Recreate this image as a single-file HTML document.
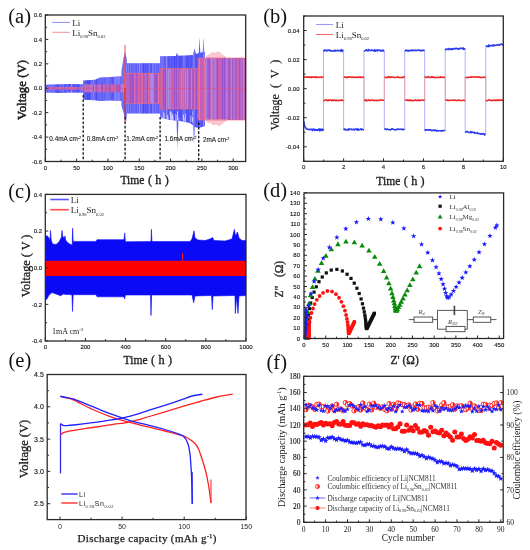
<!DOCTYPE html><html><head><meta charset="utf-8"><style>html,body{margin:0;padding:0;background:#fff;}svg{display:block;filter:blur(0.45px);}</style></head><body><svg width="530" height="550" viewBox="0 0 530 550">
<rect width="530" height="550" fill="#fff"/>
<defs>
<clipPath id="cbA"><polygon points="45.3,84.8 60.0,84.3 70.0,84.0 83.2,84.2 83.2,92.8 70.0,92.6 60.0,93.0 45.3,92.6"/><polygon points="83.2,80.6 95.0,79.8 100.0,77.6 110.0,77.0 124.0,76.2 125.1,75.0 125.1,101.5 124.0,101.0 110.0,100.6 100.0,101.0 95.0,100.2 83.2,99.8"/><polygon points="125.1,63.3 160.1,63.3 160.1,113.6 125.1,113.6"/><polygon points="121.5,71.0 123.5,58.0 125.0,52.0 126.5,58.0 127.0,63.0 127.0,114.0 126.0,122.0 124.0,114.0 121.5,106.0"/><polygon points="160.1,56.2 176.0,56.0 177.0,52.5 178.0,55.8 186.0,55.5 193.0,55.0 194.5,48.5 196.0,54.0 198.7,53.0 205.0,52.0 205.0,126.0 198.7,128.0 195.0,127.0 190.0,123.0 180.0,121.0 170.0,120.0 160.1,118.0"/><polygon points="176.5,118.0 177.5,149.5 178.5,118.0"/><polygon points="193.0,120.0 194.0,144.0 195.0,120.0"/><polygon points="198.5,60.0 199.5,37.3 200.5,55.0 202.5,55.0 203.6,37.3 204.6,60.0 204.6,120.0 198.5,120.0"/></clipPath>
<clipPath id="crA"><polygon points="45.3,86.9 83.2,86.9 83.2,89.4 45.3,89.4"/><polygon points="83.2,84.6 125.1,84.6 125.1,92.2 83.2,92.2"/><polygon points="125.1,73.3 160.1,73.3 160.1,103.6 125.1,103.6"/><polygon points="160.1,68.4 198.7,68.4 198.7,109.0 160.1,109.0"/><polygon points="198.2,58.0 245.7,58.0 245.7,120.0 198.2,120.0"/></clipPath>
</defs>
<g clip-path="url(#cbA)">
<rect x="45" y="15" width="201" height="147" fill="#5e5ef8"/>
<rect x="45.50" y="15" width="0.82" height="147" fill="#a8a8fc" fill-opacity="0.75"/>
<rect x="48.29" y="15" width="1.05" height="147" fill="#8484fa" fill-opacity="0.75"/>
<rect x="50.55" y="15" width="0.91" height="147" fill="#9a9afc" fill-opacity="0.75"/>
<rect x="53.25" y="15" width="0.83" height="147" fill="#a8a8fc" fill-opacity="0.75"/>
<rect x="55.94" y="15" width="0.57" height="147" fill="#4a4af4" fill-opacity="0.75"/>
<rect x="57.66" y="15" width="0.88" height="147" fill="#3c3cf0" fill-opacity="0.75"/>
<rect x="60.05" y="15" width="0.78" height="147" fill="#8484fa" fill-opacity="0.75"/>
<rect x="62.53" y="15" width="0.93" height="147" fill="#9a9afc" fill-opacity="0.75"/>
<rect x="64.96" y="15" width="1.08" height="147" fill="#3c3cf0" fill-opacity="0.75"/>
<rect x="66.55" y="15" width="0.63" height="147" fill="#9a9afc" fill-opacity="0.75"/>
<rect x="68.95" y="15" width="1.04" height="147" fill="#4a4af4" fill-opacity="0.75"/>
<rect x="71.11" y="15" width="1.09" height="147" fill="#a8a8fc" fill-opacity="0.75"/>
<rect x="72.96" y="15" width="0.71" height="147" fill="#3c3cf0" fill-opacity="0.75"/>
<rect x="75.46" y="15" width="0.82" height="147" fill="#4a4af4" fill-opacity="0.75"/>
<rect x="77.57" y="15" width="0.89" height="147" fill="#3c3cf0" fill-opacity="0.75"/>
<rect x="80.13" y="15" width="0.72" height="147" fill="#9a9afc" fill-opacity="0.75"/>
<rect x="82.40" y="15" width="0.52" height="147" fill="#a8a8fc" fill-opacity="0.75"/>
<rect x="85.05" y="15" width="0.78" height="147" fill="#4a4af4" fill-opacity="0.75"/>
<rect x="87.13" y="15" width="1.17" height="147" fill="#3c3cf0" fill-opacity="0.75"/>
<rect x="88.95" y="15" width="1.15" height="147" fill="#3c3cf0" fill-opacity="0.75"/>
<rect x="91.15" y="15" width="1.19" height="147" fill="#8484fa" fill-opacity="0.75"/>
<rect x="93.28" y="15" width="0.90" height="147" fill="#9a9afc" fill-opacity="0.75"/>
<rect x="95.95" y="15" width="0.69" height="147" fill="#3c3cf0" fill-opacity="0.75"/>
<rect x="97.92" y="15" width="0.51" height="147" fill="#8484fa" fill-opacity="0.75"/>
<rect x="100.55" y="15" width="0.58" height="147" fill="#9a9afc" fill-opacity="0.75"/>
<rect x="103.11" y="15" width="0.51" height="147" fill="#8484fa" fill-opacity="0.75"/>
<rect x="105.81" y="15" width="0.62" height="147" fill="#a8a8fc" fill-opacity="0.75"/>
<rect x="107.59" y="15" width="0.86" height="147" fill="#9a9afc" fill-opacity="0.75"/>
<rect x="109.72" y="15" width="0.77" height="147" fill="#8484fa" fill-opacity="0.75"/>
<rect x="111.85" y="15" width="0.65" height="147" fill="#4a4af4" fill-opacity="0.75"/>
<rect x="114.65" y="15" width="1.18" height="147" fill="#a8a8fc" fill-opacity="0.75"/>
<rect x="116.61" y="15" width="1.12" height="147" fill="#9a9afc" fill-opacity="0.75"/>
<rect x="118.39" y="15" width="1.20" height="147" fill="#a8a8fc" fill-opacity="0.75"/>
<rect x="120.85" y="15" width="0.57" height="147" fill="#9a9afc" fill-opacity="0.75"/>
<rect x="122.67" y="15" width="0.68" height="147" fill="#a8a8fc" fill-opacity="0.75"/>
<rect x="124.66" y="15" width="0.71" height="147" fill="#3c3cf0" fill-opacity="0.75"/>
<rect x="126.27" y="15" width="0.65" height="147" fill="#9a9afc" fill-opacity="0.75"/>
<rect x="127.80" y="15" width="0.76" height="147" fill="#a8a8fc" fill-opacity="0.75"/>
<rect x="129.98" y="15" width="1.17" height="147" fill="#8484fa" fill-opacity="0.75"/>
<rect x="132.73" y="15" width="0.60" height="147" fill="#8484fa" fill-opacity="0.75"/>
<rect x="134.50" y="15" width="0.61" height="147" fill="#9a9afc" fill-opacity="0.75"/>
<rect x="137.23" y="15" width="0.67" height="147" fill="#9a9afc" fill-opacity="0.75"/>
<rect x="138.96" y="15" width="0.94" height="147" fill="#a8a8fc" fill-opacity="0.75"/>
<rect x="140.76" y="15" width="1.17" height="147" fill="#8484fa" fill-opacity="0.75"/>
<rect x="143.16" y="15" width="0.80" height="147" fill="#3c3cf0" fill-opacity="0.75"/>
<rect x="144.83" y="15" width="0.86" height="147" fill="#4a4af4" fill-opacity="0.75"/>
<rect x="146.69" y="15" width="0.99" height="147" fill="#4a4af4" fill-opacity="0.75"/>
<rect x="148.82" y="15" width="1.13" height="147" fill="#8484fa" fill-opacity="0.75"/>
<rect x="150.76" y="15" width="0.62" height="147" fill="#3c3cf0" fill-opacity="0.75"/>
<rect x="152.45" y="15" width="0.84" height="147" fill="#a8a8fc" fill-opacity="0.75"/>
<rect x="154.87" y="15" width="0.70" height="147" fill="#9a9afc" fill-opacity="0.75"/>
<rect x="157.49" y="15" width="0.55" height="147" fill="#8484fa" fill-opacity="0.75"/>
<rect x="159.66" y="15" width="0.54" height="147" fill="#9a9afc" fill-opacity="0.75"/>
<rect x="161.58" y="15" width="0.87" height="147" fill="#9a9afc" fill-opacity="0.75"/>
<rect x="163.22" y="15" width="0.60" height="147" fill="#8484fa" fill-opacity="0.75"/>
<rect x="166.19" y="15" width="0.96" height="147" fill="#a8a8fc" fill-opacity="0.75"/>
<rect x="168.57" y="15" width="0.60" height="147" fill="#3c3cf0" fill-opacity="0.75"/>
<rect x="171.45" y="15" width="0.83" height="147" fill="#4a4af4" fill-opacity="0.75"/>
<rect x="174.01" y="15" width="1.17" height="147" fill="#3c3cf0" fill-opacity="0.75"/>
<rect x="176.40" y="15" width="0.55" height="147" fill="#3c3cf0" fill-opacity="0.75"/>
<rect x="179.00" y="15" width="0.72" height="147" fill="#3c3cf0" fill-opacity="0.75"/>
<rect x="180.61" y="15" width="0.88" height="147" fill="#3c3cf0" fill-opacity="0.75"/>
<rect x="183.46" y="15" width="1.02" height="147" fill="#9a9afc" fill-opacity="0.75"/>
<rect x="186.15" y="15" width="1.14" height="147" fill="#4a4af4" fill-opacity="0.75"/>
<rect x="187.78" y="15" width="0.83" height="147" fill="#3c3cf0" fill-opacity="0.75"/>
<rect x="190.59" y="15" width="0.79" height="147" fill="#3c3cf0" fill-opacity="0.75"/>
<rect x="193.38" y="15" width="0.90" height="147" fill="#a8a8fc" fill-opacity="0.75"/>
<rect x="195.87" y="15" width="0.77" height="147" fill="#3c3cf0" fill-opacity="0.75"/>
<rect x="198.29" y="15" width="0.56" height="147" fill="#3c3cf0" fill-opacity="0.75"/>
<rect x="201.28" y="15" width="1.12" height="147" fill="#4a4af4" fill-opacity="0.75"/>
<rect x="203.36" y="15" width="1.01" height="147" fill="#a8a8fc" fill-opacity="0.75"/>
<rect x="205.55" y="15" width="0.82" height="147" fill="#a8a8fc" fill-opacity="0.75"/>
<rect x="207.17" y="15" width="1.03" height="147" fill="#3c3cf0" fill-opacity="0.75"/>
<rect x="209.14" y="15" width="0.56" height="147" fill="#3c3cf0" fill-opacity="0.75"/>
<rect x="210.98" y="15" width="0.99" height="147" fill="#8484fa" fill-opacity="0.75"/>
<rect x="213.65" y="15" width="0.96" height="147" fill="#8484fa" fill-opacity="0.75"/>
<rect x="215.54" y="15" width="0.51" height="147" fill="#4a4af4" fill-opacity="0.75"/>
<rect x="217.25" y="15" width="0.93" height="147" fill="#a8a8fc" fill-opacity="0.75"/>
<rect x="219.01" y="15" width="1.13" height="147" fill="#8484fa" fill-opacity="0.75"/>
<rect x="221.25" y="15" width="0.67" height="147" fill="#8484fa" fill-opacity="0.75"/>
<rect x="223.75" y="15" width="0.64" height="147" fill="#8484fa" fill-opacity="0.75"/>
<rect x="226.46" y="15" width="1.03" height="147" fill="#9a9afc" fill-opacity="0.75"/>
<rect x="229.28" y="15" width="0.77" height="147" fill="#a8a8fc" fill-opacity="0.75"/>
<rect x="232.16" y="15" width="0.65" height="147" fill="#9a9afc" fill-opacity="0.75"/>
<rect x="234.40" y="15" width="1.09" height="147" fill="#3c3cf0" fill-opacity="0.75"/>
<rect x="236.97" y="15" width="1.17" height="147" fill="#4a4af4" fill-opacity="0.75"/>
<rect x="239.70" y="15" width="0.58" height="147" fill="#8484fa" fill-opacity="0.75"/>
<rect x="241.62" y="15" width="0.65" height="147" fill="#8484fa" fill-opacity="0.75"/>
<rect x="243.69" y="15" width="0.86" height="147" fill="#4a4af4" fill-opacity="0.75"/>
</g>
<rect x="176.1" y="114.8" width="0.5" height="10.8" fill="#fff" fill-opacity="0.7"/>
<rect x="169.3" y="111.2" width="0.4" height="4.0" fill="#fff" fill-opacity="0.7"/>
<rect x="166.8" y="114.6" width="0.8" height="11.9" fill="#fff" fill-opacity="0.7"/>
<rect x="175.0" y="113.8" width="0.6" height="9.2" fill="#fff" fill-opacity="0.7"/>
<rect x="163.7" y="116.9" width="0.5" height="8.6" fill="#fff" fill-opacity="0.7"/>
<rect x="163.6" y="111.7" width="0.5" height="11.6" fill="#fff" fill-opacity="0.7"/>
<rect x="184.1" y="117.8" width="0.6" height="3.3" fill="#fff" fill-opacity="0.7"/>
<rect x="178.7" y="117.4" width="0.6" height="4.7" fill="#fff" fill-opacity="0.7"/>
<rect x="170.2" y="111.3" width="0.9" height="9.1" fill="#fff" fill-opacity="0.7"/>
<rect x="177.1" y="111.3" width="0.8" height="9.4" fill="#fff" fill-opacity="0.7"/>
<rect x="185.2" y="113.3" width="0.8" height="10.5" fill="#fff" fill-opacity="0.7"/>
<rect x="182.8" y="114.8" width="0.7" height="5.1" fill="#fff" fill-opacity="0.7"/>
<rect x="190.4" y="115.8" width="0.9" height="6.1" fill="#fff" fill-opacity="0.7"/>
<rect x="192.1" y="111.3" width="0.5" height="4.4" fill="#fff" fill-opacity="0.7"/>
<rect x="161.5" y="116.3" width="0.7" height="8.8" fill="#fff" fill-opacity="0.7"/>
<rect x="197.8" y="113.5" width="0.5" height="4.8" fill="#fff" fill-opacity="0.7"/>
<rect x="173.6" y="116.9" width="0.4" height="8.5" fill="#fff" fill-opacity="0.7"/>
<rect x="177.0" y="111.3" width="0.5" height="8.6" fill="#fff" fill-opacity="0.7"/>
<rect x="167.6" y="115.5" width="0.8" height="10.5" fill="#fff" fill-opacity="0.7"/>
<rect x="171.9" y="115.5" width="0.4" height="5.4" fill="#fff" fill-opacity="0.7"/>
<rect x="171.1" y="115.8" width="0.5" height="8.6" fill="#fff" fill-opacity="0.7"/>
<rect x="192.1" y="116.8" width="1.0" height="5.5" fill="#fff" fill-opacity="0.7"/>
<rect x="170.7" y="111.5" width="0.9" height="7.6" fill="#fff" fill-opacity="0.7"/>
<rect x="183.2" y="114.8" width="0.6" height="7.4" fill="#fff" fill-opacity="0.7"/>
<rect x="172.1" y="113.8" width="1.0" height="7.9" fill="#fff" fill-opacity="0.7"/>
<rect x="163.7" y="112.8" width="0.8" height="11.5" fill="#fff" fill-opacity="0.7"/>
<g clip-path="url(#crA)">
<rect x="45" y="15" width="201" height="147" fill="#b464c4"/>
<rect x="45.50" y="15" width="0.98" height="147" fill="#9048d4" fill-opacity="0.8"/>
<rect x="47.33" y="15" width="0.88" height="147" fill="#b0a0f4" fill-opacity="0.8"/>
<rect x="48.55" y="15" width="0.90" height="147" fill="#d85aa8" fill-opacity="0.8"/>
<rect x="50.52" y="15" width="0.97" height="147" fill="#a890f0" fill-opacity="0.8"/>
<rect x="52.44" y="15" width="1.05" height="147" fill="#9048d4" fill-opacity="0.8"/>
<rect x="54.39" y="15" width="1.38" height="147" fill="#d85aa8" fill-opacity="0.8"/>
<rect x="55.79" y="15" width="1.32" height="147" fill="#f06090" fill-opacity="0.8"/>
<rect x="57.68" y="15" width="0.76" height="147" fill="#f07898" fill-opacity="0.8"/>
<rect x="59.70" y="15" width="0.87" height="147" fill="#b0a0f4" fill-opacity="0.8"/>
<rect x="61.86" y="15" width="0.67" height="147" fill="#f06090" fill-opacity="0.8"/>
<rect x="64.04" y="15" width="1.13" height="147" fill="#8a50dc" fill-opacity="0.8"/>
<rect x="65.35" y="15" width="1.39" height="147" fill="#b0a0f4" fill-opacity="0.8"/>
<rect x="66.69" y="15" width="0.94" height="147" fill="#8a50dc" fill-opacity="0.8"/>
<rect x="68.53" y="15" width="1.31" height="147" fill="#f07898" fill-opacity="0.8"/>
<rect x="69.93" y="15" width="1.16" height="147" fill="#f06090" fill-opacity="0.8"/>
<rect x="71.80" y="15" width="1.01" height="147" fill="#f06090" fill-opacity="0.8"/>
<rect x="73.48" y="15" width="0.94" height="147" fill="#f07898" fill-opacity="0.8"/>
<rect x="75.24" y="15" width="1.09" height="147" fill="#f07898" fill-opacity="0.8"/>
<rect x="76.48" y="15" width="1.18" height="147" fill="#8a50dc" fill-opacity="0.8"/>
<rect x="78.85" y="15" width="1.13" height="147" fill="#d85aa8" fill-opacity="0.8"/>
<rect x="81.18" y="15" width="1.29" height="147" fill="#b0a0f4" fill-opacity="0.8"/>
<rect x="83.19" y="15" width="0.69" height="147" fill="#8a50dc" fill-opacity="0.8"/>
<rect x="84.79" y="15" width="0.90" height="147" fill="#f07898" fill-opacity="0.8"/>
<rect x="86.96" y="15" width="1.00" height="147" fill="#f06090" fill-opacity="0.8"/>
<rect x="88.62" y="15" width="1.29" height="147" fill="#f06090" fill-opacity="0.8"/>
<rect x="90.44" y="15" width="0.78" height="147" fill="#b0a0f4" fill-opacity="0.8"/>
<rect x="91.69" y="15" width="0.76" height="147" fill="#f07898" fill-opacity="0.8"/>
<rect x="93.02" y="15" width="1.04" height="147" fill="#8a50dc" fill-opacity="0.8"/>
<rect x="94.31" y="15" width="0.82" height="147" fill="#b0a0f4" fill-opacity="0.8"/>
<rect x="95.84" y="15" width="0.88" height="147" fill="#9048d4" fill-opacity="0.8"/>
<rect x="97.91" y="15" width="1.01" height="147" fill="#d85aa8" fill-opacity="0.8"/>
<rect x="99.36" y="15" width="0.83" height="147" fill="#b0a0f4" fill-opacity="0.8"/>
<rect x="101.40" y="15" width="1.28" height="147" fill="#8a50dc" fill-opacity="0.8"/>
<rect x="103.75" y="15" width="0.73" height="147" fill="#f07898" fill-opacity="0.8"/>
<rect x="105.38" y="15" width="0.75" height="147" fill="#9048d4" fill-opacity="0.8"/>
<rect x="106.85" y="15" width="1.09" height="147" fill="#d85aa8" fill-opacity="0.8"/>
<rect x="109.15" y="15" width="1.24" height="147" fill="#8a50dc" fill-opacity="0.8"/>
<rect x="110.64" y="15" width="0.61" height="147" fill="#f06090" fill-opacity="0.8"/>
<rect x="112.13" y="15" width="0.69" height="147" fill="#d85aa8" fill-opacity="0.8"/>
<rect x="114.53" y="15" width="1.00" height="147" fill="#f06090" fill-opacity="0.8"/>
<rect x="116.84" y="15" width="1.31" height="147" fill="#9048d4" fill-opacity="0.8"/>
<rect x="119.04" y="15" width="1.11" height="147" fill="#8a50dc" fill-opacity="0.8"/>
<rect x="121.18" y="15" width="1.00" height="147" fill="#b0a0f4" fill-opacity="0.8"/>
<rect x="123.14" y="15" width="0.81" height="147" fill="#b0a0f4" fill-opacity="0.8"/>
<rect x="125.41" y="15" width="0.73" height="147" fill="#d85aa8" fill-opacity="0.8"/>
<rect x="127.35" y="15" width="0.64" height="147" fill="#d85aa8" fill-opacity="0.8"/>
<rect x="129.68" y="15" width="1.01" height="147" fill="#9048d4" fill-opacity="0.8"/>
<rect x="131.42" y="15" width="1.23" height="147" fill="#9048d4" fill-opacity="0.8"/>
<rect x="132.96" y="15" width="0.80" height="147" fill="#9048d4" fill-opacity="0.8"/>
<rect x="134.16" y="15" width="0.62" height="147" fill="#f07898" fill-opacity="0.8"/>
<rect x="136.43" y="15" width="0.94" height="147" fill="#8a50dc" fill-opacity="0.8"/>
<rect x="137.87" y="15" width="0.98" height="147" fill="#f06090" fill-opacity="0.8"/>
<rect x="139.74" y="15" width="1.10" height="147" fill="#d85aa8" fill-opacity="0.8"/>
<rect x="141.85" y="15" width="0.93" height="147" fill="#f07898" fill-opacity="0.8"/>
<rect x="143.16" y="15" width="0.92" height="147" fill="#8a50dc" fill-opacity="0.8"/>
<rect x="145.06" y="15" width="0.88" height="147" fill="#d85aa8" fill-opacity="0.8"/>
<rect x="147.02" y="15" width="0.91" height="147" fill="#8a50dc" fill-opacity="0.8"/>
<rect x="148.25" y="15" width="1.17" height="147" fill="#f06090" fill-opacity="0.8"/>
<rect x="150.40" y="15" width="1.32" height="147" fill="#b0a0f4" fill-opacity="0.8"/>
<rect x="152.24" y="15" width="1.23" height="147" fill="#b0a0f4" fill-opacity="0.8"/>
<rect x="154.40" y="15" width="1.17" height="147" fill="#8a50dc" fill-opacity="0.8"/>
<rect x="155.97" y="15" width="1.35" height="147" fill="#9048d4" fill-opacity="0.8"/>
<rect x="157.99" y="15" width="0.99" height="147" fill="#f07898" fill-opacity="0.8"/>
<rect x="159.34" y="15" width="1.03" height="147" fill="#9048d4" fill-opacity="0.8"/>
<rect x="161.36" y="15" width="1.06" height="147" fill="#f06090" fill-opacity="0.8"/>
<rect x="163.05" y="15" width="0.86" height="147" fill="#9048d4" fill-opacity="0.8"/>
<rect x="164.65" y="15" width="1.15" height="147" fill="#9048d4" fill-opacity="0.8"/>
<rect x="166.22" y="15" width="1.16" height="147" fill="#a890f0" fill-opacity="0.8"/>
<rect x="168.23" y="15" width="1.11" height="147" fill="#b0a0f4" fill-opacity="0.8"/>
<rect x="169.87" y="15" width="0.62" height="147" fill="#b0a0f4" fill-opacity="0.8"/>
<rect x="171.82" y="15" width="0.99" height="147" fill="#f06090" fill-opacity="0.8"/>
<rect x="173.82" y="15" width="0.87" height="147" fill="#8a50dc" fill-opacity="0.8"/>
<rect x="176.08" y="15" width="0.68" height="147" fill="#8a50dc" fill-opacity="0.8"/>
<rect x="177.29" y="15" width="0.89" height="147" fill="#d85aa8" fill-opacity="0.8"/>
<rect x="179.51" y="15" width="1.15" height="147" fill="#d85aa8" fill-opacity="0.8"/>
<rect x="180.98" y="15" width="1.34" height="147" fill="#f07898" fill-opacity="0.8"/>
<rect x="183.26" y="15" width="0.87" height="147" fill="#f07898" fill-opacity="0.8"/>
<rect x="185.02" y="15" width="1.09" height="147" fill="#a890f0" fill-opacity="0.8"/>
<rect x="187.06" y="15" width="0.97" height="147" fill="#a890f0" fill-opacity="0.8"/>
<rect x="189.29" y="15" width="1.27" height="147" fill="#8a50dc" fill-opacity="0.8"/>
<rect x="190.98" y="15" width="1.16" height="147" fill="#a890f0" fill-opacity="0.8"/>
<rect x="192.65" y="15" width="1.14" height="147" fill="#9048d4" fill-opacity="0.8"/>
<rect x="193.91" y="15" width="0.69" height="147" fill="#f07898" fill-opacity="0.8"/>
<rect x="195.93" y="15" width="0.88" height="147" fill="#9048d4" fill-opacity="0.8"/>
<rect x="197.15" y="15" width="1.22" height="147" fill="#d85aa8" fill-opacity="0.8"/>
<rect x="199.11" y="15" width="0.74" height="147" fill="#b0a0f4" fill-opacity="0.8"/>
<rect x="200.58" y="15" width="1.04" height="147" fill="#d85aa8" fill-opacity="0.8"/>
<rect x="202.38" y="15" width="0.94" height="147" fill="#d85aa8" fill-opacity="0.8"/>
<rect x="203.92" y="15" width="1.35" height="147" fill="#f07898" fill-opacity="0.8"/>
<rect x="205.46" y="15" width="1.25" height="147" fill="#a890f0" fill-opacity="0.8"/>
<rect x="207.73" y="15" width="0.86" height="147" fill="#8a50dc" fill-opacity="0.8"/>
<rect x="209.25" y="15" width="0.63" height="147" fill="#9048d4" fill-opacity="0.8"/>
<rect x="211.18" y="15" width="1.23" height="147" fill="#b0a0f4" fill-opacity="0.8"/>
<rect x="212.88" y="15" width="1.13" height="147" fill="#d85aa8" fill-opacity="0.8"/>
<rect x="214.57" y="15" width="0.90" height="147" fill="#b0a0f4" fill-opacity="0.8"/>
<rect x="216.90" y="15" width="1.25" height="147" fill="#8a50dc" fill-opacity="0.8"/>
<rect x="218.30" y="15" width="0.76" height="147" fill="#d85aa8" fill-opacity="0.8"/>
<rect x="219.64" y="15" width="0.81" height="147" fill="#f06090" fill-opacity="0.8"/>
<rect x="221.88" y="15" width="1.12" height="147" fill="#9048d4" fill-opacity="0.8"/>
<rect x="224.06" y="15" width="0.89" height="147" fill="#9048d4" fill-opacity="0.8"/>
<rect x="226.36" y="15" width="1.22" height="147" fill="#a890f0" fill-opacity="0.8"/>
<rect x="228.60" y="15" width="1.27" height="147" fill="#8a50dc" fill-opacity="0.8"/>
<rect x="230.70" y="15" width="1.29" height="147" fill="#f07898" fill-opacity="0.8"/>
<rect x="232.27" y="15" width="0.61" height="147" fill="#8a50dc" fill-opacity="0.8"/>
<rect x="233.70" y="15" width="0.76" height="147" fill="#a890f0" fill-opacity="0.8"/>
<rect x="235.26" y="15" width="0.75" height="147" fill="#8a50dc" fill-opacity="0.8"/>
<rect x="237.39" y="15" width="1.04" height="147" fill="#f06090" fill-opacity="0.8"/>
<rect x="239.32" y="15" width="0.68" height="147" fill="#9048d4" fill-opacity="0.8"/>
<rect x="241.11" y="15" width="0.76" height="147" fill="#f06090" fill-opacity="0.8"/>
<rect x="242.95" y="15" width="1.12" height="147" fill="#a890f0" fill-opacity="0.8"/>
<rect x="244.62" y="15" width="0.99" height="147" fill="#d85aa8" fill-opacity="0.8"/>
</g>
<path d="M206,57.5 L208,55 L210,55.2 L212,52.5 L215,53.5 L218,51.8 L221,53.5 L223,55.5 L226,57.5 Z" fill="#fbc8cf" stroke="#f49aa2" stroke-width="0.5"/>
<path d="M206,119.8 L208,122.5 L211,122.5 L213,125 L216,124 L219,125.5 L222,123.5 L224,122 L227,119.8 Z" fill="#fbc8cf" stroke="#f49aa2" stroke-width="0.5"/>
<polygon points="125.1,73.3 160.1,73.3 160.1,103.6 125.1,103.6" fill="none" stroke="#f06a7a" stroke-width="0.8" stroke-opacity="0.8"/>
<polygon points="160.1,68.4 198.7,68.4 198.7,109.0 160.1,109.0" fill="none" stroke="#f06a7a" stroke-width="0.8" stroke-opacity="0.8"/>
<polygon points="198.2,58.0 245.7,58.0 245.7,120.0 198.2,120.0" fill="none" stroke="#f06a7a" stroke-width="0.8" stroke-opacity="0.8"/>
<line x1="45.3" y1="88.3" x2="245.7" y2="88.3" stroke="#e05080" stroke-width="0.8" stroke-opacity="0.8"/>
<polyline points="124.2,100 125.0,45 125.8,100" fill="#f05a5a" stroke="#f05a5a" stroke-width="0.6"/>
<polyline points="124.4,88 125.0,122 125.6,88" fill="#d04040" stroke="#d04040" stroke-width="0.5"/>
<line x1="83.2" y1="95" x2="83.2" y2="161" stroke="#111" stroke-width="1.3" stroke-dasharray="2.6,1.8"/>
<line x1="125.1" y1="117" x2="125.1" y2="161" stroke="#111" stroke-width="1.3" stroke-dasharray="2.6,1.8"/>
<line x1="160.1" y1="117" x2="160.1" y2="161" stroke="#111" stroke-width="1.3" stroke-dasharray="2.6,1.8"/>
<line x1="198.7" y1="122.5" x2="198.7" y2="161" stroke="#111" stroke-width="1.3" stroke-dasharray="2.6,1.8"/>
<rect x="45.3" y="15" width="200.40" height="146.50" fill="none" stroke="#2a2a2a" stroke-width="1.3"/>
<line x1="45.30" y1="161.5" x2="45.30" y2="158.5" stroke="#2a2a2a" stroke-width="1"/>
<text x="45.30" y="169.50" font-family='"Liberation Sans", sans-serif' font-size="6" text-anchor="middle" font-weight="normal" fill="#111" stroke="#111" stroke-width="0.12">0</text>
<line x1="60.96" y1="161.5" x2="60.96" y2="159.7" stroke="#2a2a2a" stroke-width="1"/>
<line x1="76.61" y1="161.5" x2="76.61" y2="158.5" stroke="#2a2a2a" stroke-width="1"/>
<text x="76.61" y="169.50" font-family='"Liberation Sans", sans-serif' font-size="6" text-anchor="middle" font-weight="normal" fill="#111" stroke="#111" stroke-width="0.12">50</text>
<line x1="92.27" y1="161.5" x2="92.27" y2="159.7" stroke="#2a2a2a" stroke-width="1"/>
<line x1="107.92" y1="161.5" x2="107.92" y2="158.5" stroke="#2a2a2a" stroke-width="1"/>
<text x="107.92" y="169.50" font-family='"Liberation Sans", sans-serif' font-size="6" text-anchor="middle" font-weight="normal" fill="#111" stroke="#111" stroke-width="0.12">100</text>
<line x1="123.58" y1="161.5" x2="123.58" y2="159.7" stroke="#2a2a2a" stroke-width="1"/>
<line x1="139.24" y1="161.5" x2="139.24" y2="158.5" stroke="#2a2a2a" stroke-width="1"/>
<text x="139.24" y="169.50" font-family='"Liberation Sans", sans-serif' font-size="6" text-anchor="middle" font-weight="normal" fill="#111" stroke="#111" stroke-width="0.12">150</text>
<line x1="154.89" y1="161.5" x2="154.89" y2="159.7" stroke="#2a2a2a" stroke-width="1"/>
<line x1="170.55" y1="161.5" x2="170.55" y2="158.5" stroke="#2a2a2a" stroke-width="1"/>
<text x="170.55" y="169.50" font-family='"Liberation Sans", sans-serif' font-size="6" text-anchor="middle" font-weight="normal" fill="#111" stroke="#111" stroke-width="0.12">200</text>
<line x1="186.21" y1="161.5" x2="186.21" y2="159.7" stroke="#2a2a2a" stroke-width="1"/>
<line x1="201.86" y1="161.5" x2="201.86" y2="158.5" stroke="#2a2a2a" stroke-width="1"/>
<text x="201.86" y="169.50" font-family='"Liberation Sans", sans-serif' font-size="6" text-anchor="middle" font-weight="normal" fill="#111" stroke="#111" stroke-width="0.12">250</text>
<line x1="217.52" y1="161.5" x2="217.52" y2="159.7" stroke="#2a2a2a" stroke-width="1"/>
<line x1="233.18" y1="161.5" x2="233.18" y2="158.5" stroke="#2a2a2a" stroke-width="1"/>
<text x="233.18" y="169.50" font-family='"Liberation Sans", sans-serif' font-size="6" text-anchor="middle" font-weight="normal" fill="#111" stroke="#111" stroke-width="0.12">300</text>
<line x1="45.3" y1="161.50" x2="48.3" y2="161.50" stroke="#2a2a2a" stroke-width="1"/>
<text x="42.00" y="163.66" font-family='"Liberation Sans", sans-serif' font-size="6" text-anchor="end" font-weight="normal" fill="#111" stroke="#111" stroke-width="0.12">-0.6</text>
<line x1="45.3" y1="149.29" x2="47.099999999999994" y2="149.29" stroke="#2a2a2a" stroke-width="1"/>
<line x1="45.3" y1="137.08" x2="48.3" y2="137.08" stroke="#2a2a2a" stroke-width="1"/>
<text x="42.00" y="139.24" font-family='"Liberation Sans", sans-serif' font-size="6" text-anchor="end" font-weight="normal" fill="#111" stroke="#111" stroke-width="0.12">-0.4</text>
<line x1="45.3" y1="124.88" x2="47.099999999999994" y2="124.88" stroke="#2a2a2a" stroke-width="1"/>
<line x1="45.3" y1="112.67" x2="48.3" y2="112.67" stroke="#2a2a2a" stroke-width="1"/>
<text x="42.00" y="114.83" font-family='"Liberation Sans", sans-serif' font-size="6" text-anchor="end" font-weight="normal" fill="#111" stroke="#111" stroke-width="0.12">-0.2</text>
<line x1="45.3" y1="100.46" x2="47.099999999999994" y2="100.46" stroke="#2a2a2a" stroke-width="1"/>
<line x1="45.3" y1="88.25" x2="48.3" y2="88.25" stroke="#2a2a2a" stroke-width="1"/>
<text x="42.00" y="90.41" font-family='"Liberation Sans", sans-serif' font-size="6" text-anchor="end" font-weight="normal" fill="#111" stroke="#111" stroke-width="0.12">0.0</text>
<line x1="45.3" y1="76.04" x2="47.099999999999994" y2="76.04" stroke="#2a2a2a" stroke-width="1"/>
<line x1="45.3" y1="63.83" x2="48.3" y2="63.83" stroke="#2a2a2a" stroke-width="1"/>
<text x="42.00" y="65.99" font-family='"Liberation Sans", sans-serif' font-size="6" text-anchor="end" font-weight="normal" fill="#111" stroke="#111" stroke-width="0.12">0.2</text>
<line x1="45.3" y1="51.62" x2="47.099999999999994" y2="51.62" stroke="#2a2a2a" stroke-width="1"/>
<line x1="45.3" y1="39.42" x2="48.3" y2="39.42" stroke="#2a2a2a" stroke-width="1"/>
<text x="42.00" y="41.58" font-family='"Liberation Sans", sans-serif' font-size="6" text-anchor="end" font-weight="normal" fill="#111" stroke="#111" stroke-width="0.12">0.4</text>
<line x1="45.3" y1="27.21" x2="47.099999999999994" y2="27.21" stroke="#2a2a2a" stroke-width="1"/>
<line x1="45.3" y1="15.00" x2="48.3" y2="15.00" stroke="#2a2a2a" stroke-width="1"/>
<text x="42.00" y="17.16" font-family='"Liberation Sans", sans-serif' font-size="6" text-anchor="end" font-weight="normal" fill="#111" stroke="#111" stroke-width="0.12">0.6</text>
<text x="8.30" y="22.80" font-family='"Liberation Serif", serif' font-size="20.5" text-anchor="start" font-weight="normal" fill="#111" >(a)</text>
<line x1="52.2" y1="22.4" x2="69.9" y2="22.4" stroke="#8a8af8" stroke-width="1"/>
<line x1="52.2" y1="32.3" x2="69.9" y2="32.3" stroke="#f89090" stroke-width="1"/>
<text x="72.20" y="25.60" font-family='"Liberation Serif", serif' font-size="9" text-anchor="start" font-weight="normal" fill="#222" >Li</text>
<text x="72.2" y="35.6" font-family='"Liberation Serif", serif' font-size="9" fill="#222">Li<tspan font-size="4.5" dy="2.7">0.98</tspan><tspan dy="-2.7">Sn</tspan><tspan font-size="4.5" dy="2.7">0.02</tspan></text>
<text x="49.3" y="141.3" font-family='"Liberation Sans", sans-serif' font-size="6.4" fill="#1a1a1a" stroke="#1a1a1a" stroke-width="0.1">0.4mA cm<tspan font-size="3.8" dy="-2.4">-2</tspan></text>
<text x="86.7" y="141.3" font-family='"Liberation Sans", sans-serif' font-size="6.4" fill="#1a1a1a" stroke="#1a1a1a" stroke-width="0.1">0.8mA cm<tspan font-size="3.8" dy="-2.4">-2</tspan></text>
<text x="126.3" y="141.3" font-family='"Liberation Sans", sans-serif' font-size="6.4" fill="#1a1a1a" stroke="#1a1a1a" stroke-width="0.1">1.2mA cm<tspan font-size="3.8" dy="-2.4">-2</tspan></text>
<text x="164.5" y="141.3" font-family='"Liberation Sans", sans-serif' font-size="6.4" fill="#1a1a1a" stroke="#1a1a1a" stroke-width="0.1">1.6mA cm<tspan font-size="3.8" dy="-2.4">-2</tspan></text>
<text x="202.9" y="142.3" font-family='"Liberation Sans", sans-serif' font-size="6.4" fill="#1a1a1a" stroke="#1a1a1a" stroke-width="0.1">2mA cm<tspan font-size="3.8" dy="-2.4">-2</tspan></text>
<text x="120.40" y="184.1" font-family='"Liberation Serif", serif' font-size="12.2" fill="#1a1a1a" textLength="24" lengthAdjust="spacingAndGlyphs" stroke="#1a1a1a" stroke-width="0.3">Time</text>
<text x="147.90" y="184.1" font-family='"Liberation Serif", serif' font-size="12.2" fill="#1a1a1a" stroke="#1a1a1a" stroke-width="0.3">(</text>
<text x="158.40" y="184.1" font-family='"Liberation Serif", serif' font-size="12.2" fill="#1a1a1a" text-anchor="middle" stroke="#1a1a1a" stroke-width="0.3">h</text>
<text x="164.70" y="184.1" font-family='"Liberation Serif", serif' font-size="12.2" fill="#1a1a1a" stroke="#1a1a1a" stroke-width="0.3">)</text>
<text x="0" y="0" transform="translate(25.6,90) rotate(-90)" font-family='"Liberation Serif", serif' font-size="12.8" text-anchor="middle" fill="#1a1a1a" stroke="#1a1a1a" stroke-width="0.5">Voltage (V)</text>
<line x1="323.46" y1="129.8" x2="323.46" y2="50.6" stroke="#a8a8fa" stroke-width="0.9"/>
<line x1="343.62" y1="50.6" x2="343.62" y2="129.5" stroke="#a8a8fa" stroke-width="0.9"/>
<line x1="363.98" y1="129.5" x2="363.98" y2="50.3" stroke="#a8a8fa" stroke-width="0.9"/>
<line x1="384.34" y1="50.6" x2="384.34" y2="129.5" stroke="#a8a8fa" stroke-width="0.9"/>
<line x1="404.70" y1="129.5" x2="404.70" y2="50.6" stroke="#a8a8fa" stroke-width="0.9"/>
<line x1="424.66" y1="50.6" x2="424.66" y2="129.9" stroke="#a8a8fa" stroke-width="0.9"/>
<line x1="445.22" y1="130.6" x2="445.22" y2="49.1" stroke="#a8a8fa" stroke-width="0.9"/>
<line x1="465.18" y1="48.5" x2="465.18" y2="131.7" stroke="#a8a8fa" stroke-width="0.9"/>
<line x1="485.74" y1="134.4" x2="485.74" y2="46.4" stroke="#a8a8fa" stroke-width="0.9"/>
<polyline points="303.7,121.1 304.7,126.4 306.7,129.0 309.7,129.6 310.1,129.5 310.6,129.4 311.1,129.3 311.5,129.5 312.0,129.3 312.4,130.3 312.9,129.8 313.4,129.3 313.8,129.6 314.3,129.3 314.7,130.2 315.2,129.8 315.7,130.1 316.1,129.7 316.6,129.7 317.0,130.3 317.5,130.1 318.0,130.0 318.4,129.3 318.9,129.5 319.3,130.2 319.8,129.4 320.2,130.2 320.7,129.6 321.2,130.2 321.6,130.3 322.1,129.3 322.5,130.1 323.0,130.1 323.5,129.2" fill="none" stroke="#2a3aee" stroke-width="1.6"/>
<polyline points="323.5,50.1 324.1,50.8 324.8,50.0 325.5,50.5 326.1,50.4 326.8,50.9 327.5,50.1 328.2,50.4 328.8,50.0 329.5,50.1 330.2,50.8 330.9,50.7 331.5,51.0 332.2,51.0 332.9,51.1 333.5,50.8 334.2,50.5 334.9,51.2 335.6,50.4 336.2,50.8 336.9,50.8 337.6,50.2 338.2,50.6 338.9,50.8 339.6,50.6 340.3,50.3 340.9,51.1 341.6,50.0 342.3,51.1 342.9,50.3 343.6,50.2" fill="none" stroke="#2a3aee" stroke-width="1.6"/>
<polyline points="343.6,130.0 344.3,129.1 345.0,129.6 345.7,129.4 346.3,130.0 347.0,130.0 347.7,129.9 348.4,129.0 349.0,129.8 349.7,129.2 350.4,129.0 351.1,129.0 351.8,129.7 352.4,129.6 353.1,129.5 353.8,129.2 354.5,129.9 355.2,129.2 355.8,129.1 356.5,129.1 357.2,130.0 357.9,129.0 358.6,130.0 359.2,129.7 359.9,129.4 360.6,129.0 361.3,129.7 361.9,129.0 362.6,129.4 363.3,129.7 364.0,129.7" fill="none" stroke="#2a3aee" stroke-width="1.6"/>
<polyline points="364.0,50.7 364.7,50.8 365.3,50.7 366.0,50.1 366.7,49.8 367.4,50.7 368.1,50.9 368.7,49.8 369.4,50.3 370.1,50.5 370.8,50.7 371.4,50.3 372.1,50.0 372.8,50.5 373.5,50.5 374.2,51.0 374.8,50.0 375.5,51.0 376.2,50.5 376.9,50.1 377.6,50.9 378.2,50.2 378.9,50.0 379.6,50.4 380.3,50.2 380.9,51.0 381.6,50.6 382.3,51.0 383.0,50.2 383.7,50.8 384.3,50.6" fill="none" stroke="#2a3aee" stroke-width="1.6"/>
<polyline points="384.3,128.9 385.0,129.1 385.7,128.9 386.4,129.5 387.1,129.5 387.7,129.2 388.4,129.5 389.1,129.7 389.8,129.6 390.4,129.9 391.1,129.6 391.8,128.9 392.5,128.9 393.2,129.3 393.8,129.5 394.5,129.7 395.2,130.0 395.9,129.7 396.6,129.2 397.2,129.1 397.9,129.6 398.6,129.1 399.3,129.2 399.9,129.3 400.6,129.3 401.3,129.2 402.0,129.6 402.7,129.2 403.3,129.7 404.0,129.5 404.7,129.2" fill="none" stroke="#2a3aee" stroke-width="1.6"/>
<polyline points="404.7,50.4 405.4,50.8 406.0,50.1 406.7,50.4 407.4,50.5 408.0,51.1 408.7,50.5 409.4,50.9 410.0,50.4 410.7,50.6 411.4,50.2 412.0,50.4 412.7,50.2 413.3,50.8 414.0,50.4 414.7,50.3 415.3,50.2 416.0,50.8 416.7,50.2 417.3,50.2 418.0,50.4 418.7,50.0 419.3,50.1 420.0,50.6 420.7,50.5 421.3,51.0 422.0,50.2 422.7,50.1 423.3,50.6 424.0,50.4 424.7,50.3" fill="none" stroke="#2a3aee" stroke-width="1.6"/>
<polyline points="424.7,129.6 425.3,130.3 426.0,129.6 426.7,129.9 427.4,129.8 428.1,130.1 428.8,129.9 429.5,129.8 430.1,129.9 430.8,129.9 431.5,130.7 432.2,130.6 432.9,130.3 433.6,130.1 434.3,130.6 434.9,130.1 435.6,130.2 436.3,130.9 437.0,130.4 437.7,130.7 438.4,130.9 439.0,130.8 439.7,130.7 440.4,130.8 441.1,130.9 441.8,131.1 442.5,130.6 443.2,130.7 443.8,130.5 444.5,130.5 445.2,130.9" fill="none" stroke="#2a3aee" stroke-width="1.6"/>
<polyline points="445.2,48.7 445.9,49.7 446.5,49.2 447.2,49.3 447.9,49.2 448.5,49.5 449.2,48.6 449.9,49.1 450.5,49.5 451.2,48.8 451.9,49.4 452.5,48.9 453.2,49.1 453.9,48.8 454.5,48.3 455.2,48.5 455.9,48.9 456.5,48.4 457.2,48.6 457.9,48.9 458.5,49.2 459.2,48.6 459.9,48.6 460.5,48.2 461.2,48.1 461.8,48.5 462.5,48.8 463.2,48.1 463.8,49.2 464.5,49.0 465.2,48.5" fill="none" stroke="#2a3aee" stroke-width="1.6"/>
<polyline points="465.2,131.5 465.9,132.2 466.5,131.7 467.2,131.5 467.9,132.2 468.6,132.2 469.3,132.5 470.0,132.5 470.7,131.8 471.3,132.6 472.0,132.0 472.7,132.2 473.4,132.7 474.1,133.1 474.8,132.4 475.5,133.0 476.1,133.2 476.8,133.4 477.5,132.8 478.2,133.4 478.9,133.7 479.6,133.6 480.3,134.1 480.9,133.6 481.6,133.9 482.3,134.2 483.0,133.7 483.7,133.8 484.4,134.8 485.0,134.3 485.7,134.7" fill="none" stroke="#2a3aee" stroke-width="1.6"/>
<polyline points="485.7,45.9 486.3,46.0 486.9,46.5 487.5,46.4 488.1,46.5 488.7,45.4 489.2,46.2 489.8,45.7 490.4,45.8 491.0,45.5 491.6,45.5 492.2,45.3 492.8,45.9 493.3,45.1 493.9,45.6 494.5,45.2 495.1,45.4 495.7,45.4 496.3,45.0 496.9,45.0 497.4,45.1 498.0,44.6 498.6,44.7 499.2,45.2 499.8,44.9 500.4,44.6 501.0,44.0 501.5,44.0 502.1,44.3 502.7,44.8 503.3,43.9" fill="none" stroke="#2a3aee" stroke-width="1.6"/>
<polyline points="303.7,77.2 304.4,77.1 305.0,77.0 305.7,77.1 306.3,77.2 307.0,76.8 307.7,77.3 308.3,77.3 309.0,76.9 309.6,77.4 310.3,77.3 310.9,76.9 311.6,77.5 312.3,76.9 312.9,77.0 313.6,77.2 314.2,77.4 314.9,76.9 315.6,76.8 316.2,77.5 316.9,77.2 317.5,77.1 318.2,77.2 318.8,77.3 319.5,77.5 320.2,77.1 320.8,76.9 321.5,77.5 322.1,77.4 322.8,76.9 323.5,76.9" fill="none" stroke="#ee2222" stroke-width="1.5"/>
<polyline points="323.5,100.1 324.1,100.7 324.8,100.1 325.5,99.9 326.1,99.8 326.8,100.1 327.5,100.7 328.2,100.0 328.8,100.5 329.5,100.1 330.2,99.9 330.9,100.1 331.5,100.6 332.2,100.5 332.9,99.9 333.5,100.6 334.2,100.2 334.9,100.3 335.6,100.6 336.2,100.2 336.9,100.7 337.6,100.6 338.2,100.4 338.9,100.6 339.6,100.7 340.3,100.2 340.9,100.1 341.6,99.9 342.3,100.6 342.9,100.3 343.6,100.4" fill="none" stroke="#ee2222" stroke-width="1.5"/>
<line x1="323.46" y1="77.2" x2="323.46" y2="100.3" stroke="#f29a9a" stroke-width="0.8"/>
<polyline points="343.6,77.1 344.3,77.2 345.0,76.8 345.7,77.3 346.3,77.6 347.0,77.0 347.7,77.5 348.4,77.1 349.0,77.2 349.7,76.8 350.4,77.1 351.1,77.1 351.8,77.4 352.4,77.1 353.1,77.4 353.8,77.0 354.5,77.2 355.2,77.5 355.8,77.4 356.5,77.3 357.2,77.0 357.9,77.5 358.6,77.0 359.2,77.0 359.9,77.5 360.6,77.0 361.3,77.5 361.9,77.5 362.6,77.1 363.3,77.4 364.0,76.8" fill="none" stroke="#ee2222" stroke-width="1.5"/>
<line x1="343.62" y1="77.2" x2="343.62" y2="100.3" stroke="#f29a9a" stroke-width="0.8"/>
<polyline points="364.0,100.3 364.7,100.4 365.3,100.0 366.0,100.7 366.7,100.1 367.4,100.7 368.1,100.6 368.7,99.9 369.4,100.1 370.1,100.5 370.8,100.6 371.4,99.9 372.1,100.1 372.8,100.0 373.5,100.6 374.2,100.2 374.8,100.4 375.5,100.5 376.2,100.4 376.9,100.2 377.6,100.4 378.2,100.4 378.9,100.6 379.6,100.0 380.3,100.1 380.9,100.0 381.6,100.3 382.3,100.0 383.0,100.3 383.7,100.2 384.3,100.2" fill="none" stroke="#ee2222" stroke-width="1.5"/>
<line x1="363.98" y1="77.2" x2="363.98" y2="100.3" stroke="#f29a9a" stroke-width="0.8"/>
<polyline points="384.3,77.0 385.0,77.3 385.7,77.5 386.4,77.6 387.1,77.4 387.7,77.6 388.4,76.8 389.1,77.2 389.8,76.9 390.4,77.6 391.1,77.2 391.8,76.8 392.5,77.1 393.2,77.2 393.8,77.2 394.5,77.5 395.2,77.5 395.9,77.5 396.6,77.3 397.2,77.3 397.9,76.8 398.6,77.5 399.3,77.4 399.9,77.4 400.6,77.5 401.3,77.4 402.0,77.4 402.7,77.2 403.3,77.6 404.0,76.8 404.7,77.3" fill="none" stroke="#ee2222" stroke-width="1.5"/>
<line x1="384.34" y1="77.2" x2="384.34" y2="100.3" stroke="#f29a9a" stroke-width="0.8"/>
<polyline points="404.7,99.9 405.4,100.1 406.0,100.1 406.7,100.3 407.4,99.9 408.0,100.6 408.7,100.1 409.4,100.5 410.0,100.1 410.7,100.1 411.4,100.6 412.0,100.5 412.7,100.7 413.3,100.5 414.0,100.6 414.7,100.4 415.3,99.9 416.0,100.4 416.7,100.4 417.3,100.3 418.0,100.5 418.7,100.1 419.3,100.1 420.0,100.6 420.7,100.5 421.3,100.1 422.0,99.9 422.7,100.1 423.3,100.3 424.0,99.9 424.7,100.7" fill="none" stroke="#ee2222" stroke-width="1.5"/>
<line x1="404.70" y1="77.2" x2="404.70" y2="100.3" stroke="#f29a9a" stroke-width="0.8"/>
<polyline points="424.7,77.6 425.3,76.9 426.0,77.2 426.7,77.6 427.4,77.1 428.1,76.7 428.8,77.2 429.5,77.3 430.1,77.5 430.8,77.5 431.5,76.8 432.2,77.2 432.9,76.8 433.6,77.6 434.3,77.4 434.9,77.6 435.6,77.3 436.3,77.6 437.0,77.4 437.7,77.3 438.4,77.3 439.0,77.6 439.7,77.6 440.4,76.8 441.1,77.5 441.8,77.2 442.5,77.3 443.2,77.1 443.8,77.5 444.5,77.3 445.2,77.5" fill="none" stroke="#ee2222" stroke-width="1.5"/>
<line x1="424.66" y1="77.2" x2="424.66" y2="100.3" stroke="#f29a9a" stroke-width="0.8"/>
<polyline points="445.2,100.2 445.9,99.9 446.5,100.2 447.2,100.0 447.9,100.5 448.5,100.7 449.2,100.2 449.9,100.3 450.5,100.2 451.2,100.4 451.9,100.2 452.5,100.1 453.2,99.9 453.9,100.4 454.5,100.3 455.2,100.0 455.9,100.5 456.5,100.6 457.2,100.4 457.9,100.6 458.5,100.0 459.2,100.0 459.9,100.4 460.5,100.6 461.2,100.6 461.8,100.5 462.5,100.6 463.2,100.3 463.8,100.2 464.5,100.5 465.2,100.7" fill="none" stroke="#ee2222" stroke-width="1.5"/>
<line x1="445.22" y1="77.2" x2="445.22" y2="100.3" stroke="#f29a9a" stroke-width="0.8"/>
<polyline points="465.2,77.0 465.9,77.6 466.5,77.4 467.2,77.4 467.9,77.3 468.6,77.5 469.3,77.2 470.0,77.3 470.7,77.0 471.3,77.1 472.0,76.8 472.7,77.0 473.4,76.9 474.1,77.1 474.8,77.2 475.5,76.9 476.1,77.0 476.8,76.8 477.5,77.0 478.2,77.0 478.9,77.4 479.6,76.9 480.3,77.3 480.9,77.5 481.6,77.5 482.3,77.5 483.0,77.4 483.7,77.0 484.4,77.4 485.0,77.6 485.7,76.9" fill="none" stroke="#ee2222" stroke-width="1.5"/>
<line x1="465.18" y1="77.2" x2="465.18" y2="100.3" stroke="#f29a9a" stroke-width="0.8"/>
<polyline points="485.7,100.2 486.3,100.7 486.9,100.7 487.5,100.6 488.1,100.4 488.7,100.0 489.2,99.9 489.8,100.2 490.4,100.5 491.0,100.3 491.6,100.4 492.2,100.4 492.8,100.7 493.3,100.2 493.9,100.0 494.5,100.1 495.1,100.6 495.7,100.2 496.3,100.6 496.9,100.1 497.4,100.3 498.0,99.9 498.6,100.0 499.2,100.6 499.8,100.4 500.4,99.9 501.0,100.3 501.5,100.3 502.1,100.3 502.7,100.0 503.3,99.9" fill="none" stroke="#ee2222" stroke-width="1.5"/>
<line x1="485.74" y1="77.2" x2="485.74" y2="100.3" stroke="#f29a9a" stroke-width="0.8"/>
<rect x="303.7" y="16" width="199.60" height="145.30" fill="none" stroke="#2a2a2a" stroke-width="1.3"/>
<line x1="303.70" y1="161.3" x2="303.70" y2="158.3" stroke="#2a2a2a" stroke-width="1"/>
<text x="303.70" y="169.00" font-family='"Liberation Sans", sans-serif' font-size="6" text-anchor="middle" font-weight="normal" fill="#111" stroke="#111" stroke-width="0.12">0</text>
<line x1="323.66" y1="161.3" x2="323.66" y2="159.5" stroke="#2a2a2a" stroke-width="1"/>
<line x1="343.62" y1="161.3" x2="343.62" y2="158.3" stroke="#2a2a2a" stroke-width="1"/>
<text x="343.62" y="169.00" font-family='"Liberation Sans", sans-serif' font-size="6" text-anchor="middle" font-weight="normal" fill="#111" stroke="#111" stroke-width="0.12">2</text>
<line x1="363.58" y1="161.3" x2="363.58" y2="159.5" stroke="#2a2a2a" stroke-width="1"/>
<line x1="383.54" y1="161.3" x2="383.54" y2="158.3" stroke="#2a2a2a" stroke-width="1"/>
<text x="383.54" y="169.00" font-family='"Liberation Sans", sans-serif' font-size="6" text-anchor="middle" font-weight="normal" fill="#111" stroke="#111" stroke-width="0.12">4</text>
<line x1="403.50" y1="161.3" x2="403.50" y2="159.5" stroke="#2a2a2a" stroke-width="1"/>
<line x1="423.46" y1="161.3" x2="423.46" y2="158.3" stroke="#2a2a2a" stroke-width="1"/>
<text x="423.46" y="169.00" font-family='"Liberation Sans", sans-serif' font-size="6" text-anchor="middle" font-weight="normal" fill="#111" stroke="#111" stroke-width="0.12">6</text>
<line x1="443.42" y1="161.3" x2="443.42" y2="159.5" stroke="#2a2a2a" stroke-width="1"/>
<line x1="463.38" y1="161.3" x2="463.38" y2="158.3" stroke="#2a2a2a" stroke-width="1"/>
<text x="463.38" y="169.00" font-family='"Liberation Sans", sans-serif' font-size="6" text-anchor="middle" font-weight="normal" fill="#111" stroke="#111" stroke-width="0.12">8</text>
<line x1="483.34" y1="161.3" x2="483.34" y2="159.5" stroke="#2a2a2a" stroke-width="1"/>
<line x1="503.30" y1="161.3" x2="503.30" y2="158.3" stroke="#2a2a2a" stroke-width="1"/>
<text x="503.30" y="169.00" font-family='"Liberation Sans", sans-serif' font-size="6" text-anchor="middle" font-weight="normal" fill="#111" stroke="#111" stroke-width="0.12">10</text>
<line x1="303.7" y1="161.30" x2="305.5" y2="161.30" stroke="#2a2a2a" stroke-width="1"/>
<line x1="303.7" y1="146.77" x2="306.7" y2="146.77" stroke="#2a2a2a" stroke-width="1"/>
<text x="299.50" y="148.93" font-family='"Liberation Sans", sans-serif' font-size="6" text-anchor="end" font-weight="normal" fill="#111" stroke="#111" stroke-width="0.12">-0.04</text>
<line x1="303.7" y1="132.24" x2="305.5" y2="132.24" stroke="#2a2a2a" stroke-width="1"/>
<line x1="303.7" y1="117.71" x2="306.7" y2="117.71" stroke="#2a2a2a" stroke-width="1"/>
<text x="299.50" y="119.87" font-family='"Liberation Sans", sans-serif' font-size="6" text-anchor="end" font-weight="normal" fill="#111" stroke="#111" stroke-width="0.12">-0.02</text>
<line x1="303.7" y1="103.18" x2="305.5" y2="103.18" stroke="#2a2a2a" stroke-width="1"/>
<line x1="303.7" y1="88.65" x2="306.7" y2="88.65" stroke="#2a2a2a" stroke-width="1"/>
<text x="299.50" y="90.81" font-family='"Liberation Sans", sans-serif' font-size="6" text-anchor="end" font-weight="normal" fill="#111" stroke="#111" stroke-width="0.12">0.00</text>
<line x1="303.7" y1="74.12" x2="305.5" y2="74.12" stroke="#2a2a2a" stroke-width="1"/>
<line x1="303.7" y1="59.59" x2="306.7" y2="59.59" stroke="#2a2a2a" stroke-width="1"/>
<text x="299.50" y="61.75" font-family='"Liberation Sans", sans-serif' font-size="6" text-anchor="end" font-weight="normal" fill="#111" stroke="#111" stroke-width="0.12">0.02</text>
<line x1="303.7" y1="45.06" x2="305.5" y2="45.06" stroke="#2a2a2a" stroke-width="1"/>
<line x1="303.7" y1="30.53" x2="306.7" y2="30.53" stroke="#2a2a2a" stroke-width="1"/>
<text x="299.50" y="32.69" font-family='"Liberation Sans", sans-serif' font-size="6" text-anchor="end" font-weight="normal" fill="#111" stroke="#111" stroke-width="0.12">0.04</text>
<line x1="303.7" y1="16.00" x2="305.5" y2="16.00" stroke="#2a2a2a" stroke-width="1"/>
<text x="263.30" y="22.50" font-family='"Liberation Serif", serif' font-size="20.5" text-anchor="start" font-weight="normal" fill="#111" >(b)</text>
<line x1="316" y1="24.5" x2="333" y2="24.5" stroke="#9a9af8" stroke-width="1.1"/>
<line x1="316" y1="34.5" x2="333" y2="34.5" stroke="#f07070" stroke-width="1.1"/>
<text x="335.80" y="27.60" font-family='"Liberation Serif", serif' font-size="9" text-anchor="start" font-weight="normal" fill="#222" >Li</text>
<text x="335.8" y="37.5" font-family='"Liberation Serif", serif' font-size="9" fill="#222">Li<tspan font-size="4.5" dy="2.7">0.98</tspan><tspan dy="-2.7">Sn</tspan><tspan font-size="4.5" dy="2.7">0.02</tspan></text>
<text x="376.30" y="184.9" font-family='"Liberation Serif", serif' font-size="12.2" fill="#1a1a1a" textLength="24" lengthAdjust="spacingAndGlyphs" stroke="#1a1a1a" stroke-width="0.3">Time</text>
<text x="403.80" y="184.9" font-family='"Liberation Serif", serif' font-size="12.2" fill="#1a1a1a" stroke="#1a1a1a" stroke-width="0.3">(</text>
<text x="414.30" y="184.9" font-family='"Liberation Serif", serif' font-size="12.2" fill="#1a1a1a" text-anchor="middle" stroke="#1a1a1a" stroke-width="0.3">h</text>
<text x="420.60" y="184.9" font-family='"Liberation Serif", serif' font-size="12.2" fill="#1a1a1a" stroke="#1a1a1a" stroke-width="0.3">)</text>
<text x="0" y="0" transform="translate(279.3,95.2) rotate(-90)" font-family='"Liberation Serif", serif' font-size="12" text-anchor="middle" fill="#1a1a1a" stroke="#1a1a1a" stroke-width="0.2" style="white-space:pre">Voltage  (  V  )</text>
<g clip-path="url(#clipC)"><polygon points="45.3,237.0 47.0,235.6 49.0,238.0 50.0,240.0 50.5,230.4 51.2,240.0 52.5,243.9 56.0,244.5 59.0,242.0 61.5,237.0 62.0,230.4 62.6,236.0 64.0,238.0 65.0,236.0 65.6,240.0 68.0,243.0 71.0,244.6 72.2,245.3 72.6,228.3 73.2,241.4 96.0,241.4 97.0,239.7 124.0,239.7 124.7,232.9 125.4,241.8 151.0,241.6 151.4,229.3 152.0,241.6 190.0,241.6 192.0,239.0 194.0,230.8 195.0,238.0 198.0,240.0 205.0,240.5 210.0,239.0 212.6,237.6 214.0,240.5 225.0,241.0 232.0,239.0 234.4,229.3 235.5,236.0 237.5,232.0 239.0,238.0 242.0,240.5 246.0,240.5 246.0,295.5 239.0,296.0 238.0,313.5 236.5,297.0 235.3,313.5 235.0,295.5 213.0,296.0 212.3,309.6 211.5,295.5 195.0,296.0 193.7,302.8 192.0,295.0 151.6,295.0 151.0,315.5 150.5,295.0 125.4,295.0 124.7,299.0 124.0,296.8 97.0,296.8 96.0,294.7 73.2,294.7 72.5,311.5 72.0,295.0 70.0,294.6 66.0,294.5 63.0,294.0 60.8,295.8 56.0,294.0 52.0,292.6 49.0,295.0 47.0,299.0 45.3,300.0" fill="#0a0af6" stroke="#0a0af6" stroke-width="0.6"/>
<rect x="45.3" y="260.8" width="200.7" height="15.2" fill="#ff0000"/>
<line x1="182.5" y1="253.2" x2="182.5" y2="261" stroke="#ff1a1a" stroke-width="0.9"/>
</g>
<defs><clipPath id="clipC"><rect x="45.3" y="194.4" width="200.7" height="146.6"/></clipPath></defs>
<rect x="45.3" y="194.4" width="200.70" height="146.60" fill="none" stroke="#2a2a2a" stroke-width="1.3"/>
<line x1="45.30" y1="341" x2="45.30" y2="338" stroke="#2a2a2a" stroke-width="1"/>
<text x="45.30" y="349.20" font-family='"Liberation Sans", sans-serif' font-size="6" text-anchor="middle" font-weight="normal" fill="#111" stroke="#111" stroke-width="0.12">0</text>
<line x1="65.37" y1="341" x2="65.37" y2="339.2" stroke="#2a2a2a" stroke-width="1"/>
<line x1="85.44" y1="341" x2="85.44" y2="338" stroke="#2a2a2a" stroke-width="1"/>
<text x="85.44" y="349.20" font-family='"Liberation Sans", sans-serif' font-size="6" text-anchor="middle" font-weight="normal" fill="#111" stroke="#111" stroke-width="0.12">200</text>
<line x1="105.51" y1="341" x2="105.51" y2="339.2" stroke="#2a2a2a" stroke-width="1"/>
<line x1="125.58" y1="341" x2="125.58" y2="338" stroke="#2a2a2a" stroke-width="1"/>
<text x="125.58" y="349.20" font-family='"Liberation Sans", sans-serif' font-size="6" text-anchor="middle" font-weight="normal" fill="#111" stroke="#111" stroke-width="0.12">400</text>
<line x1="145.65" y1="341" x2="145.65" y2="339.2" stroke="#2a2a2a" stroke-width="1"/>
<line x1="165.72" y1="341" x2="165.72" y2="338" stroke="#2a2a2a" stroke-width="1"/>
<text x="165.72" y="349.20" font-family='"Liberation Sans", sans-serif' font-size="6" text-anchor="middle" font-weight="normal" fill="#111" stroke="#111" stroke-width="0.12">600</text>
<line x1="185.79" y1="341" x2="185.79" y2="339.2" stroke="#2a2a2a" stroke-width="1"/>
<line x1="205.86" y1="341" x2="205.86" y2="338" stroke="#2a2a2a" stroke-width="1"/>
<text x="205.86" y="349.20" font-family='"Liberation Sans", sans-serif' font-size="6" text-anchor="middle" font-weight="normal" fill="#111" stroke="#111" stroke-width="0.12">800</text>
<line x1="225.93" y1="341" x2="225.93" y2="339.2" stroke="#2a2a2a" stroke-width="1"/>
<line x1="246.00" y1="341" x2="246.00" y2="338" stroke="#2a2a2a" stroke-width="1"/>
<text x="246.00" y="349.20" font-family='"Liberation Sans", sans-serif' font-size="6" text-anchor="middle" font-weight="normal" fill="#111" stroke="#111" stroke-width="0.12">1000</text>
<line x1="45.3" y1="341.00" x2="48.3" y2="341.00" stroke="#2a2a2a" stroke-width="1"/>
<text x="42.00" y="343.16" font-family='"Liberation Sans", sans-serif' font-size="6" text-anchor="end" font-weight="normal" fill="#111" stroke="#111" stroke-width="0.12">-0.4</text>
<line x1="45.3" y1="322.68" x2="47.099999999999994" y2="322.68" stroke="#2a2a2a" stroke-width="1"/>
<line x1="45.3" y1="304.35" x2="48.3" y2="304.35" stroke="#2a2a2a" stroke-width="1"/>
<text x="42.00" y="306.51" font-family='"Liberation Sans", sans-serif' font-size="6" text-anchor="end" font-weight="normal" fill="#111" stroke="#111" stroke-width="0.12">-0.2</text>
<line x1="45.3" y1="286.02" x2="47.099999999999994" y2="286.02" stroke="#2a2a2a" stroke-width="1"/>
<line x1="45.3" y1="267.70" x2="48.3" y2="267.70" stroke="#2a2a2a" stroke-width="1"/>
<text x="42.00" y="269.86" font-family='"Liberation Sans", sans-serif' font-size="6" text-anchor="end" font-weight="normal" fill="#111" stroke="#111" stroke-width="0.12">0.0</text>
<line x1="45.3" y1="249.38" x2="47.099999999999994" y2="249.38" stroke="#2a2a2a" stroke-width="1"/>
<line x1="45.3" y1="231.05" x2="48.3" y2="231.05" stroke="#2a2a2a" stroke-width="1"/>
<text x="42.00" y="233.21" font-family='"Liberation Sans", sans-serif' font-size="6" text-anchor="end" font-weight="normal" fill="#111" stroke="#111" stroke-width="0.12">0.2</text>
<line x1="45.3" y1="212.72" x2="47.099999999999994" y2="212.72" stroke="#2a2a2a" stroke-width="1"/>
<line x1="45.3" y1="194.40" x2="48.3" y2="194.40" stroke="#2a2a2a" stroke-width="1"/>
<text x="42.00" y="196.56" font-family='"Liberation Sans", sans-serif' font-size="6" text-anchor="end" font-weight="normal" fill="#111" stroke="#111" stroke-width="0.12">0.4</text>
<text x="8.30" y="198.00" font-family='"Liberation Serif", serif' font-size="20.5" text-anchor="start" font-weight="normal" fill="#111" >(c)</text>
<line x1="50.3" y1="199.5" x2="68.8" y2="199.5" stroke="#5555f8" stroke-width="1.6"/>
<line x1="50.3" y1="209.7" x2="68.8" y2="209.7" stroke="#ff4a4a" stroke-width="1.6"/>
<text x="70.70" y="202.80" font-family='"Liberation Serif", serif' font-size="9" text-anchor="start" font-weight="normal" fill="#222" >Li</text>
<text x="70.7" y="212.8" font-family='"Liberation Serif", serif' font-size="9" fill="#222">Li<tspan font-size="4.5" dy="2.7">0.98</tspan><tspan dy="-2.7">Sn</tspan><tspan font-size="4.5" dy="2.7">0.02</tspan></text>
<text x="52" y="333.8" font-family='"Liberation Serif", serif' font-size="8" fill="#222">1mA cm<tspan font-size="4.8" dy="-3">-2</tspan></text>
<text x="123.60" y="363.6" font-family='"Liberation Serif", serif' font-size="12.2" fill="#1a1a1a" textLength="24" lengthAdjust="spacingAndGlyphs" stroke="#1a1a1a" stroke-width="0.3">Time</text>
<text x="151.10" y="363.6" font-family='"Liberation Serif", serif' font-size="12.2" fill="#1a1a1a" stroke="#1a1a1a" stroke-width="0.3">(</text>
<text x="161.60" y="363.6" font-family='"Liberation Serif", serif' font-size="12.2" fill="#1a1a1a" text-anchor="middle" stroke="#1a1a1a" stroke-width="0.3">h</text>
<text x="167.90" y="363.6" font-family='"Liberation Serif", serif' font-size="12.2" fill="#1a1a1a" stroke="#1a1a1a" stroke-width="0.3">)</text>
<text x="0" y="0" transform="translate(30.3,266) rotate(-90)" font-family='"Liberation Serif", serif' font-size="12.2" text-anchor="middle" fill="#1a1a1a" stroke="#1a1a1a" stroke-width="0.3" style="white-space:pre">Voltage ( V )</text>
<circle cx="309.30" cy="338.00" r="1.6" fill="#ff1010"/>
<circle cx="309.30" cy="337.00" r="1.6" fill="#ff1010"/>
<circle cx="309.30" cy="336.00" r="1.6" fill="#ff1010"/>
<circle cx="309.30" cy="335.00" r="1.6" fill="#ff1010"/>
<circle cx="309.30" cy="334.00" r="1.6" fill="#ff1010"/>
<circle cx="309.30" cy="333.00" r="1.6" fill="#ff1010"/>
<circle cx="309.30" cy="332.00" r="1.6" fill="#ff1010"/>
<circle cx="309.30" cy="331.00" r="1.6" fill="#ff1010"/>
<circle cx="309.30" cy="330.00" r="1.6" fill="#ff1010"/>
<circle cx="309.30" cy="329.00" r="1.6" fill="#ff1010"/>
<circle cx="309.30" cy="328.00" r="1.6" fill="#ff1010"/>
<circle cx="309.30" cy="327.00" r="1.6" fill="#ff1010"/>
<circle cx="309.30" cy="326.00" r="1.6" fill="#ff1010"/>
<circle cx="309.30" cy="325.00" r="1.6" fill="#ff1010"/>
<circle cx="309.30" cy="324.00" r="1.6" fill="#ff1010"/>
<circle cx="309.30" cy="323.00" r="1.6" fill="#ff1010"/>
<circle cx="309.30" cy="322.00" r="1.6" fill="#ff1010"/>
<circle cx="309.30" cy="321.00" r="1.6" fill="#ff1010"/>
<circle cx="309.30" cy="320.00" r="1.6" fill="#ff1010"/>
<circle cx="309.30" cy="319.00" r="1.6" fill="#ff1010"/>
<rect x="305.01" y="336.43" width="3.20" height="3.20" fill="#111"/>
<rect x="305.01" y="335.56" width="3.20" height="3.20" fill="#111"/>
<rect x="305.04" y="333.90" width="3.20" height="3.20" fill="#111"/>
<rect x="305.08" y="331.90" width="3.20" height="3.20" fill="#111"/>
<rect x="305.18" y="329.40" width="3.20" height="3.20" fill="#111"/>
<rect x="305.34" y="326.41" width="3.20" height="3.20" fill="#111"/>
<rect x="305.63" y="322.67" width="3.20" height="3.20" fill="#111"/>
<rect x="306.08" y="318.19" width="3.20" height="3.20" fill="#111"/>
<rect x="306.83" y="312.74" width="3.20" height="3.20" fill="#111"/>
<rect x="307.83" y="307.08" width="3.20" height="3.20" fill="#111"/>
<rect x="309.08" y="301.47" width="3.20" height="3.20" fill="#111"/>
<rect x="310.62" y="295.93" width="3.20" height="3.20" fill="#111"/>
<rect x="312.47" y="290.49" width="3.20" height="3.20" fill="#111"/>
<rect x="314.70" y="285.19" width="3.20" height="3.20" fill="#111"/>
<rect x="317.39" y="280.11" width="3.20" height="3.20" fill="#111"/>
<rect x="320.66" y="275.40" width="3.20" height="3.20" fill="#111"/>
<rect x="324.69" y="271.32" width="3.20" height="3.20" fill="#111"/>
<rect x="329.65" y="268.48" width="3.20" height="3.20" fill="#111"/>
<rect x="335.28" y="267.78" width="3.20" height="3.20" fill="#111"/>
<rect x="340.75" y="269.40" width="3.20" height="3.20" fill="#111"/>
<rect x="345.47" y="272.64" width="3.20" height="3.20" fill="#111"/>
<rect x="349.39" y="276.83" width="3.20" height="3.20" fill="#111"/>
<rect x="352.63" y="281.57" width="3.20" height="3.20" fill="#111"/>
<rect x="355.33" y="286.64" width="3.20" height="3.20" fill="#111"/>
<rect x="357.60" y="291.93" width="3.20" height="3.20" fill="#111"/>
<rect x="359.48" y="297.36" width="3.20" height="3.20" fill="#111"/>
<rect x="360.86" y="302.16" width="3.20" height="3.20" fill="#111"/>
<rect x="361.91" y="306.54" width="3.20" height="3.20" fill="#111"/>
<rect x="362.66" y="310.21" width="3.20" height="3.20" fill="#111"/>
<rect x="363.22" y="313.41" width="3.20" height="3.20" fill="#111"/>
<rect x="363.64" y="316.13" width="3.20" height="3.20" fill="#111"/>
<rect x="363.96" y="318.61" width="3.20" height="3.20" fill="#111"/>
<rect x="364.19" y="320.60" width="3.20" height="3.20" fill="#111"/>
<rect x="364.37" y="322.34" width="3.20" height="3.20" fill="#111"/>
<rect x="364.51" y="323.83" width="3.20" height="3.20" fill="#111"/>
<rect x="364.61" y="325.07" width="3.20" height="3.20" fill="#111"/>
<rect x="364.73" y="326.22" width="3.20" height="3.20" fill="#111"/>
<rect x="364.87" y="326.85" width="3.20" height="3.20" fill="#111"/>
<rect x="365.12" y="326.93" width="3.20" height="3.20" fill="#111"/>
<rect x="365.47" y="326.45" width="3.20" height="3.20" fill="#111"/>
<rect x="365.90" y="325.66" width="3.20" height="3.20" fill="#111"/>
<rect x="366.33" y="324.77" width="3.20" height="3.20" fill="#111"/>
<rect x="366.78" y="323.88" width="3.20" height="3.20" fill="#111"/>
<rect x="367.22" y="322.98" width="3.20" height="3.20" fill="#111"/>
<rect x="367.66" y="322.08" width="3.20" height="3.20" fill="#111"/>
<rect x="368.10" y="321.18" width="3.20" height="3.20" fill="#111"/>
<rect x="368.54" y="320.29" width="3.20" height="3.20" fill="#111"/>
<rect x="368.99" y="319.39" width="3.20" height="3.20" fill="#111"/>
<rect x="369.43" y="318.49" width="3.20" height="3.20" fill="#111"/>
<rect x="369.87" y="317.60" width="3.20" height="3.20" fill="#111"/>
<rect x="370.31" y="316.70" width="3.20" height="3.20" fill="#111"/>
<rect x="370.75" y="315.80" width="3.20" height="3.20" fill="#111"/>
<rect x="371.19" y="314.90" width="3.20" height="3.20" fill="#111"/>
<rect x="371.64" y="314.01" width="3.20" height="3.20" fill="#111"/>
<rect x="372.07" y="313.12" width="3.20" height="3.20" fill="#111"/>
<rect x="372.48" y="312.29" width="3.20" height="3.20" fill="#111"/>
<rect x="372.80" y="311.64" width="3.20" height="3.20" fill="#111"/>
<polygon points="306.17,334.81 308.93,339.59 303.42,339.59" fill="#0a8a0a"/>
<polygon points="306.19,333.44 308.94,338.22 303.43,338.22" fill="#0a8a0a"/>
<polygon points="306.23,330.85 308.98,335.63 303.47,335.63" fill="#0a8a0a"/>
<polygon points="306.33,327.35 309.08,332.14 303.57,332.14" fill="#0a8a0a"/>
<polygon points="306.54,322.86 309.29,327.64 303.78,327.64" fill="#0a8a0a"/>
<polygon points="306.96,316.87 309.71,321.66 304.20,321.66" fill="#0a8a0a"/>
<polygon points="307.75,309.16 310.51,313.95 305.00,313.95" fill="#0a8a0a"/>
<polygon points="308.95,300.75 311.71,305.53 306.20,305.53" fill="#0a8a0a"/>
<polygon points="310.52,292.40 313.28,297.18 307.77,297.18" fill="#0a8a0a"/>
<polygon points="312.50,284.13 315.26,288.92 309.75,288.92" fill="#0a8a0a"/>
<polygon points="314.94,275.99 317.70,280.78 312.19,280.78" fill="#0a8a0a"/>
<polygon points="317.91,268.03 320.66,272.82 315.15,272.82" fill="#0a8a0a"/>
<polygon points="321.51,260.34 324.26,265.12 318.75,265.12" fill="#0a8a0a"/>
<polygon points="325.89,253.06 328.65,257.85 323.14,257.85" fill="#0a8a0a"/>
<polygon points="331.29,246.52 334.04,251.30 328.53,251.30" fill="#0a8a0a"/>
<polygon points="337.97,241.34 340.73,246.13 335.22,246.13" fill="#0a8a0a"/>
<polygon points="345.96,238.74 348.71,243.52 343.20,243.52" fill="#0a8a0a"/>
<polygon points="354.35,239.48 357.11,244.27 351.60,244.27" fill="#0a8a0a"/>
<polygon points="362.15,242.75 364.91,247.53 359.40,247.53" fill="#0a8a0a"/>
<polygon points="368.96,247.80 371.71,252.59 366.20,252.59" fill="#0a8a0a"/>
<polygon points="374.74,254.01 377.50,258.79 371.99,258.79" fill="#0a8a0a"/>
<polygon points="379.63,260.95 382.39,265.73 376.88,265.73" fill="#0a8a0a"/>
<polygon points="383.64,268.15 386.40,272.94 380.89,272.94" fill="#0a8a0a"/>
<polygon points="386.64,274.75 389.40,279.54 383.89,279.54" fill="#0a8a0a"/>
<polygon points="388.89,280.58 391.64,285.37 386.13,285.37" fill="#0a8a0a"/>
<polygon points="390.61,285.80 393.37,290.59 387.86,290.59" fill="#0a8a0a"/>
<polygon points="391.94,290.37 394.69,295.15 389.18,295.15" fill="#0a8a0a"/>
<polygon points="392.93,294.24 395.69,299.02 390.18,299.02" fill="#0a8a0a"/>
<polygon points="393.72,297.65 396.47,302.43 390.96,302.43" fill="#0a8a0a"/>
<polygon points="394.33,300.58 397.09,305.37 391.58,305.37" fill="#0a8a0a"/>
<polygon points="394.85,303.29 397.60,308.07 392.09,308.07" fill="#0a8a0a"/>
<polygon points="395.24,305.48 397.99,310.26 392.48,310.26" fill="#0a8a0a"/>
<polygon points="395.60,307.20 398.36,311.98 392.85,311.98" fill="#0a8a0a"/>
<polygon points="396.02,308.02 398.78,312.80 393.27,312.80" fill="#0a8a0a"/>
<polygon points="396.61,307.77 399.36,312.56 393.85,312.56" fill="#0a8a0a"/>
<polygon points="397.44,306.45 400.20,311.24 394.69,311.24" fill="#0a8a0a"/>
<polygon points="398.57,304.29 401.33,309.08 395.82,309.08" fill="#0a8a0a"/>
<polygon points="399.83,301.85 402.58,306.63 397.07,306.63" fill="#0a8a0a"/>
<polygon points="401.31,298.95 404.07,303.74 398.56,303.74" fill="#0a8a0a"/>
<polygon points="403.02,295.62 405.78,300.40 400.27,300.40" fill="#0a8a0a"/>
<polygon points="404.97,291.84 407.72,296.62 402.21,296.62" fill="#0a8a0a"/>
<polygon points="407.25,287.39 410.00,292.17 404.49,292.17" fill="#0a8a0a"/>
<polygon points="409.87,282.27 412.63,287.06 407.12,287.06" fill="#0a8a0a"/>
<polygon points="412.84,276.49 415.60,281.27 410.09,281.27" fill="#0a8a0a"/>
<polygon points="416.26,269.82 419.02,274.60 413.51,274.60" fill="#0a8a0a"/>
<polygon points="419.57,263.37 422.33,268.16 416.82,268.16" fill="#0a8a0a"/>
<polygon points="305.80,336.00 306.29,337.32 307.70,337.38 306.60,338.26 306.98,339.62 305.80,338.84 304.62,339.62 305.00,338.26 303.90,337.38 305.31,337.32" fill="#1a1aff"/>
<polygon points="305.80,335.00 306.29,336.32 307.70,336.38 306.60,337.26 306.98,338.62 305.80,337.84 304.62,338.62 305.00,337.26 303.90,336.38 305.31,336.32" fill="#1a1aff"/>
<polygon points="305.80,334.00 306.29,335.32 307.70,335.38 306.60,336.26 306.98,337.62 305.80,336.84 304.62,337.62 305.00,336.26 303.90,335.38 305.31,335.32" fill="#1a1aff"/>
<polygon points="305.80,333.00 306.29,334.32 307.70,334.38 306.60,335.26 306.98,336.62 305.80,335.84 304.62,336.62 305.00,335.26 303.90,334.38 305.31,334.32" fill="#1a1aff"/>
<polygon points="305.80,332.00 306.29,333.32 307.70,333.38 306.60,334.26 306.98,335.62 305.80,334.84 304.62,335.62 305.00,334.26 303.90,333.38 305.31,333.32" fill="#1a1aff"/>
<polygon points="305.80,331.00 306.29,332.32 307.70,332.38 306.60,333.26 306.98,334.62 305.80,333.84 304.62,334.62 305.00,333.26 303.90,332.38 305.31,332.32" fill="#1a1aff"/>
<polygon points="305.80,330.00 306.29,331.32 307.70,331.38 306.60,332.26 306.98,333.62 305.80,332.84 304.62,333.62 305.00,332.26 303.90,331.38 305.31,331.32" fill="#1a1aff"/>
<polygon points="305.80,329.00 306.29,330.32 307.70,330.38 306.60,331.26 306.98,332.62 305.80,331.84 304.62,332.62 305.00,331.26 303.90,330.38 305.31,330.32" fill="#1a1aff"/>
<polygon points="305.80,328.00 306.29,329.32 307.70,329.38 306.60,330.26 306.98,331.62 305.80,330.84 304.62,331.62 305.00,330.26 303.90,329.38 305.31,329.32" fill="#1a1aff"/>
<polygon points="305.80,327.00 306.29,328.32 307.70,328.38 306.60,329.26 306.98,330.62 305.80,329.84 304.62,330.62 305.00,329.26 303.90,328.38 305.31,328.32" fill="#1a1aff"/>
<polygon points="305.80,326.00 306.29,327.32 307.70,327.38 306.60,328.26 306.98,329.62 305.80,328.84 304.62,329.62 305.00,328.26 303.90,327.38 305.31,327.32" fill="#1a1aff"/>
<polygon points="305.80,325.00 306.29,326.32 307.70,326.38 306.60,327.26 306.98,328.62 305.80,327.84 304.62,328.62 305.00,327.26 303.90,326.38 305.31,326.32" fill="#1a1aff"/>
<polygon points="305.80,324.00 306.29,325.32 307.70,325.38 306.60,326.26 306.98,327.62 305.80,326.84 304.62,327.62 305.00,326.26 303.90,325.38 305.31,325.32" fill="#1a1aff"/>
<polygon points="305.80,323.00 306.29,324.32 307.70,324.38 306.60,325.26 306.98,326.62 305.80,325.84 304.62,326.62 305.00,325.26 303.90,324.38 305.31,324.32" fill="#1a1aff"/>
<polygon points="305.80,322.00 306.29,323.32 307.70,323.38 306.60,324.26 306.98,325.62 305.80,324.84 304.62,325.62 305.00,324.26 303.90,323.38 305.31,323.32" fill="#1a1aff"/>
<polygon points="305.80,321.00 306.29,322.32 307.70,322.38 306.60,323.26 306.98,324.62 305.80,323.84 304.62,324.62 305.00,323.26 303.90,322.38 305.31,322.32" fill="#1a1aff"/>
<polygon points="305.80,320.00 306.29,321.32 307.70,321.38 306.60,322.26 306.98,323.62 305.80,322.84 304.62,323.62 305.00,322.26 303.90,321.38 305.31,321.32" fill="#1a1aff"/>
<polygon points="305.80,319.00 306.29,320.32 307.70,320.38 306.60,321.26 306.98,322.62 305.80,321.84 304.62,322.62 305.00,321.26 303.90,320.38 305.31,320.32" fill="#1a1aff"/>
<polygon points="305.80,318.00 306.29,319.32 307.70,319.38 306.60,320.26 306.98,321.62 305.80,320.84 304.62,321.62 305.00,320.26 303.90,319.38 305.31,319.32" fill="#1a1aff"/>
<polygon points="305.80,317.00 306.29,318.32 307.70,318.38 306.60,319.26 306.98,320.62 305.80,319.84 304.62,320.62 305.00,319.26 303.90,318.38 305.31,318.32" fill="#1a1aff"/>
<polygon points="305.80,316.00 306.29,317.32 307.70,317.38 306.60,318.26 306.98,319.62 305.80,318.84 304.62,319.62 305.00,318.26 303.90,317.38 305.31,317.32" fill="#1a1aff"/>
<polygon points="305.80,315.00 306.29,316.32 307.70,316.38 306.60,317.26 306.98,318.62 305.80,317.84 304.62,318.62 305.00,317.26 303.90,316.38 305.31,316.32" fill="#1a1aff"/>
<polygon points="305.80,314.00 306.29,315.32 307.70,315.38 306.60,316.26 306.98,317.62 305.80,316.84 304.62,317.62 305.00,316.26 303.90,315.38 305.31,315.32" fill="#1a1aff"/>
<polygon points="305.80,313.00 306.29,314.32 307.70,314.38 306.60,315.26 306.98,316.62 305.80,315.84 304.62,316.62 305.00,315.26 303.90,314.38 305.31,314.32" fill="#1a1aff"/>
<polygon points="305.80,312.00 306.29,313.32 307.70,313.38 306.60,314.26 306.98,315.62 305.80,314.84 304.62,315.62 305.00,314.26 303.90,313.38 305.31,313.32" fill="#1a1aff"/>
<polygon points="305.80,311.00 306.29,312.32 307.70,312.38 306.60,313.26 306.98,314.62 305.80,313.84 304.62,314.62 305.00,313.26 303.90,312.38 305.31,312.32" fill="#1a1aff"/>
<polygon points="305.80,310.00 306.29,311.32 307.70,311.38 306.60,312.26 306.98,313.62 305.80,312.84 304.62,313.62 305.00,312.26 303.90,311.38 305.31,311.32" fill="#1a1aff"/>
<polygon points="305.80,309.00 306.29,310.32 307.70,310.38 306.60,311.26 306.98,312.62 305.80,311.84 304.62,312.62 305.00,311.26 303.90,310.38 305.31,310.32" fill="#1a1aff"/>
<polygon points="305.80,308.00 306.29,309.32 307.70,309.38 306.60,310.26 306.98,311.62 305.80,310.84 304.62,311.62 305.00,310.26 303.90,309.38 305.31,309.32" fill="#1a1aff"/>
<polygon points="305.80,307.00 306.29,308.32 307.70,308.38 306.60,309.26 306.98,310.62 305.80,309.84 304.62,310.62 305.00,309.26 303.90,308.38 305.31,308.32" fill="#1a1aff"/>
<polygon points="306.18,334.51 306.87,336.36 308.84,336.45 307.30,337.68 307.83,339.58 306.18,338.49 304.53,339.58 305.06,337.68 303.52,336.45 305.49,336.36" fill="#1a1aff"/>
<polygon points="306.22,332.03 306.91,333.88 308.88,333.96 307.34,335.19 307.86,337.09 306.22,336.00 304.57,337.09 305.10,335.19 303.55,333.96 305.53,333.88" fill="#1a1aff"/>
<polygon points="306.34,327.70 307.03,329.55 309.00,329.64 307.46,330.86 307.98,332.77 306.34,331.68 304.69,332.77 305.22,330.86 303.67,329.64 305.65,329.55" fill="#1a1aff"/>
<polygon points="306.64,321.71 307.33,323.56 309.31,323.65 307.76,324.87 308.29,326.78 306.64,325.69 305.00,326.78 305.52,324.87 303.98,323.65 305.95,323.56" fill="#1a1aff"/>
<polygon points="307.31,313.74 308.00,315.59 309.97,315.68 308.43,316.90 308.96,318.81 307.31,317.72 305.67,318.81 306.19,316.90 304.65,315.68 306.62,315.59" fill="#1a1aff"/>
<polygon points="308.69,303.08 309.38,304.93 311.35,305.02 309.81,306.24 310.34,308.15 308.69,307.06 307.04,308.15 307.57,306.24 306.03,305.02 308.00,304.93" fill="#1a1aff"/>
<polygon points="311.01,290.80 311.70,292.65 313.67,292.74 312.13,293.97 312.66,295.87 311.01,294.78 309.37,295.87 309.89,293.97 308.35,292.74 310.32,292.65" fill="#1a1aff"/>
<polygon points="314.15,278.71 314.85,280.56 316.82,280.64 315.27,281.87 315.80,283.77 314.15,282.68 312.51,283.77 313.04,281.87 311.49,280.64 313.46,280.56" fill="#1a1aff"/>
<polygon points="318.19,266.88 318.88,268.73 320.85,268.82 319.31,270.05 319.84,271.95 318.19,270.86 316.55,271.95 317.07,270.05 315.53,268.82 317.50,268.73" fill="#1a1aff"/>
<polygon points="323.22,255.45 323.91,257.30 325.89,257.38 324.34,258.61 324.87,260.52 323.22,259.43 321.58,260.52 322.10,258.61 320.56,257.38 322.53,257.30" fill="#1a1aff"/>
<polygon points="329.38,244.59 330.08,246.44 332.05,246.52 330.50,247.75 331.03,249.65 329.38,248.56 327.74,249.65 328.27,247.75 326.72,246.52 328.69,246.44" fill="#1a1aff"/>
<polygon points="336.85,234.59 337.55,236.43 339.52,236.52 337.97,237.75 338.50,239.65 336.85,238.56 335.21,239.65 335.74,237.75 334.19,236.52 336.16,236.43" fill="#1a1aff"/>
<polygon points="345.83,225.93 346.52,227.77 348.49,227.86 346.94,229.09 347.47,230.99 345.83,229.90 344.18,230.99 344.71,229.09 343.16,227.86 345.14,227.77" fill="#1a1aff"/>
<polygon points="356.42,219.39 357.11,221.24 359.08,221.33 357.54,222.55 358.07,224.46 356.42,223.37 354.77,224.46 355.30,222.55 353.76,221.33 355.73,221.24" fill="#1a1aff"/>
<polygon points="368.38,216.06 369.07,217.90 371.04,217.99 369.50,219.22 370.02,221.12 368.38,220.03 366.73,221.12 367.26,219.22 365.72,217.99 367.69,217.90" fill="#1a1aff"/>
<polygon points="380.81,216.46 381.50,218.30 383.47,218.39 381.93,219.62 382.45,221.52 380.81,220.43 379.16,221.52 379.69,219.62 378.15,218.39 380.12,218.30" fill="#1a1aff"/>
<polygon points="392.80,219.81 393.50,221.66 395.47,221.74 393.92,222.97 394.45,224.87 392.80,223.78 391.16,224.87 391.69,222.97 390.14,221.74 392.11,221.66" fill="#1a1aff"/>
<polygon points="403.84,225.60 404.54,227.45 406.51,227.53 404.96,228.76 405.49,230.67 403.84,229.58 402.20,230.67 402.73,228.76 401.18,227.53 403.15,227.45" fill="#1a1aff"/>
<polygon points="413.66,233.29 414.36,235.14 416.33,235.23 414.78,236.46 415.31,238.36 413.66,237.27 412.02,238.36 412.55,236.46 411.00,235.23 412.97,235.14" fill="#1a1aff"/>
<polygon points="421.57,241.63 422.26,243.48 424.23,243.56 422.69,244.79 423.21,246.69 421.57,245.60 419.92,246.69 420.45,244.79 418.90,243.56 420.88,243.48" fill="#1a1aff"/>
<polygon points="427.72,249.82 428.41,251.67 430.38,251.75 428.84,252.98 429.36,254.88 427.72,253.79 426.07,254.88 426.60,252.98 425.06,251.75 427.03,251.67" fill="#1a1aff"/>
<polygon points="432.46,257.46 433.15,259.31 435.12,259.39 433.58,260.62 434.11,262.53 432.46,261.44 430.81,262.53 431.34,260.62 429.80,259.39 431.77,259.31" fill="#1a1aff"/>
<polygon points="436.07,264.31 436.77,266.16 438.74,266.25 437.19,267.48 437.72,269.38 436.07,268.29 434.43,269.38 434.96,267.48 433.41,266.25 435.38,266.16" fill="#1a1aff"/>
<polygon points="438.98,270.68 439.67,272.53 441.64,272.61 440.10,273.84 440.63,275.74 438.98,274.65 437.33,275.74 437.86,273.84 436.32,272.61 438.29,272.53" fill="#1a1aff"/>
<polygon points="441.21,276.25 441.90,278.09 443.88,278.18 442.33,279.41 442.86,281.31 441.21,280.22 439.57,281.31 440.09,279.41 438.55,278.18 440.52,278.09" fill="#1a1aff"/>
<polygon points="443.05,281.43 443.75,283.27 445.72,283.36 444.17,284.59 444.70,286.49 443.05,285.40 441.41,286.49 441.94,284.59 440.39,283.36 442.36,283.27" fill="#1a1aff"/>
<polygon points="444.49,285.95 445.18,287.80 447.15,287.89 445.61,289.12 446.14,291.02 444.49,289.93 442.85,291.02 443.37,289.12 441.83,287.89 443.80,287.80" fill="#1a1aff"/>
<polygon points="445.66,290.03 446.35,291.88 448.32,291.97 446.78,293.20 447.31,295.10 445.66,294.01 444.02,295.10 444.54,293.20 443.00,291.97 444.97,291.88" fill="#1a1aff"/>
<polygon points="446.65,293.40 447.34,295.25 449.31,295.34 447.77,296.56 448.30,298.47 446.65,297.38 445.01,298.47 445.53,296.56 443.99,295.34 445.96,295.25" fill="#1a1aff"/>
<polygon points="447.68,295.09 448.37,296.93 450.34,297.02 448.80,298.25 449.33,300.15 447.68,299.06 446.03,300.15 446.56,298.25 445.02,297.02 446.99,296.93" fill="#1a1aff"/>
<polygon points="449.22,294.34 449.91,296.19 451.89,296.28 450.34,297.51 450.87,299.41 449.22,298.32 447.58,299.41 448.10,297.51 446.56,296.28 448.53,296.19" fill="#1a1aff"/>
<polygon points="451.21,291.63 451.91,293.48 453.88,293.57 452.33,294.80 452.86,296.70 451.21,295.61 449.57,296.70 450.10,294.80 448.55,293.57 450.52,293.48" fill="#1a1aff"/>
<polygon points="453.56,288.10 454.25,289.95 456.22,290.04 454.67,291.27 455.20,293.17 453.56,292.08 451.91,293.17 452.44,291.27 450.89,290.04 452.86,289.95" fill="#1a1aff"/>
<polygon points="456.17,284.14 456.87,285.99 458.84,286.07 457.29,287.30 457.82,289.21 456.17,288.12 454.53,289.21 455.06,287.30 453.51,286.07 455.48,285.99" fill="#1a1aff"/>
<polygon points="459.07,279.76 459.76,281.61 461.73,281.70 460.19,282.92 460.72,284.83 459.07,283.74 457.42,284.83 457.95,282.92 456.41,281.70 458.38,281.61" fill="#1a1aff"/>
<polygon points="462.24,274.96 462.93,276.81 464.90,276.90 463.36,278.13 463.89,280.03 462.24,278.94 460.59,280.03 461.12,278.13 459.58,276.90 461.55,276.81" fill="#1a1aff"/>
<polygon points="465.82,269.54 466.52,271.39 468.49,271.48 466.94,272.70 467.47,274.61 465.82,273.52 464.18,274.61 464.71,272.70 463.16,271.48 465.13,271.39" fill="#1a1aff"/>
<polygon points="469.82,263.49 470.51,265.34 472.48,265.43 470.94,266.66 471.47,268.56 469.82,267.47 468.18,268.56 468.70,266.66 467.16,265.43 469.13,265.34" fill="#1a1aff"/>
<polygon points="474.23,256.82 474.92,258.67 476.90,258.75 475.35,259.98 475.88,261.88 474.23,260.79 472.59,261.88 473.11,259.98 471.57,258.75 473.54,258.67" fill="#1a1aff"/>
<polygon points="479.06,249.52 479.75,251.37 481.72,251.45 480.18,252.68 480.70,254.58 479.06,253.50 477.41,254.58 477.94,252.68 476.39,251.45 478.37,251.37" fill="#1a1aff"/>
<polygon points="484.43,241.39 485.13,243.23 487.10,243.32 485.55,244.55 486.08,246.45 484.43,245.36 482.79,246.45 483.32,244.55 481.77,243.32 483.74,243.23" fill="#1a1aff"/>
<polygon points="489.95,233.04 490.64,234.89 492.61,234.98 491.07,236.21 491.59,238.11 489.95,237.02 488.30,238.11 488.83,236.21 487.28,234.98 489.26,234.89" fill="#1a1aff"/>
<polygon points="495.38,224.82 496.07,226.67 498.05,226.76 496.50,227.98 497.03,229.89 495.38,228.80 493.74,229.89 494.26,227.98 492.72,226.76 494.69,226.67" fill="#1a1aff"/>
<polygon points="496.87,222.56 497.57,224.41 499.54,224.50 497.99,225.73 498.52,227.63 496.87,226.54 495.23,227.63 495.76,225.73 494.21,224.50 496.18,224.41" fill="#1a1aff"/>
<circle cx="308.34" cy="338.11" r="1.9" fill="#ff1010"/>
<circle cx="308.35" cy="337.20" r="1.9" fill="#ff1010"/>
<circle cx="308.38" cy="335.75" r="1.9" fill="#ff1010"/>
<circle cx="308.44" cy="334.00" r="1.9" fill="#ff1010"/>
<circle cx="308.55" cy="331.75" r="1.9" fill="#ff1010"/>
<circle cx="308.75" cy="329.01" r="1.9" fill="#ff1010"/>
<circle cx="309.09" cy="325.78" r="1.9" fill="#ff1010"/>
<circle cx="309.60" cy="322.06" r="1.9" fill="#ff1010"/>
<circle cx="310.41" cy="317.64" r="1.9" fill="#ff1010"/>
<circle cx="311.51" cy="313.02" r="1.9" fill="#ff1010"/>
<circle cx="312.91" cy="308.48" r="1.9" fill="#ff1010"/>
<circle cx="314.65" cy="304.07" r="1.9" fill="#ff1010"/>
<circle cx="316.83" cy="299.85" r="1.9" fill="#ff1010"/>
<circle cx="319.57" cy="295.98" r="1.9" fill="#ff1010"/>
<circle cx="323.05" cy="292.79" r="1.9" fill="#ff1010"/>
<circle cx="327.40" cy="291.01" r="1.9" fill="#ff1010"/>
<circle cx="332.03" cy="291.56" r="1.9" fill="#ff1010"/>
<circle cx="335.97" cy="294.13" r="1.9" fill="#ff1010"/>
<circle cx="339.05" cy="297.73" r="1.9" fill="#ff1010"/>
<circle cx="341.46" cy="301.82" r="1.9" fill="#ff1010"/>
<circle cx="343.39" cy="306.16" r="1.9" fill="#ff1010"/>
<circle cx="344.93" cy="310.65" r="1.9" fill="#ff1010"/>
<circle cx="346.09" cy="315.00" r="1.9" fill="#ff1010"/>
<circle cx="346.93" cy="318.91" r="1.9" fill="#ff1010"/>
<circle cx="347.48" cy="322.11" r="1.9" fill="#ff1010"/>
<circle cx="347.86" cy="324.83" r="1.9" fill="#ff1010"/>
<circle cx="348.11" cy="327.07" r="1.9" fill="#ff1010"/>
<circle cx="348.30" cy="329.06" r="1.9" fill="#ff1010"/>
<circle cx="348.41" cy="330.55" r="1.9" fill="#ff1010"/>
<circle cx="348.50" cy="331.80" r="1.9" fill="#ff1010"/>
<circle cx="348.59" cy="332.92" r="1.9" fill="#ff1010"/>
<circle cx="348.75" cy="333.38" r="1.9" fill="#ff1010"/>
<circle cx="349.04" cy="333.13" r="1.9" fill="#ff1010"/>
<circle cx="349.43" cy="332.39" r="1.9" fill="#ff1010"/>
<circle cx="349.85" cy="331.51" r="1.9" fill="#ff1010"/>
<circle cx="350.27" cy="330.60" r="1.9" fill="#ff1010"/>
<circle cx="350.69" cy="329.69" r="1.9" fill="#ff1010"/>
<circle cx="351.12" cy="328.79" r="1.9" fill="#ff1010"/>
<circle cx="351.54" cy="327.88" r="1.9" fill="#ff1010"/>
<circle cx="351.96" cy="326.98" r="1.9" fill="#ff1010"/>
<circle cx="352.39" cy="326.07" r="1.9" fill="#ff1010"/>
<circle cx="352.81" cy="325.16" r="1.9" fill="#ff1010"/>
<circle cx="353.24" cy="324.26" r="1.9" fill="#ff1010"/>
<circle cx="353.66" cy="323.35" r="1.9" fill="#ff1010"/>
<circle cx="354.07" cy="322.47" r="1.9" fill="#ff1010"/>
<circle cx="354.42" cy="321.72" r="1.9" fill="#ff1010"/>
<rect x="304" y="192.9" width="199.60" height="145.60" fill="none" stroke="#2a2a2a" stroke-width="1.3"/>
<line x1="304.00" y1="338.5" x2="304.00" y2="335.5" stroke="#2a2a2a" stroke-width="1"/>
<text x="304.00" y="347.20" font-family='"Liberation Sans", sans-serif' font-size="6" text-anchor="middle" font-weight="normal" fill="#111" stroke="#111" stroke-width="0.12">0</text>
<line x1="314.85" y1="338.5" x2="314.85" y2="336.7" stroke="#2a2a2a" stroke-width="1"/>
<line x1="325.70" y1="338.5" x2="325.70" y2="335.5" stroke="#2a2a2a" stroke-width="1"/>
<text x="325.70" y="347.20" font-family='"Liberation Sans", sans-serif' font-size="6" text-anchor="middle" font-weight="normal" fill="#111" stroke="#111" stroke-width="0.12">50</text>
<line x1="336.54" y1="338.5" x2="336.54" y2="336.7" stroke="#2a2a2a" stroke-width="1"/>
<line x1="347.39" y1="338.5" x2="347.39" y2="335.5" stroke="#2a2a2a" stroke-width="1"/>
<text x="347.39" y="347.20" font-family='"Liberation Sans", sans-serif' font-size="6" text-anchor="middle" font-weight="normal" fill="#111" stroke="#111" stroke-width="0.12">100</text>
<line x1="358.24" y1="338.5" x2="358.24" y2="336.7" stroke="#2a2a2a" stroke-width="1"/>
<line x1="369.09" y1="338.5" x2="369.09" y2="335.5" stroke="#2a2a2a" stroke-width="1"/>
<text x="369.09" y="347.20" font-family='"Liberation Sans", sans-serif' font-size="6" text-anchor="middle" font-weight="normal" fill="#111" stroke="#111" stroke-width="0.12">150</text>
<line x1="379.93" y1="338.5" x2="379.93" y2="336.7" stroke="#2a2a2a" stroke-width="1"/>
<line x1="390.78" y1="338.5" x2="390.78" y2="335.5" stroke="#2a2a2a" stroke-width="1"/>
<text x="390.78" y="347.20" font-family='"Liberation Sans", sans-serif' font-size="6" text-anchor="middle" font-weight="normal" fill="#111" stroke="#111" stroke-width="0.12">200</text>
<line x1="401.63" y1="338.5" x2="401.63" y2="336.7" stroke="#2a2a2a" stroke-width="1"/>
<line x1="412.48" y1="338.5" x2="412.48" y2="335.5" stroke="#2a2a2a" stroke-width="1"/>
<text x="412.48" y="347.20" font-family='"Liberation Sans", sans-serif' font-size="6" text-anchor="middle" font-weight="normal" fill="#111" stroke="#111" stroke-width="0.12">250</text>
<line x1="423.33" y1="338.5" x2="423.33" y2="336.7" stroke="#2a2a2a" stroke-width="1"/>
<line x1="434.17" y1="338.5" x2="434.17" y2="335.5" stroke="#2a2a2a" stroke-width="1"/>
<text x="434.17" y="347.20" font-family='"Liberation Sans", sans-serif' font-size="6" text-anchor="middle" font-weight="normal" fill="#111" stroke="#111" stroke-width="0.12">300</text>
<line x1="445.02" y1="338.5" x2="445.02" y2="336.7" stroke="#2a2a2a" stroke-width="1"/>
<line x1="455.87" y1="338.5" x2="455.87" y2="335.5" stroke="#2a2a2a" stroke-width="1"/>
<text x="455.87" y="347.20" font-family='"Liberation Sans", sans-serif' font-size="6" text-anchor="middle" font-weight="normal" fill="#111" stroke="#111" stroke-width="0.12">350</text>
<line x1="466.72" y1="338.5" x2="466.72" y2="336.7" stroke="#2a2a2a" stroke-width="1"/>
<line x1="477.57" y1="338.5" x2="477.57" y2="335.5" stroke="#2a2a2a" stroke-width="1"/>
<text x="477.57" y="347.20" font-family='"Liberation Sans", sans-serif' font-size="6" text-anchor="middle" font-weight="normal" fill="#111" stroke="#111" stroke-width="0.12">400</text>
<line x1="488.41" y1="338.5" x2="488.41" y2="336.7" stroke="#2a2a2a" stroke-width="1"/>
<line x1="499.26" y1="338.5" x2="499.26" y2="335.5" stroke="#2a2a2a" stroke-width="1"/>
<text x="499.26" y="347.20" font-family='"Liberation Sans", sans-serif' font-size="6" text-anchor="middle" font-weight="normal" fill="#111" stroke="#111" stroke-width="0.12">450</text>
<line x1="304" y1="338.50" x2="307" y2="338.50" stroke="#2a2a2a" stroke-width="1"/>
<text x="300.00" y="340.66" font-family='"Liberation Sans", sans-serif' font-size="6" text-anchor="end" font-weight="normal" fill="#111" stroke="#111" stroke-width="0.12">0</text>
<line x1="304" y1="333.30" x2="305.8" y2="333.30" stroke="#2a2a2a" stroke-width="1"/>
<line x1="304" y1="328.10" x2="307" y2="328.10" stroke="#2a2a2a" stroke-width="1"/>
<text x="300.00" y="330.26" font-family='"Liberation Sans", sans-serif' font-size="6" text-anchor="end" font-weight="normal" fill="#111" stroke="#111" stroke-width="0.12">10</text>
<line x1="304" y1="322.90" x2="305.8" y2="322.90" stroke="#2a2a2a" stroke-width="1"/>
<line x1="304" y1="317.70" x2="307" y2="317.70" stroke="#2a2a2a" stroke-width="1"/>
<text x="300.00" y="319.86" font-family='"Liberation Sans", sans-serif' font-size="6" text-anchor="end" font-weight="normal" fill="#111" stroke="#111" stroke-width="0.12">20</text>
<line x1="304" y1="312.50" x2="305.8" y2="312.50" stroke="#2a2a2a" stroke-width="1"/>
<line x1="304" y1="307.30" x2="307" y2="307.30" stroke="#2a2a2a" stroke-width="1"/>
<text x="300.00" y="309.46" font-family='"Liberation Sans", sans-serif' font-size="6" text-anchor="end" font-weight="normal" fill="#111" stroke="#111" stroke-width="0.12">30</text>
<line x1="304" y1="302.10" x2="305.8" y2="302.10" stroke="#2a2a2a" stroke-width="1"/>
<line x1="304" y1="296.90" x2="307" y2="296.90" stroke="#2a2a2a" stroke-width="1"/>
<text x="300.00" y="299.06" font-family='"Liberation Sans", sans-serif' font-size="6" text-anchor="end" font-weight="normal" fill="#111" stroke="#111" stroke-width="0.12">40</text>
<line x1="304" y1="291.70" x2="305.8" y2="291.70" stroke="#2a2a2a" stroke-width="1"/>
<line x1="304" y1="286.50" x2="307" y2="286.50" stroke="#2a2a2a" stroke-width="1"/>
<text x="300.00" y="288.66" font-family='"Liberation Sans", sans-serif' font-size="6" text-anchor="end" font-weight="normal" fill="#111" stroke="#111" stroke-width="0.12">50</text>
<line x1="304" y1="281.30" x2="305.8" y2="281.30" stroke="#2a2a2a" stroke-width="1"/>
<line x1="304" y1="276.10" x2="307" y2="276.10" stroke="#2a2a2a" stroke-width="1"/>
<text x="300.00" y="278.26" font-family='"Liberation Sans", sans-serif' font-size="6" text-anchor="end" font-weight="normal" fill="#111" stroke="#111" stroke-width="0.12">60</text>
<line x1="304" y1="270.90" x2="305.8" y2="270.90" stroke="#2a2a2a" stroke-width="1"/>
<line x1="304" y1="265.70" x2="307" y2="265.70" stroke="#2a2a2a" stroke-width="1"/>
<text x="300.00" y="267.86" font-family='"Liberation Sans", sans-serif' font-size="6" text-anchor="end" font-weight="normal" fill="#111" stroke="#111" stroke-width="0.12">70</text>
<line x1="304" y1="260.50" x2="305.8" y2="260.50" stroke="#2a2a2a" stroke-width="1"/>
<line x1="304" y1="255.30" x2="307" y2="255.30" stroke="#2a2a2a" stroke-width="1"/>
<text x="300.00" y="257.46" font-family='"Liberation Sans", sans-serif' font-size="6" text-anchor="end" font-weight="normal" fill="#111" stroke="#111" stroke-width="0.12">80</text>
<line x1="304" y1="250.10" x2="305.8" y2="250.10" stroke="#2a2a2a" stroke-width="1"/>
<line x1="304" y1="244.90" x2="307" y2="244.90" stroke="#2a2a2a" stroke-width="1"/>
<text x="300.00" y="247.06" font-family='"Liberation Sans", sans-serif' font-size="6" text-anchor="end" font-weight="normal" fill="#111" stroke="#111" stroke-width="0.12">90</text>
<line x1="304" y1="239.70" x2="305.8" y2="239.70" stroke="#2a2a2a" stroke-width="1"/>
<line x1="304" y1="234.50" x2="307" y2="234.50" stroke="#2a2a2a" stroke-width="1"/>
<text x="300.00" y="236.66" font-family='"Liberation Sans", sans-serif' font-size="6" text-anchor="end" font-weight="normal" fill="#111" stroke="#111" stroke-width="0.12">100</text>
<line x1="304" y1="229.30" x2="305.8" y2="229.30" stroke="#2a2a2a" stroke-width="1"/>
<line x1="304" y1="224.10" x2="307" y2="224.10" stroke="#2a2a2a" stroke-width="1"/>
<text x="300.00" y="226.26" font-family='"Liberation Sans", sans-serif' font-size="6" text-anchor="end" font-weight="normal" fill="#111" stroke="#111" stroke-width="0.12">110</text>
<line x1="304" y1="218.90" x2="305.8" y2="218.90" stroke="#2a2a2a" stroke-width="1"/>
<line x1="304" y1="213.70" x2="307" y2="213.70" stroke="#2a2a2a" stroke-width="1"/>
<text x="300.00" y="215.86" font-family='"Liberation Sans", sans-serif' font-size="6" text-anchor="end" font-weight="normal" fill="#111" stroke="#111" stroke-width="0.12">120</text>
<line x1="304" y1="208.50" x2="305.8" y2="208.50" stroke="#2a2a2a" stroke-width="1"/>
<line x1="304" y1="203.30" x2="307" y2="203.30" stroke="#2a2a2a" stroke-width="1"/>
<text x="300.00" y="205.46" font-family='"Liberation Sans", sans-serif' font-size="6" text-anchor="end" font-weight="normal" fill="#111" stroke="#111" stroke-width="0.12">130</text>
<line x1="304" y1="198.10" x2="305.8" y2="198.10" stroke="#2a2a2a" stroke-width="1"/>
<line x1="304" y1="192.90" x2="307" y2="192.90" stroke="#2a2a2a" stroke-width="1"/>
<text x="300.00" y="195.06" font-family='"Liberation Sans", sans-serif' font-size="6" text-anchor="end" font-weight="normal" fill="#111" stroke="#111" stroke-width="0.12">140</text>
<text x="263.30" y="197.00" font-family='"Liberation Serif", serif' font-size="20.5" text-anchor="start" font-weight="normal" fill="#111" >(d)</text>
<polygon points="440.10,194.40 440.67,195.92 442.29,195.99 441.02,197.00 441.45,198.56 440.10,197.67 438.75,198.56 439.18,197.00 437.91,195.99 439.53,195.92" fill="#1a1aff"/>
<rect x="438.50" y="204.60" width="3.20" height="3.20" fill="#111"/>
<polygon points="440.10,214.20 442.57,218.49 437.63,218.49" fill="#0a8a0a"/>
<circle cx="440.10" cy="228.60" r="1.9" fill="#ff1010"/>
<text x="449.60" y="199.00" font-family='"Liberation Serif", serif' font-size="7" text-anchor="start" font-weight="normal" fill="#333" >Li</text>
<text x="449.6" y="208.7" font-family='"Liberation Serif", serif' font-size="7" fill="#333">Li<tspan font-size="3.85" dy="1.8">0.98</tspan><tspan dy="-1.8">Al</tspan><tspan font-size="3.85" dy="1.8">0.02</tspan></text>
<text x="449.6" y="218.8" font-family='"Liberation Serif", serif' font-size="7" fill="#333">Li<tspan font-size="3.85" dy="1.8">0.98</tspan><tspan dy="-1.8">Mg</tspan><tspan font-size="3.85" dy="1.8">0.02</tspan></text>
<text x="449.6" y="231" font-family='"Liberation Serif", serif' font-size="7" fill="#333">Li<tspan font-size="3.85" dy="1.8">0.98</tspan><tspan dy="-1.8">Sn</tspan><tspan font-size="3.85" dy="1.8">0.02</tspan></text>
<g stroke="#444" stroke-width="0.9" fill="#fff">
<line x1="408.8" y1="319.6" x2="414" y2="319.6"/>
<rect x="414" y="317" width="18.7" height="5.3"/>
<line x1="432.7" y1="319.6" x2="437.5" y2="319.6"/>
<polyline points="437.5,319.6 437.5,310.4 467.3,310.4 467.3,329.2 465,329.2" fill="none"/>
<polyline points="437.5,319.6 437.5,329.2 446.1,329.2" fill="none"/>
<rect x="446.1" y="326.4" width="18.9" height="5.3"/>
<line x1="467.3" y1="319.6" x2="473.3" y2="319.6"/>
<rect x="473.3" y="317" width="17.5" height="5.3"/>
<line x1="490.8" y1="319.6" x2="496.5" y2="319.6"/>
</g>
<line x1="454.4" y1="305.7" x2="454.4" y2="315.1" stroke="#444" stroke-width="1.6"/>
<text x="418.5" y="314" font-family='"Liberation Serif", serif' font-size="6.5" font-style="italic" fill="#444">R<tspan font-size="3.8" dy="1.2">el</tspan></text>
<text x="448" y="324.2" font-family='"Liberation Serif", serif' font-size="6.5" font-style="italic" fill="#444">R<tspan font-size="3.8" dy="1.2">SEI</tspan></text>
<text x="478" y="314" font-family='"Liberation Serif", serif' font-size="6.5" font-style="italic" fill="#444">Z<tspan font-size="3.8" dy="1.2">W</tspan></text>
<text x="390.40" y="363.50" font-family='"Liberation Serif", serif' font-size="11.6" text-anchor="start" font-weight="normal" fill="#1a1a1a" stroke="#1a1a1a" stroke-width="0.3">Z' (&#937;)</text>
<text x="0" y="0" transform="translate(283.3,279.2) rotate(-90)" font-family='"Liberation Serif", serif' font-size="11.6" text-anchor="middle" fill="#1a1a1a" stroke="#1a1a1a" stroke-width="0.3" style="white-space:pre">Z"   (&#937;)</text>
<line x1="60.5" y1="473.4" x2="60.5" y2="423.6" stroke="#3a2aee" stroke-width="1.3"/>
<path d="M60.50,435.00 C60.83,434.68 61.58,433.63 62.50,433.10 C63.42,432.57 64.10,432.27 66.00,431.80 C67.90,431.33 69.45,431.02 73.90,430.30 C78.35,429.58 86.42,428.45 92.70,427.50 C98.98,426.55 105.30,425.55 111.60,424.60 C117.90,423.65 124.22,423.15 130.50,421.80 C136.78,420.45 140.60,419.07 149.30,416.50 C158.00,413.93 174.25,408.90 182.70,406.40 C191.15,403.90 194.33,403.07 200.00,401.50 C205.67,399.93 211.25,398.22 216.70,397.00 C222.15,395.78 230.03,394.67 232.70,394.20" fill="none" stroke="#ff2020" stroke-width="1.3" stroke-linejoin="round"/>
<path d="M60.30,396.30 C61.25,396.55 63.73,397.17 66.00,397.80 C68.27,398.43 69.45,398.15 73.90,400.10 C78.35,402.05 86.42,406.67 92.70,409.50 C98.98,412.33 105.30,414.90 111.60,417.10 C117.90,419.30 124.22,421.02 130.50,422.70 C136.78,424.38 143.55,425.82 149.30,427.20 C155.05,428.58 159.43,429.58 165.00,431.00 C170.57,432.42 178.48,434.23 182.70,435.70 C186.92,437.17 188.25,438.50 190.30,439.80 C192.35,441.10 193.63,441.97 195.00,443.50 C196.37,445.03 197.47,446.83 198.50,449.00 C199.53,451.17 200.05,452.97 201.20,456.50 C202.35,460.03 204.18,465.45 205.40,470.20 C206.62,474.95 207.57,479.50 208.50,485.00 C209.43,490.50 210.58,500.17 211.00,503.20" fill="none" stroke="#ff2020" stroke-width="1.3" stroke-linejoin="round"/>
<path d="M60.50,423.60 C60.67,423.72 61.00,423.98 61.50,424.30 C62.00,424.62 62.75,425.28 63.50,425.50 C64.25,425.72 64.27,425.68 66.00,425.60 C67.73,425.52 69.45,425.48 73.90,425.00 C78.35,424.52 86.42,423.55 92.70,422.70 C98.98,421.85 105.30,421.00 111.60,419.90 C117.90,418.80 124.22,417.72 130.50,416.10 C136.78,414.48 142.17,412.45 149.30,410.20 C156.43,407.95 167.68,404.43 173.30,402.60 C178.92,400.77 179.85,400.30 183.00,399.20 C186.15,398.10 188.95,396.83 192.20,396.00 C195.45,395.17 200.78,394.50 202.50,394.20" fill="none" stroke="#2020ff" stroke-width="1.3" stroke-linejoin="round"/>
<path d="M60.30,396.30 C61.25,396.47 63.73,396.82 66.00,397.30 C68.27,397.78 69.45,397.63 73.90,399.20 C78.35,400.77 86.42,404.20 92.70,406.70 C98.98,409.20 105.30,411.85 111.60,414.20 C117.90,416.55 124.22,418.95 130.50,420.80 C136.78,422.65 143.55,423.85 149.30,425.30 C155.05,426.75 160.55,428.22 165.00,429.50 C169.45,430.78 173.05,431.97 176.00,433.00 C178.95,434.03 181.03,434.62 182.70,435.70 C184.37,436.78 185.07,437.95 186.00,439.50 C186.93,441.05 187.70,443.03 188.30,445.00 C188.90,446.97 189.23,448.93 189.60,451.30 C189.97,453.67 190.17,454.80 190.50,459.20 C190.83,463.60 191.30,470.23 191.60,477.70 C191.90,485.17 192.18,499.62 192.30,504.00" fill="none" stroke="#2020ff" stroke-width="1.3" stroke-linejoin="round"/>
<line x1="192.2" y1="472" x2="192.2" y2="504" stroke="#2020ff" stroke-width="1.1"/>
<line x1="211" y1="479.6" x2="211" y2="503" stroke="#ff3030" stroke-width="1.1"/>
<rect x="47.2" y="374.5" width="198.80" height="145.10" fill="none" stroke="#2a2a2a" stroke-width="1.3"/>
<line x1="60.00" y1="519.6" x2="60.00" y2="516.6" stroke="#2a2a2a" stroke-width="1"/>
<text x="60.00" y="528.50" font-family='"Liberation Sans", sans-serif' font-size="7" text-anchor="middle" font-weight="normal" fill="#222" >0</text>
<line x1="91.05" y1="519.6" x2="91.05" y2="517.8000000000001" stroke="#2a2a2a" stroke-width="1"/>
<line x1="122.10" y1="519.6" x2="122.10" y2="516.6" stroke="#2a2a2a" stroke-width="1"/>
<text x="122.10" y="528.50" font-family='"Liberation Sans", sans-serif' font-size="7" text-anchor="middle" font-weight="normal" fill="#222" >50</text>
<line x1="153.15" y1="519.6" x2="153.15" y2="517.8000000000001" stroke="#2a2a2a" stroke-width="1"/>
<line x1="184.20" y1="519.6" x2="184.20" y2="516.6" stroke="#2a2a2a" stroke-width="1"/>
<text x="184.20" y="528.50" font-family='"Liberation Sans", sans-serif' font-size="7" text-anchor="middle" font-weight="normal" fill="#222" >100</text>
<line x1="215.25" y1="519.6" x2="215.25" y2="517.8000000000001" stroke="#2a2a2a" stroke-width="1"/>
<line x1="246.30" y1="519.6" x2="246.30" y2="516.6" stroke="#2a2a2a" stroke-width="1"/>
<text x="246.30" y="528.50" font-family='"Liberation Sans", sans-serif' font-size="7" text-anchor="middle" font-weight="normal" fill="#222" >150</text>
<line x1="47.2" y1="503.70" x2="50.2" y2="503.70" stroke="#2a2a2a" stroke-width="1"/>
<text x="43.80" y="506.22" font-family='"Liberation Sans", sans-serif' font-size="7" text-anchor="end" font-weight="normal" fill="#111" stroke="#111" stroke-width="0.12">2.5</text>
<line x1="47.2" y1="487.55" x2="49.0" y2="487.55" stroke="#2a2a2a" stroke-width="1"/>
<line x1="47.2" y1="471.40" x2="50.2" y2="471.40" stroke="#2a2a2a" stroke-width="1"/>
<text x="43.80" y="473.92" font-family='"Liberation Sans", sans-serif' font-size="7" text-anchor="end" font-weight="normal" fill="#111" stroke="#111" stroke-width="0.12">3.0</text>
<line x1="47.2" y1="455.25" x2="49.0" y2="455.25" stroke="#2a2a2a" stroke-width="1"/>
<line x1="47.2" y1="439.10" x2="50.2" y2="439.10" stroke="#2a2a2a" stroke-width="1"/>
<text x="43.80" y="441.62" font-family='"Liberation Sans", sans-serif' font-size="7" text-anchor="end" font-weight="normal" fill="#111" stroke="#111" stroke-width="0.12">3.5</text>
<line x1="47.2" y1="422.95" x2="49.0" y2="422.95" stroke="#2a2a2a" stroke-width="1"/>
<line x1="47.2" y1="406.80" x2="50.2" y2="406.80" stroke="#2a2a2a" stroke-width="1"/>
<text x="43.80" y="409.32" font-family='"Liberation Sans", sans-serif' font-size="7" text-anchor="end" font-weight="normal" fill="#111" stroke="#111" stroke-width="0.12">4.0</text>
<line x1="47.2" y1="390.65" x2="49.0" y2="390.65" stroke="#2a2a2a" stroke-width="1"/>
<line x1="47.2" y1="374.50" x2="50.2" y2="374.50" stroke="#2a2a2a" stroke-width="1"/>
<text x="43.80" y="377.02" font-family='"Liberation Sans", sans-serif' font-size="7" text-anchor="end" font-weight="normal" fill="#111" stroke="#111" stroke-width="0.12">4.5</text>
<text x="8.50" y="366.70" font-family='"Liberation Serif", serif' font-size="20.5" text-anchor="start" font-weight="normal" fill="#111" >(e)</text>
<line x1="61.3" y1="494" x2="77.7" y2="494" stroke="#2020ff" stroke-width="1.3"/>
<line x1="61.3" y1="503" x2="77.7" y2="503" stroke="#ff2020" stroke-width="1.3"/>
<text x="79.00" y="496.60" font-family='"Liberation Sans", sans-serif' font-size="7" text-anchor="start" font-weight="normal" fill="#222" letter-spacing="0.5">Li</text>
<text x="79" y="505.6" font-family='"Liberation Sans", sans-serif' font-size="7" fill="#222" letter-spacing="0.5">Li<tspan font-size="3.8" dy="2.2">0.98</tspan><tspan dy="-2.2">Sn</tspan><tspan font-size="3.8" dy="2.2">0.02</tspan></text>
<text x="77.5" y="541.6" font-family='"Liberation Serif", serif' font-size="11" fill="#1a1a1a" stroke="#1a1a1a" stroke-width="0.25" letter-spacing="0.36">Discharge capacity (mAh g<tspan font-size="6" dy="-4">-1</tspan><tspan dy="4">)</tspan></text>
<text x="0" y="0" transform="translate(28,449) rotate(-90)" font-family='"Liberation Serif", serif' font-size="12.5" text-anchor="middle" fill="#1a1a1a" stroke="#1a1a1a" stroke-width="0.3">Voltage (V)</text>
<g clip-path="url(#clipF)">
<circle cx="305.89" cy="409.64" r="2.2" fill="#fff" stroke="#ff2020" stroke-width="0.9"/>
<path d="M305.89,407.44 A2.2,2.2 0 0,1 305.89,411.84 Z" fill="#ff2020"/>
<circle cx="308.08" cy="405.21" r="2.2" fill="#fff" stroke="#ff2020" stroke-width="0.9"/>
<path d="M308.08,403.01 A2.2,2.2 0 0,1 308.08,407.41 Z" fill="#ff2020"/>
<circle cx="310.27" cy="405.67" r="2.2" fill="#fff" stroke="#ff2020" stroke-width="0.9"/>
<path d="M310.27,403.47 A2.2,2.2 0 0,1 310.27,407.87 Z" fill="#ff2020"/>
<circle cx="312.46" cy="406.99" r="2.2" fill="#fff" stroke="#ff2020" stroke-width="0.9"/>
<path d="M312.46,404.79 A2.2,2.2 0 0,1 312.46,409.19 Z" fill="#ff2020"/>
<circle cx="314.65" cy="409.21" r="2.2" fill="#fff" stroke="#ff2020" stroke-width="0.9"/>
<path d="M314.65,407.01 A2.2,2.2 0 0,1 314.65,411.41 Z" fill="#ff2020"/>
<circle cx="316.84" cy="404.35" r="2.2" fill="#fff" stroke="#ff2020" stroke-width="0.9"/>
<path d="M316.84,402.15 A2.2,2.2 0 0,1 316.84,406.55 Z" fill="#ff2020"/>
<circle cx="319.03" cy="404.22" r="2.2" fill="#fff" stroke="#ff2020" stroke-width="0.9"/>
<path d="M319.03,402.02 A2.2,2.2 0 0,1 319.03,406.42 Z" fill="#ff2020"/>
<circle cx="321.22" cy="406.71" r="2.2" fill="#fff" stroke="#ff2020" stroke-width="0.9"/>
<path d="M321.22,404.51 A2.2,2.2 0 0,1 321.22,408.91 Z" fill="#ff2020"/>
<circle cx="323.41" cy="406.77" r="2.2" fill="#fff" stroke="#ff2020" stroke-width="0.9"/>
<path d="M323.41,404.57 A2.2,2.2 0 0,1 323.41,408.97 Z" fill="#ff2020"/>
<circle cx="325.60" cy="409.04" r="2.2" fill="#fff" stroke="#ff2020" stroke-width="0.9"/>
<path d="M325.60,406.84 A2.2,2.2 0 0,1 325.60,411.24 Z" fill="#ff2020"/>
<circle cx="327.79" cy="411.00" r="2.2" fill="#fff" stroke="#ff2020" stroke-width="0.9"/>
<path d="M327.79,408.80 A2.2,2.2 0 0,1 327.79,413.20 Z" fill="#ff2020"/>
<circle cx="329.98" cy="407.90" r="2.2" fill="#fff" stroke="#ff2020" stroke-width="0.9"/>
<path d="M329.98,405.70 A2.2,2.2 0 0,1 329.98,410.10 Z" fill="#ff2020"/>
<circle cx="332.17" cy="406.09" r="2.2" fill="#fff" stroke="#ff2020" stroke-width="0.9"/>
<path d="M332.17,403.89 A2.2,2.2 0 0,1 332.17,408.29 Z" fill="#ff2020"/>
<circle cx="334.36" cy="410.45" r="2.2" fill="#fff" stroke="#ff2020" stroke-width="0.9"/>
<path d="M334.36,408.25 A2.2,2.2 0 0,1 334.36,412.65 Z" fill="#ff2020"/>
<circle cx="336.55" cy="404.34" r="2.2" fill="#fff" stroke="#ff2020" stroke-width="0.9"/>
<path d="M336.55,402.14 A2.2,2.2 0 0,1 336.55,406.54 Z" fill="#ff2020"/>
<circle cx="338.74" cy="409.07" r="2.2" fill="#fff" stroke="#ff2020" stroke-width="0.9"/>
<path d="M338.74,406.87 A2.2,2.2 0 0,1 338.74,411.27 Z" fill="#ff2020"/>
<circle cx="340.93" cy="409.07" r="2.2" fill="#fff" stroke="#ff2020" stroke-width="0.9"/>
<path d="M340.93,406.87 A2.2,2.2 0 0,1 340.93,411.27 Z" fill="#ff2020"/>
<circle cx="343.12" cy="410.67" r="2.2" fill="#fff" stroke="#ff2020" stroke-width="0.9"/>
<path d="M343.12,408.47 A2.2,2.2 0 0,1 343.12,412.87 Z" fill="#ff2020"/>
<circle cx="345.31" cy="402.62" r="2.2" fill="#fff" stroke="#ff2020" stroke-width="0.9"/>
<path d="M345.31,400.42 A2.2,2.2 0 0,1 345.31,404.82 Z" fill="#ff2020"/>
<circle cx="347.50" cy="404.80" r="2.2" fill="#fff" stroke="#ff2020" stroke-width="0.9"/>
<path d="M347.50,402.60 A2.2,2.2 0 0,1 347.50,407.00 Z" fill="#ff2020"/>
<circle cx="349.69" cy="403.65" r="2.2" fill="#fff" stroke="#ff2020" stroke-width="0.9"/>
<path d="M349.69,401.45 A2.2,2.2 0 0,1 349.69,405.85 Z" fill="#ff2020"/>
<circle cx="351.88" cy="405.84" r="2.2" fill="#fff" stroke="#ff2020" stroke-width="0.9"/>
<path d="M351.88,403.64 A2.2,2.2 0 0,1 351.88,408.04 Z" fill="#ff2020"/>
<circle cx="354.07" cy="410.74" r="2.2" fill="#fff" stroke="#ff2020" stroke-width="0.9"/>
<path d="M354.07,408.54 A2.2,2.2 0 0,1 354.07,412.94 Z" fill="#ff2020"/>
<circle cx="356.26" cy="408.26" r="2.2" fill="#fff" stroke="#ff2020" stroke-width="0.9"/>
<path d="M356.26,406.06 A2.2,2.2 0 0,1 356.26,410.46 Z" fill="#ff2020"/>
<circle cx="358.45" cy="406.83" r="2.2" fill="#fff" stroke="#ff2020" stroke-width="0.9"/>
<path d="M358.45,404.63 A2.2,2.2 0 0,1 358.45,409.03 Z" fill="#ff2020"/>
<circle cx="360.64" cy="410.05" r="2.2" fill="#fff" stroke="#ff2020" stroke-width="0.9"/>
<path d="M360.64,407.85 A2.2,2.2 0 0,1 360.64,412.25 Z" fill="#ff2020"/>
<circle cx="362.83" cy="403.00" r="2.2" fill="#fff" stroke="#ff2020" stroke-width="0.9"/>
<path d="M362.83,400.80 A2.2,2.2 0 0,1 362.83,405.20 Z" fill="#ff2020"/>
<circle cx="365.02" cy="407.92" r="2.2" fill="#fff" stroke="#ff2020" stroke-width="0.9"/>
<path d="M365.02,405.72 A2.2,2.2 0 0,1 365.02,410.12 Z" fill="#ff2020"/>
<circle cx="367.21" cy="409.73" r="2.2" fill="#fff" stroke="#ff2020" stroke-width="0.9"/>
<path d="M367.21,407.53 A2.2,2.2 0 0,1 367.21,411.93 Z" fill="#ff2020"/>
<circle cx="369.40" cy="404.14" r="2.2" fill="#fff" stroke="#ff2020" stroke-width="0.9"/>
<path d="M369.40,401.94 A2.2,2.2 0 0,1 369.40,406.34 Z" fill="#ff2020"/>
<circle cx="371.59" cy="409.98" r="2.2" fill="#fff" stroke="#ff2020" stroke-width="0.9"/>
<path d="M371.59,407.78 A2.2,2.2 0 0,1 371.59,412.18 Z" fill="#ff2020"/>
<circle cx="373.78" cy="403.20" r="2.2" fill="#fff" stroke="#ff2020" stroke-width="0.9"/>
<path d="M373.78,401.00 A2.2,2.2 0 0,1 373.78,405.40 Z" fill="#ff2020"/>
<circle cx="375.97" cy="407.21" r="2.2" fill="#fff" stroke="#ff2020" stroke-width="0.9"/>
<path d="M375.97,405.01 A2.2,2.2 0 0,1 375.97,409.41 Z" fill="#ff2020"/>
<circle cx="378.16" cy="406.37" r="2.2" fill="#fff" stroke="#ff2020" stroke-width="0.9"/>
<path d="M378.16,404.17 A2.2,2.2 0 0,1 378.16,408.57 Z" fill="#ff2020"/>
<circle cx="380.35" cy="408.14" r="2.2" fill="#fff" stroke="#ff2020" stroke-width="0.9"/>
<path d="M380.35,405.94 A2.2,2.2 0 0,1 380.35,410.34 Z" fill="#ff2020"/>
<circle cx="382.54" cy="406.94" r="2.2" fill="#fff" stroke="#ff2020" stroke-width="0.9"/>
<path d="M382.54,404.74 A2.2,2.2 0 0,1 382.54,409.14 Z" fill="#ff2020"/>
<circle cx="384.73" cy="409.45" r="2.2" fill="#fff" stroke="#ff2020" stroke-width="0.9"/>
<path d="M384.73,407.25 A2.2,2.2 0 0,1 384.73,411.65 Z" fill="#ff2020"/>
<circle cx="386.92" cy="410.72" r="2.2" fill="#fff" stroke="#ff2020" stroke-width="0.9"/>
<path d="M386.92,408.52 A2.2,2.2 0 0,1 386.92,412.92 Z" fill="#ff2020"/>
<circle cx="389.11" cy="403.73" r="2.2" fill="#fff" stroke="#ff2020" stroke-width="0.9"/>
<path d="M389.11,401.53 A2.2,2.2 0 0,1 389.11,405.93 Z" fill="#ff2020"/>
<circle cx="391.30" cy="409.05" r="2.2" fill="#fff" stroke="#ff2020" stroke-width="0.9"/>
<path d="M391.30,406.85 A2.2,2.2 0 0,1 391.30,411.25 Z" fill="#ff2020"/>
<circle cx="393.49" cy="404.45" r="2.2" fill="#fff" stroke="#ff2020" stroke-width="0.9"/>
<path d="M393.49,402.25 A2.2,2.2 0 0,1 393.49,406.65 Z" fill="#ff2020"/>
<circle cx="395.68" cy="409.27" r="2.2" fill="#fff" stroke="#ff2020" stroke-width="0.9"/>
<path d="M395.68,407.07 A2.2,2.2 0 0,1 395.68,411.47 Z" fill="#ff2020"/>
<circle cx="397.87" cy="402.86" r="2.2" fill="#fff" stroke="#ff2020" stroke-width="0.9"/>
<path d="M397.87,400.66 A2.2,2.2 0 0,1 397.87,405.06 Z" fill="#ff2020"/>
<circle cx="400.06" cy="403.49" r="2.2" fill="#fff" stroke="#ff2020" stroke-width="0.9"/>
<path d="M400.06,401.29 A2.2,2.2 0 0,1 400.06,405.69 Z" fill="#ff2020"/>
<circle cx="402.25" cy="404.66" r="2.2" fill="#fff" stroke="#ff2020" stroke-width="0.9"/>
<path d="M402.25,402.46 A2.2,2.2 0 0,1 402.25,406.86 Z" fill="#ff2020"/>
<circle cx="404.44" cy="404.60" r="2.2" fill="#fff" stroke="#ff2020" stroke-width="0.9"/>
<path d="M404.44,402.40 A2.2,2.2 0 0,1 404.44,406.80 Z" fill="#ff2020"/>
<circle cx="406.63" cy="406.13" r="2.2" fill="#fff" stroke="#ff2020" stroke-width="0.9"/>
<path d="M406.63,403.93 A2.2,2.2 0 0,1 406.63,408.33 Z" fill="#ff2020"/>
<circle cx="408.82" cy="404.88" r="2.2" fill="#fff" stroke="#ff2020" stroke-width="0.9"/>
<path d="M408.82,402.68 A2.2,2.2 0 0,1 408.82,407.08 Z" fill="#ff2020"/>
<circle cx="411.01" cy="410.00" r="2.2" fill="#fff" stroke="#ff2020" stroke-width="0.9"/>
<path d="M411.01,407.80 A2.2,2.2 0 0,1 411.01,412.20 Z" fill="#ff2020"/>
<circle cx="413.20" cy="407.01" r="2.2" fill="#fff" stroke="#ff2020" stroke-width="0.9"/>
<path d="M413.20,404.81 A2.2,2.2 0 0,1 413.20,409.21 Z" fill="#ff2020"/>
<circle cx="415.39" cy="404.06" r="2.2" fill="#fff" stroke="#ff2020" stroke-width="0.9"/>
<path d="M415.39,401.86 A2.2,2.2 0 0,1 415.39,406.26 Z" fill="#ff2020"/>
<circle cx="417.58" cy="409.33" r="2.2" fill="#fff" stroke="#ff2020" stroke-width="0.9"/>
<path d="M417.58,407.13 A2.2,2.2 0 0,1 417.58,411.53 Z" fill="#ff2020"/>
<circle cx="419.77" cy="403.24" r="2.2" fill="#fff" stroke="#ff2020" stroke-width="0.9"/>
<path d="M419.77,401.04 A2.2,2.2 0 0,1 419.77,405.44 Z" fill="#ff2020"/>
<circle cx="421.96" cy="403.54" r="2.2" fill="#fff" stroke="#ff2020" stroke-width="0.9"/>
<path d="M421.96,401.34 A2.2,2.2 0 0,1 421.96,405.74 Z" fill="#ff2020"/>
<circle cx="424.15" cy="407.58" r="2.2" fill="#fff" stroke="#ff2020" stroke-width="0.9"/>
<path d="M424.15,405.38 A2.2,2.2 0 0,1 424.15,409.78 Z" fill="#ff2020"/>
<circle cx="426.34" cy="407.95" r="2.2" fill="#fff" stroke="#ff2020" stroke-width="0.9"/>
<path d="M426.34,405.75 A2.2,2.2 0 0,1 426.34,410.15 Z" fill="#ff2020"/>
<circle cx="428.53" cy="407.22" r="2.2" fill="#fff" stroke="#ff2020" stroke-width="0.9"/>
<path d="M428.53,405.02 A2.2,2.2 0 0,1 428.53,409.42 Z" fill="#ff2020"/>
<circle cx="430.72" cy="407.78" r="2.2" fill="#fff" stroke="#ff2020" stroke-width="0.9"/>
<path d="M430.72,405.58 A2.2,2.2 0 0,1 430.72,409.98 Z" fill="#ff2020"/>
<circle cx="432.91" cy="402.64" r="2.2" fill="#fff" stroke="#ff2020" stroke-width="0.9"/>
<path d="M432.91,400.44 A2.2,2.2 0 0,1 432.91,404.84 Z" fill="#ff2020"/>
<circle cx="435.10" cy="407.77" r="2.2" fill="#fff" stroke="#ff2020" stroke-width="0.9"/>
<path d="M435.10,405.57 A2.2,2.2 0 0,1 435.10,409.97 Z" fill="#ff2020"/>
<circle cx="437.29" cy="410.80" r="2.2" fill="#fff" stroke="#ff2020" stroke-width="0.9"/>
<path d="M437.29,408.60 A2.2,2.2 0 0,1 437.29,413.00 Z" fill="#ff2020"/>
<circle cx="439.48" cy="410.24" r="2.2" fill="#fff" stroke="#ff2020" stroke-width="0.9"/>
<path d="M439.48,408.04 A2.2,2.2 0 0,1 439.48,412.44 Z" fill="#ff2020"/>
<circle cx="441.67" cy="404.97" r="2.2" fill="#fff" stroke="#ff2020" stroke-width="0.9"/>
<path d="M441.67,402.77 A2.2,2.2 0 0,1 441.67,407.17 Z" fill="#ff2020"/>
<circle cx="443.86" cy="402.66" r="2.2" fill="#fff" stroke="#ff2020" stroke-width="0.9"/>
<path d="M443.86,400.46 A2.2,2.2 0 0,1 443.86,404.86 Z" fill="#ff2020"/>
<circle cx="446.05" cy="406.85" r="2.2" fill="#fff" stroke="#ff2020" stroke-width="0.9"/>
<path d="M446.05,404.65 A2.2,2.2 0 0,1 446.05,409.05 Z" fill="#ff2020"/>
<circle cx="448.24" cy="406.88" r="2.2" fill="#fff" stroke="#ff2020" stroke-width="0.9"/>
<path d="M448.24,404.68 A2.2,2.2 0 0,1 448.24,409.08 Z" fill="#ff2020"/>
<circle cx="450.43" cy="406.39" r="2.2" fill="#fff" stroke="#ff2020" stroke-width="0.9"/>
<path d="M450.43,404.19 A2.2,2.2 0 0,1 450.43,408.59 Z" fill="#ff2020"/>
<circle cx="452.62" cy="404.72" r="2.2" fill="#fff" stroke="#ff2020" stroke-width="0.9"/>
<path d="M452.62,402.52 A2.2,2.2 0 0,1 452.62,406.92 Z" fill="#ff2020"/>
<circle cx="454.81" cy="409.16" r="2.2" fill="#fff" stroke="#ff2020" stroke-width="0.9"/>
<path d="M454.81,406.96 A2.2,2.2 0 0,1 454.81,411.36 Z" fill="#ff2020"/>
<circle cx="457.00" cy="405.90" r="2.2" fill="#fff" stroke="#ff2020" stroke-width="0.9"/>
<path d="M457.00,403.70 A2.2,2.2 0 0,1 457.00,408.10 Z" fill="#ff2020"/>
<circle cx="459.19" cy="406.34" r="2.2" fill="#fff" stroke="#ff2020" stroke-width="0.9"/>
<path d="M459.19,404.14 A2.2,2.2 0 0,1 459.19,408.54 Z" fill="#ff2020"/>
<circle cx="461.38" cy="405.78" r="2.2" fill="#fff" stroke="#ff2020" stroke-width="0.9"/>
<path d="M461.38,403.58 A2.2,2.2 0 0,1 461.38,407.98 Z" fill="#ff2020"/>
<circle cx="463.57" cy="409.51" r="2.2" fill="#fff" stroke="#ff2020" stroke-width="0.9"/>
<path d="M463.57,407.31 A2.2,2.2 0 0,1 463.57,411.71 Z" fill="#ff2020"/>
<circle cx="465.76" cy="409.60" r="2.2" fill="#fff" stroke="#ff2020" stroke-width="0.9"/>
<path d="M465.76,407.40 A2.2,2.2 0 0,1 465.76,411.80 Z" fill="#ff2020"/>
<circle cx="467.95" cy="408.09" r="2.2" fill="#fff" stroke="#ff2020" stroke-width="0.9"/>
<path d="M467.95,405.89 A2.2,2.2 0 0,1 467.95,410.29 Z" fill="#ff2020"/>
<circle cx="470.14" cy="403.21" r="2.2" fill="#fff" stroke="#ff2020" stroke-width="0.9"/>
<path d="M470.14,401.01 A2.2,2.2 0 0,1 470.14,405.41 Z" fill="#ff2020"/>
<circle cx="472.33" cy="408.11" r="2.2" fill="#fff" stroke="#ff2020" stroke-width="0.9"/>
<path d="M472.33,405.91 A2.2,2.2 0 0,1 472.33,410.31 Z" fill="#ff2020"/>
<circle cx="474.52" cy="405.99" r="2.2" fill="#fff" stroke="#ff2020" stroke-width="0.9"/>
<path d="M474.52,403.79 A2.2,2.2 0 0,1 474.52,408.19 Z" fill="#ff2020"/>
<circle cx="476.71" cy="408.44" r="2.2" fill="#fff" stroke="#ff2020" stroke-width="0.9"/>
<path d="M476.71,406.24 A2.2,2.2 0 0,1 476.71,410.64 Z" fill="#ff2020"/>
<circle cx="478.90" cy="410.16" r="2.2" fill="#fff" stroke="#ff2020" stroke-width="0.9"/>
<path d="M478.90,407.96 A2.2,2.2 0 0,1 478.90,412.36 Z" fill="#ff2020"/>
<circle cx="481.09" cy="410.48" r="2.2" fill="#fff" stroke="#ff2020" stroke-width="0.9"/>
<path d="M481.09,408.28 A2.2,2.2 0 0,1 481.09,412.68 Z" fill="#ff2020"/>
<circle cx="483.28" cy="404.17" r="2.2" fill="#fff" stroke="#ff2020" stroke-width="0.9"/>
<path d="M483.28,401.97 A2.2,2.2 0 0,1 483.28,406.37 Z" fill="#ff2020"/>
<circle cx="485.47" cy="404.48" r="2.2" fill="#fff" stroke="#ff2020" stroke-width="0.9"/>
<path d="M485.47,402.28 A2.2,2.2 0 0,1 485.47,406.68 Z" fill="#ff2020"/>
<circle cx="487.66" cy="407.87" r="2.2" fill="#fff" stroke="#ff2020" stroke-width="0.9"/>
<path d="M487.66,405.67 A2.2,2.2 0 0,1 487.66,410.07 Z" fill="#ff2020"/>
<circle cx="489.85" cy="405.27" r="2.2" fill="#fff" stroke="#ff2020" stroke-width="0.9"/>
<path d="M489.85,403.07 A2.2,2.2 0 0,1 489.85,407.47 Z" fill="#ff2020"/>
<circle cx="492.04" cy="405.33" r="2.2" fill="#fff" stroke="#ff2020" stroke-width="0.9"/>
<path d="M492.04,403.13 A2.2,2.2 0 0,1 492.04,407.53 Z" fill="#ff2020"/>
<circle cx="494.23" cy="403.45" r="2.2" fill="#fff" stroke="#ff2020" stroke-width="0.9"/>
<path d="M494.23,401.25 A2.2,2.2 0 0,1 494.23,405.65 Z" fill="#ff2020"/>
<circle cx="496.42" cy="402.95" r="2.2" fill="#fff" stroke="#ff2020" stroke-width="0.9"/>
<path d="M496.42,400.75 A2.2,2.2 0 0,1 496.42,405.15 Z" fill="#ff2020"/>
<circle cx="498.61" cy="407.60" r="2.2" fill="#fff" stroke="#ff2020" stroke-width="0.9"/>
<path d="M498.61,405.40 A2.2,2.2 0 0,1 498.61,409.80 Z" fill="#ff2020"/>
<circle cx="500.80" cy="402.69" r="2.2" fill="#fff" stroke="#ff2020" stroke-width="0.9"/>
<path d="M500.80,400.49 A2.2,2.2 0 0,1 500.80,404.89 Z" fill="#ff2020"/>
<polygon points="305.89,402.22 306.53,403.93 308.36,404.01 306.93,405.16 307.42,406.92 305.89,405.91 304.36,406.92 304.85,405.16 303.42,404.01 305.25,403.93" fill="#2020ff"/>
<polygon points="308.08,404.87 308.72,406.58 310.55,406.66 309.12,407.80 309.61,409.57 308.08,408.56 306.55,409.57 307.04,407.80 305.61,406.66 307.44,406.58" fill="#2020ff"/>
<polygon points="310.27,402.78 310.91,404.49 312.74,404.57 311.31,405.71 311.80,407.48 310.27,406.47 308.74,407.48 309.23,405.71 307.80,404.57 309.63,404.49" fill="#2020ff"/>
<polygon points="312.46,405.58 313.10,407.29 314.93,407.37 313.50,408.51 313.99,410.28 312.46,409.27 310.93,410.28 311.42,408.51 309.99,407.37 311.82,407.29" fill="#2020ff"/>
<polygon points="314.65,406.40 315.29,408.12 317.12,408.20 315.69,409.34 316.18,411.10 314.65,410.09 313.12,411.10 313.61,409.34 312.18,408.20 314.01,408.12" fill="#2020ff"/>
<polygon points="316.84,407.32 317.48,409.03 319.31,409.11 317.88,410.25 318.37,412.02 316.84,411.01 315.31,412.02 315.80,410.25 314.37,409.11 316.20,409.03" fill="#2020ff"/>
<polygon points="319.03,402.83 319.67,404.54 321.50,404.62 320.07,405.76 320.56,407.53 319.03,406.52 317.50,407.53 317.99,405.76 316.56,404.62 318.39,404.54" fill="#2020ff"/>
<polygon points="321.22,407.92 321.86,409.64 323.69,409.72 322.26,410.86 322.75,412.62 321.22,411.61 319.69,412.62 320.18,410.86 318.75,409.72 320.58,409.64" fill="#2020ff"/>
<polygon points="323.41,408.58 324.05,410.30 325.88,410.38 324.45,411.52 324.94,413.29 323.41,412.28 321.88,413.29 322.37,411.52 320.94,410.38 322.77,410.30" fill="#2020ff"/>
<polygon points="325.60,403.33 326.24,405.05 328.07,405.13 326.64,406.27 327.13,408.04 325.60,407.02 324.07,408.04 324.56,406.27 323.13,405.13 324.96,405.05" fill="#2020ff"/>
<polygon points="327.79,403.56 328.43,405.27 330.26,405.35 328.83,406.49 329.32,408.26 327.79,407.25 326.26,408.26 326.75,406.49 325.32,405.35 327.15,405.27" fill="#2020ff"/>
<polygon points="329.98,405.63 330.62,407.35 332.45,407.43 331.02,408.57 331.51,410.33 329.98,409.32 328.45,410.33 328.94,408.57 327.51,407.43 329.34,407.35" fill="#2020ff"/>
<polygon points="332.17,403.11 332.81,404.82 334.64,404.90 333.21,406.04 333.70,407.81 332.17,406.80 330.64,407.81 331.13,406.04 329.70,404.90 331.53,404.82" fill="#2020ff"/>
<polygon points="334.36,408.71 335.00,410.42 336.83,410.50 335.40,411.64 335.89,413.41 334.36,412.40 332.83,413.41 333.32,411.64 331.89,410.50 333.72,410.42" fill="#2020ff"/>
<polygon points="336.55,407.24 337.19,408.96 339.02,409.04 337.59,410.18 338.08,411.94 336.55,410.93 335.02,411.94 335.51,410.18 334.08,409.04 335.91,408.96" fill="#2020ff"/>
<polygon points="338.74,407.01 339.38,408.73 341.21,408.81 339.78,409.95 340.27,411.71 338.74,410.70 337.21,411.71 337.70,409.95 336.27,408.81 338.10,408.73" fill="#2020ff"/>
<polygon points="340.93,406.09 341.57,407.80 343.40,407.88 341.97,409.02 342.46,410.79 340.93,409.78 339.40,410.79 339.89,409.02 338.46,407.88 340.29,407.80" fill="#2020ff"/>
<polygon points="343.12,407.86 343.76,409.58 345.59,409.66 344.16,410.80 344.65,412.57 343.12,411.55 341.59,412.57 342.08,410.80 340.65,409.66 342.48,409.58" fill="#2020ff"/>
<polygon points="345.31,408.58 345.95,410.30 347.78,410.38 346.35,411.52 346.84,413.29 345.31,412.28 343.78,413.29 344.27,411.52 342.84,410.38 344.67,410.30" fill="#2020ff"/>
<polygon points="347.50,406.67 348.14,408.38 349.97,408.46 348.54,409.60 349.03,411.37 347.50,410.36 345.97,411.37 346.46,409.60 345.03,408.46 346.86,408.38" fill="#2020ff"/>
<polygon points="349.69,402.66 350.33,404.38 352.16,404.46 350.73,405.60 351.22,407.37 349.69,406.35 348.16,407.37 348.65,405.60 347.22,404.46 349.05,404.38" fill="#2020ff"/>
<polygon points="351.88,402.06 352.52,403.78 354.35,403.86 352.92,405.00 353.41,406.76 351.88,405.75 350.35,406.76 350.84,405.00 349.41,403.86 351.24,403.78" fill="#2020ff"/>
<polygon points="354.07,403.76 354.71,405.47 356.54,405.55 355.11,406.69 355.60,408.46 354.07,407.45 352.54,408.46 353.03,406.69 351.60,405.55 353.43,405.47" fill="#2020ff"/>
<polygon points="356.26,405.66 356.90,407.38 358.73,407.46 357.30,408.60 357.79,410.36 356.26,409.35 354.73,410.36 355.22,408.60 353.79,407.46 355.62,407.38" fill="#2020ff"/>
<polygon points="358.45,407.28 359.09,409.00 360.92,409.08 359.49,410.22 359.98,411.98 358.45,410.97 356.92,411.98 357.41,410.22 355.98,409.08 357.81,409.00" fill="#2020ff"/>
<polygon points="360.64,402.24 361.28,403.95 363.11,404.03 361.68,405.17 362.17,406.94 360.64,405.93 359.11,406.94 359.60,405.17 358.17,404.03 360.00,403.95" fill="#2020ff"/>
<polygon points="362.83,405.33 363.47,407.04 365.30,407.12 363.87,408.27 364.36,410.03 362.83,409.02 361.30,410.03 361.79,408.27 360.36,407.12 362.19,407.04" fill="#2020ff"/>
<polygon points="365.02,403.88 365.66,405.60 367.49,405.68 366.06,406.82 366.55,408.58 365.02,407.57 363.49,408.58 363.98,406.82 362.55,405.68 364.38,405.60" fill="#2020ff"/>
<polygon points="367.21,408.88 367.85,410.59 369.68,410.67 368.25,411.82 368.74,413.58 367.21,412.57 365.68,413.58 366.17,411.82 364.74,410.67 366.57,410.59" fill="#2020ff"/>
<polygon points="369.40,407.57 370.04,409.28 371.87,409.36 370.44,410.50 370.93,412.27 369.40,411.26 367.87,412.27 368.36,410.50 366.93,409.36 368.76,409.28" fill="#2020ff"/>
<polygon points="371.59,403.10 372.23,404.81 374.06,404.89 372.63,406.03 373.12,407.80 371.59,406.79 370.06,407.80 370.55,406.03 369.12,404.89 370.95,404.81" fill="#2020ff"/>
<polygon points="373.78,403.40 374.42,405.12 376.25,405.20 374.82,406.34 375.31,408.11 373.78,407.10 372.25,408.11 372.74,406.34 371.31,405.20 373.14,405.12" fill="#2020ff"/>
<polygon points="375.97,402.79 376.61,404.51 378.44,404.59 377.01,405.73 377.50,407.49 375.97,406.48 374.44,407.49 374.93,405.73 373.50,404.59 375.33,404.51" fill="#2020ff"/>
<polygon points="378.16,404.79 378.80,406.50 380.63,406.58 379.20,407.73 379.69,409.49 378.16,408.48 376.63,409.49 377.12,407.73 375.69,406.58 377.52,406.50" fill="#2020ff"/>
<polygon points="380.35,406.04 380.99,407.76 382.82,407.84 381.39,408.98 381.88,410.74 380.35,409.73 378.82,410.74 379.31,408.98 377.88,407.84 379.71,407.76" fill="#2020ff"/>
<polygon points="382.54,404.93 383.18,406.65 385.01,406.73 383.58,407.87 384.07,409.64 382.54,408.62 381.01,409.64 381.50,407.87 380.07,406.73 381.90,406.65" fill="#2020ff"/>
<polygon points="384.73,403.02 385.37,404.73 387.20,404.81 385.77,405.96 386.26,407.72 384.73,406.71 383.20,407.72 383.69,405.96 382.26,404.81 384.09,404.73" fill="#2020ff"/>
<polygon points="386.92,406.88 387.56,408.60 389.39,408.68 387.96,409.82 388.45,411.59 386.92,410.57 385.39,411.59 385.88,409.82 384.45,408.68 386.28,408.60" fill="#2020ff"/>
<polygon points="389.11,405.27 389.75,406.98 391.58,407.06 390.15,408.20 390.64,409.97 389.11,408.96 387.58,409.97 388.07,408.20 386.64,407.06 388.47,406.98" fill="#2020ff"/>
<polygon points="391.30,407.11 391.94,408.83 393.77,408.91 392.34,410.05 392.83,411.81 391.30,410.80 389.77,411.81 390.26,410.05 388.83,408.91 390.66,408.83" fill="#2020ff"/>
<polygon points="393.49,403.60 394.13,405.31 395.96,405.39 394.53,406.53 395.02,408.30 393.49,407.29 391.96,408.30 392.45,406.53 391.02,405.39 392.85,405.31" fill="#2020ff"/>
<polygon points="395.68,409.01 396.32,410.72 398.15,410.80 396.72,411.94 397.21,413.71 395.68,412.70 394.15,413.71 394.64,411.94 393.21,410.80 395.04,410.72" fill="#2020ff"/>
<polygon points="397.87,404.19 398.51,405.91 400.34,405.99 398.91,407.13 399.40,408.89 397.87,407.88 396.34,408.89 396.83,407.13 395.40,405.99 397.23,405.91" fill="#2020ff"/>
<polygon points="400.06,402.27 400.70,403.99 402.53,404.07 401.10,405.21 401.59,406.97 400.06,405.96 398.53,406.97 399.02,405.21 397.59,404.07 399.42,403.99" fill="#2020ff"/>
<polygon points="402.25,408.91 402.89,410.63 404.72,410.71 403.29,411.85 403.78,413.62 402.25,412.60 400.72,413.62 401.21,411.85 399.78,410.71 401.61,410.63" fill="#2020ff"/>
<polygon points="404.44,404.84 405.08,406.56 406.91,406.64 405.48,407.78 405.97,409.55 404.44,408.53 402.91,409.55 403.40,407.78 401.97,406.64 403.80,406.56" fill="#2020ff"/>
<polygon points="406.63,404.48 407.27,406.20 409.10,406.28 407.67,407.42 408.16,409.19 406.63,408.18 405.10,409.19 405.59,407.42 404.16,406.28 405.99,406.20" fill="#2020ff"/>
<polygon points="408.82,403.00 409.46,404.72 411.29,404.80 409.86,405.94 410.35,407.70 408.82,406.69 407.29,407.70 407.78,405.94 406.35,404.80 408.18,404.72" fill="#2020ff"/>
<polygon points="411.01,404.91 411.65,406.63 413.48,406.71 412.05,407.85 412.54,409.61 411.01,408.60 409.48,409.61 409.97,407.85 408.54,406.71 410.37,406.63" fill="#2020ff"/>
<polygon points="413.20,407.24 413.84,408.96 415.67,409.04 414.24,410.18 414.73,411.95 413.20,410.94 411.67,411.95 412.16,410.18 410.73,409.04 412.56,408.96" fill="#2020ff"/>
<polygon points="415.39,406.18 416.03,407.90 417.86,407.98 416.43,409.12 416.92,410.89 415.39,409.88 413.86,410.89 414.35,409.12 412.92,407.98 414.75,407.90" fill="#2020ff"/>
<polygon points="417.58,402.24 418.22,403.95 420.05,404.03 418.62,405.17 419.11,406.94 417.58,405.93 416.05,406.94 416.54,405.17 415.11,404.03 416.94,403.95" fill="#2020ff"/>
<polygon points="419.77,402.62 420.41,404.33 422.24,404.41 420.81,405.55 421.30,407.32 419.77,406.31 418.24,407.32 418.73,405.55 417.30,404.41 419.13,404.33" fill="#2020ff"/>
<polygon points="421.96,408.13 422.60,409.84 424.43,409.92 423.00,411.06 423.49,412.83 421.96,411.82 420.43,412.83 420.92,411.06 419.49,409.92 421.32,409.84" fill="#2020ff"/>
<polygon points="424.15,408.40 424.79,410.12 426.62,410.20 425.19,411.34 425.68,413.11 424.15,412.09 422.62,413.11 423.11,411.34 421.68,410.20 423.51,410.12" fill="#2020ff"/>
<polygon points="426.34,408.41 426.98,410.13 428.81,410.21 427.38,411.35 427.87,413.11 426.34,412.10 424.81,413.11 425.30,411.35 423.87,410.21 425.70,410.13" fill="#2020ff"/>
<polygon points="428.53,408.90 429.17,410.62 431.00,410.70 429.57,411.84 430.06,413.60 428.53,412.59 427.00,413.60 427.49,411.84 426.06,410.70 427.89,410.62" fill="#2020ff"/>
<polygon points="430.72,405.89 431.36,407.61 433.19,407.69 431.76,408.83 432.25,410.59 430.72,409.58 429.19,410.59 429.68,408.83 428.25,407.69 430.08,407.61" fill="#2020ff"/>
<polygon points="432.91,408.07 433.55,409.79 435.38,409.87 433.95,411.01 434.44,412.78 432.91,411.77 431.38,412.78 431.87,411.01 430.44,409.87 432.27,409.79" fill="#2020ff"/>
<polygon points="435.10,402.89 435.74,404.61 437.57,404.69 436.14,405.83 436.63,407.59 435.10,406.58 433.57,407.59 434.06,405.83 432.63,404.69 434.46,404.61" fill="#2020ff"/>
<polygon points="437.29,404.40 437.93,406.12 439.76,406.20 438.33,407.34 438.82,409.11 437.29,408.09 435.76,409.11 436.25,407.34 434.82,406.20 436.65,406.12" fill="#2020ff"/>
<polygon points="439.48,408.18 440.12,409.89 441.95,409.97 440.52,411.11 441.01,412.88 439.48,411.87 437.95,412.88 438.44,411.11 437.01,409.97 438.84,409.89" fill="#2020ff"/>
<polygon points="441.67,405.24 442.31,406.95 444.14,407.03 442.71,408.17 443.20,409.94 441.67,408.93 440.14,409.94 440.63,408.17 439.20,407.03 441.03,406.95" fill="#2020ff"/>
<polygon points="443.86,406.77 444.50,408.48 446.33,408.56 444.90,409.70 445.39,411.47 443.86,410.46 442.33,411.47 442.82,409.70 441.39,408.56 443.22,408.48" fill="#2020ff"/>
<polygon points="446.05,405.55 446.69,407.27 448.52,407.35 447.09,408.49 447.58,410.26 446.05,409.25 444.52,410.26 445.01,408.49 443.58,407.35 445.41,407.27" fill="#2020ff"/>
<polygon points="448.24,407.51 448.88,409.23 450.71,409.31 449.28,410.45 449.77,412.22 448.24,411.20 446.71,412.22 447.20,410.45 445.77,409.31 447.60,409.23" fill="#2020ff"/>
<polygon points="450.43,407.89 451.07,409.61 452.90,409.69 451.47,410.83 451.96,412.60 450.43,411.59 448.90,412.60 449.39,410.83 447.96,409.69 449.79,409.61" fill="#2020ff"/>
<polygon points="452.62,407.77 453.26,409.48 455.09,409.56 453.66,410.70 454.15,412.47 452.62,411.46 451.09,412.47 451.58,410.70 450.15,409.56 451.98,409.48" fill="#2020ff"/>
<polygon points="454.81,406.38 455.45,408.10 457.28,408.18 455.85,409.32 456.34,411.09 454.81,410.08 453.28,411.09 453.77,409.32 452.34,408.18 454.17,408.10" fill="#2020ff"/>
<polygon points="457.00,404.01 457.64,405.73 459.47,405.81 458.04,406.95 458.53,408.72 457.00,407.70 455.47,408.72 455.96,406.95 454.53,405.81 456.36,405.73" fill="#2020ff"/>
<polygon points="459.19,405.15 459.83,406.87 461.66,406.95 460.23,408.09 460.72,409.86 459.19,408.85 457.66,409.86 458.15,408.09 456.72,406.95 458.55,406.87" fill="#2020ff"/>
<polygon points="461.38,408.75 462.02,410.47 463.85,410.55 462.42,411.69 462.91,413.45 461.38,412.44 459.85,413.45 460.34,411.69 458.91,410.55 460.74,410.47" fill="#2020ff"/>
<polygon points="463.57,404.01 464.21,405.72 466.04,405.80 464.61,406.94 465.10,408.71 463.57,407.70 462.04,408.71 462.53,406.94 461.10,405.80 462.93,405.72" fill="#2020ff"/>
<polygon points="465.76,402.84 466.40,404.56 468.23,404.64 466.80,405.78 467.29,407.55 465.76,406.53 464.23,407.55 464.72,405.78 463.29,404.64 465.12,404.56" fill="#2020ff"/>
<polygon points="467.95,403.55 468.59,405.27 470.42,405.35 468.99,406.49 469.48,408.26 467.95,407.25 466.42,408.26 466.91,406.49 465.48,405.35 467.31,405.27" fill="#2020ff"/>
<polygon points="470.14,403.44 470.78,405.15 472.61,405.23 471.18,406.37 471.67,408.14 470.14,407.13 468.61,408.14 469.10,406.37 467.67,405.23 469.50,405.15" fill="#2020ff"/>
<polygon points="472.33,409.02 472.97,410.74 474.80,410.82 473.37,411.96 473.86,413.73 472.33,412.72 470.80,413.73 471.29,411.96 469.86,410.82 471.69,410.74" fill="#2020ff"/>
<polygon points="474.52,405.77 475.16,407.49 476.99,407.57 475.56,408.71 476.05,410.47 474.52,409.46 472.99,410.47 473.48,408.71 472.05,407.57 473.88,407.49" fill="#2020ff"/>
<polygon points="476.71,408.63 477.35,410.34 479.18,410.42 477.75,411.56 478.24,413.33 476.71,412.32 475.18,413.33 475.67,411.56 474.24,410.42 476.07,410.34" fill="#2020ff"/>
<polygon points="478.90,403.63 479.54,405.34 481.37,405.42 479.94,406.57 480.43,408.33 478.90,407.32 477.37,408.33 477.86,406.57 476.43,405.42 478.26,405.34" fill="#2020ff"/>
<polygon points="481.09,407.83 481.73,409.55 483.56,409.63 482.13,410.77 482.62,412.53 481.09,411.52 479.56,412.53 480.05,410.77 478.62,409.63 480.45,409.55" fill="#2020ff"/>
<polygon points="483.28,404.00 483.92,405.72 485.75,405.80 484.32,406.94 484.81,408.71 483.28,407.69 481.75,408.71 482.24,406.94 480.81,405.80 482.64,405.72" fill="#2020ff"/>
<polygon points="485.47,407.27 486.11,408.99 487.94,409.07 486.51,410.21 487.00,411.98 485.47,410.97 483.94,411.98 484.43,410.21 483.00,409.07 484.83,408.99" fill="#2020ff"/>
<polygon points="487.66,404.11 488.30,405.82 490.13,405.90 488.70,407.04 489.19,408.81 487.66,407.80 486.13,408.81 486.62,407.04 485.19,405.90 487.02,405.82" fill="#2020ff"/>
<polygon points="489.85,406.84 490.49,408.56 492.32,408.64 490.89,409.78 491.38,411.54 489.85,410.53 488.32,411.54 488.81,409.78 487.38,408.64 489.21,408.56" fill="#2020ff"/>
<polygon points="492.04,408.78 492.68,410.50 494.51,410.58 493.08,411.72 493.57,413.48 492.04,412.47 490.51,413.48 491.00,411.72 489.57,410.58 491.40,410.50" fill="#2020ff"/>
<polygon points="494.23,406.30 494.87,408.02 496.70,408.10 495.27,409.24 495.76,411.01 494.23,410.00 492.70,411.01 493.19,409.24 491.76,408.10 493.59,408.02" fill="#2020ff"/>
<polygon points="496.42,406.87 497.06,408.59 498.89,408.67 497.46,409.81 497.95,411.57 496.42,410.56 494.89,411.57 495.38,409.81 493.95,408.67 495.78,408.59" fill="#2020ff"/>
<polygon points="498.61,402.65 499.25,404.37 501.08,404.45 499.65,405.59 500.14,407.35 498.61,406.34 497.08,407.35 497.57,405.59 496.14,404.45 497.97,404.37" fill="#2020ff"/>
<polygon points="500.80,406.97 501.44,408.69 503.27,408.77 501.84,409.91 502.33,411.68 500.80,410.67 499.27,411.68 499.76,409.91 498.33,408.77 500.16,408.69" fill="#2020ff"/>
<circle cx="305.89" cy="424.97" r="2.5" fill="#ff1010"/>
<circle cx="308.08" cy="424.68" r="2.5" fill="#ff1010"/>
<circle cx="310.27" cy="422.91" r="2.5" fill="#ff1010"/>
<circle cx="312.46" cy="426.40" r="2.5" fill="#ff1010"/>
<circle cx="314.65" cy="424.19" r="2.5" fill="#ff1010"/>
<circle cx="316.84" cy="424.49" r="2.5" fill="#ff1010"/>
<circle cx="319.03" cy="423.45" r="2.5" fill="#ff1010"/>
<circle cx="321.22" cy="422.38" r="2.5" fill="#ff1010"/>
<circle cx="323.41" cy="425.06" r="2.5" fill="#ff1010"/>
<circle cx="325.60" cy="423.33" r="2.5" fill="#ff1010"/>
<circle cx="327.79" cy="423.94" r="2.5" fill="#ff1010"/>
<circle cx="329.98" cy="423.68" r="2.5" fill="#ff1010"/>
<circle cx="332.17" cy="425.66" r="2.5" fill="#ff1010"/>
<circle cx="334.36" cy="422.38" r="2.5" fill="#ff1010"/>
<circle cx="336.55" cy="421.58" r="2.5" fill="#ff1010"/>
<circle cx="338.74" cy="424.08" r="2.5" fill="#ff1010"/>
<circle cx="340.93" cy="424.13" r="2.5" fill="#ff1010"/>
<circle cx="343.12" cy="421.38" r="2.5" fill="#ff1010"/>
<circle cx="345.31" cy="425.22" r="2.5" fill="#ff1010"/>
<circle cx="347.50" cy="425.45" r="2.5" fill="#ff1010"/>
<circle cx="349.69" cy="425.56" r="2.5" fill="#ff1010"/>
<circle cx="351.88" cy="422.54" r="2.5" fill="#ff1010"/>
<circle cx="354.07" cy="422.87" r="2.5" fill="#ff1010"/>
<circle cx="356.26" cy="424.29" r="2.5" fill="#ff1010"/>
<circle cx="358.45" cy="423.66" r="2.5" fill="#ff1010"/>
<circle cx="360.64" cy="426.35" r="2.5" fill="#ff1010"/>
<circle cx="362.83" cy="423.86" r="2.5" fill="#ff1010"/>
<circle cx="365.02" cy="424.87" r="2.5" fill="#ff1010"/>
<circle cx="367.21" cy="424.70" r="2.5" fill="#ff1010"/>
<circle cx="369.40" cy="425.40" r="2.5" fill="#ff1010"/>
<circle cx="371.59" cy="425.50" r="2.5" fill="#ff1010"/>
<circle cx="373.78" cy="426.39" r="2.5" fill="#ff1010"/>
<circle cx="375.97" cy="427.29" r="2.5" fill="#ff1010"/>
<circle cx="378.16" cy="425.84" r="2.5" fill="#ff1010"/>
<circle cx="380.35" cy="426.80" r="2.5" fill="#ff1010"/>
<circle cx="382.54" cy="425.05" r="2.5" fill="#ff1010"/>
<circle cx="384.73" cy="425.14" r="2.5" fill="#ff1010"/>
<circle cx="386.92" cy="425.00" r="2.5" fill="#ff1010"/>
<circle cx="389.11" cy="426.91" r="2.5" fill="#ff1010"/>
<circle cx="391.30" cy="424.51" r="2.5" fill="#ff1010"/>
<circle cx="393.49" cy="428.76" r="2.5" fill="#ff1010"/>
<circle cx="395.68" cy="428.79" r="2.5" fill="#ff1010"/>
<circle cx="397.87" cy="426.90" r="2.5" fill="#ff1010"/>
<circle cx="400.06" cy="423.80" r="2.5" fill="#ff1010"/>
<circle cx="402.25" cy="431.18" r="2.5" fill="#ff1010"/>
<circle cx="404.44" cy="431.30" r="2.5" fill="#ff1010"/>
<circle cx="406.63" cy="424.95" r="2.5" fill="#ff1010"/>
<circle cx="408.82" cy="430.31" r="2.5" fill="#ff1010"/>
<circle cx="411.01" cy="427.82" r="2.5" fill="#ff1010"/>
<circle cx="413.20" cy="430.66" r="2.5" fill="#ff1010"/>
<circle cx="415.39" cy="425.56" r="2.5" fill="#ff1010"/>
<circle cx="417.58" cy="428.43" r="2.5" fill="#ff1010"/>
<circle cx="419.77" cy="432.25" r="2.5" fill="#ff1010"/>
<circle cx="421.96" cy="431.94" r="2.5" fill="#ff1010"/>
<circle cx="424.15" cy="430.56" r="2.5" fill="#ff1010"/>
<circle cx="426.34" cy="431.57" r="2.5" fill="#ff1010"/>
<circle cx="428.53" cy="435.27" r="2.5" fill="#ff1010"/>
<circle cx="430.72" cy="427.33" r="2.5" fill="#ff1010"/>
<circle cx="432.91" cy="431.74" r="2.5" fill="#ff1010"/>
<circle cx="435.10" cy="431.02" r="2.5" fill="#ff1010"/>
<circle cx="437.29" cy="432.57" r="2.5" fill="#ff1010"/>
<circle cx="439.48" cy="433.01" r="2.5" fill="#ff1010"/>
<circle cx="441.67" cy="430.26" r="2.5" fill="#ff1010"/>
<circle cx="443.86" cy="435.75" r="2.5" fill="#ff1010"/>
<circle cx="446.05" cy="432.88" r="2.5" fill="#ff1010"/>
<circle cx="448.24" cy="435.06" r="2.5" fill="#ff1010"/>
<circle cx="450.43" cy="437.01" r="2.5" fill="#ff1010"/>
<circle cx="452.62" cy="440.30" r="2.5" fill="#ff1010"/>
<circle cx="454.81" cy="432.09" r="2.5" fill="#ff1010"/>
<circle cx="457.00" cy="436.98" r="2.5" fill="#ff1010"/>
<circle cx="459.19" cy="436.95" r="2.5" fill="#ff1010"/>
<circle cx="461.38" cy="434.07" r="2.5" fill="#ff1010"/>
<circle cx="463.57" cy="438.48" r="2.5" fill="#ff1010"/>
<circle cx="465.76" cy="440.49" r="2.5" fill="#ff1010"/>
<circle cx="467.95" cy="439.32" r="2.5" fill="#ff1010"/>
<circle cx="470.14" cy="436.76" r="2.5" fill="#ff1010"/>
<circle cx="472.33" cy="437.89" r="2.5" fill="#ff1010"/>
<circle cx="474.52" cy="434.50" r="2.5" fill="#ff1010"/>
<circle cx="476.71" cy="440.54" r="2.5" fill="#ff1010"/>
<circle cx="478.90" cy="440.38" r="2.5" fill="#ff1010"/>
<circle cx="481.09" cy="441.22" r="2.5" fill="#ff1010"/>
<circle cx="483.28" cy="440.35" r="2.5" fill="#ff1010"/>
<circle cx="485.47" cy="442.78" r="2.5" fill="#ff1010"/>
<circle cx="487.66" cy="443.50" r="2.5" fill="#ff1010"/>
<circle cx="489.85" cy="443.72" r="2.5" fill="#ff1010"/>
<circle cx="492.04" cy="441.16" r="2.5" fill="#ff1010"/>
<circle cx="494.23" cy="447.88" r="2.5" fill="#ff1010"/>
<circle cx="496.42" cy="442.40" r="2.5" fill="#ff1010"/>
<circle cx="498.61" cy="443.91" r="2.5" fill="#ff1010"/>
<circle cx="500.80" cy="445.25" r="2.5" fill="#ff1010"/>
<polygon points="305.89,433.72 306.61,435.63 308.65,435.72 307.05,436.99 307.59,438.96 305.89,437.84 304.19,438.96 304.73,436.99 303.13,435.72 305.17,435.63" fill="#1a1aff"/>
<polygon points="308.08,433.59 308.80,435.50 310.84,435.59 309.24,436.86 309.78,438.83 308.08,437.70 306.38,438.83 306.92,436.86 305.32,435.59 307.36,435.50" fill="#1a1aff"/>
<polygon points="310.27,434.84 310.99,436.76 313.03,436.85 311.43,438.12 311.97,440.09 310.27,438.96 308.57,440.09 309.11,438.12 307.51,436.85 309.55,436.76" fill="#1a1aff"/>
<polygon points="312.46,433.46 313.18,435.38 315.22,435.47 313.62,436.74 314.16,438.71 312.46,437.58 310.76,438.71 311.30,436.74 309.70,435.47 311.74,435.38" fill="#1a1aff"/>
<polygon points="314.65,433.65 315.37,435.56 317.41,435.65 315.81,436.92 316.35,438.89 314.65,437.77 312.95,438.89 313.49,436.92 311.89,435.65 313.93,435.56" fill="#1a1aff"/>
<polygon points="316.84,433.81 317.56,435.73 319.60,435.82 318.00,437.09 318.54,439.06 316.84,437.93 315.14,439.06 315.68,437.09 314.08,435.82 316.12,435.73" fill="#1a1aff"/>
<polygon points="319.03,434.34 319.75,436.26 321.79,436.35 320.19,437.62 320.73,439.59 319.03,438.46 317.33,439.59 317.87,437.62 316.27,436.35 318.31,436.26" fill="#1a1aff"/>
<polygon points="321.22,437.28 321.94,439.19 323.98,439.28 322.38,440.55 322.92,442.52 321.22,441.39 319.52,442.52 320.06,440.55 318.46,439.28 320.50,439.19" fill="#1a1aff"/>
<polygon points="323.41,436.03 324.13,437.95 326.17,438.04 324.57,439.31 325.11,441.28 323.41,440.15 321.71,441.28 322.25,439.31 320.65,438.04 322.69,437.95" fill="#1a1aff"/>
<polygon points="325.60,437.90 326.32,439.82 328.36,439.91 326.76,441.18 327.30,443.15 325.60,442.02 323.90,443.15 324.44,441.18 322.84,439.91 324.88,439.82" fill="#1a1aff"/>
<polygon points="327.79,434.93 328.51,436.85 330.55,436.94 328.95,438.21 329.49,440.18 327.79,439.05 326.09,440.18 326.63,438.21 325.03,436.94 327.07,436.85" fill="#1a1aff"/>
<polygon points="329.98,434.80 330.70,436.71 332.74,436.80 331.14,438.07 331.68,440.04 329.98,438.92 328.28,440.04 328.82,438.07 327.22,436.80 329.26,436.71" fill="#1a1aff"/>
<polygon points="332.17,434.18 332.89,436.10 334.93,436.19 333.33,437.46 333.87,439.43 332.17,438.30 330.47,439.43 331.01,437.46 329.41,436.19 331.45,436.10" fill="#1a1aff"/>
<polygon points="334.36,435.88 335.08,437.79 337.12,437.88 335.52,439.15 336.06,441.12 334.36,439.99 332.66,441.12 333.20,439.15 331.60,437.88 333.64,437.79" fill="#1a1aff"/>
<polygon points="336.55,436.88 337.27,438.80 339.31,438.89 337.71,440.16 338.25,442.13 336.55,441.00 334.85,442.13 335.39,440.16 333.79,438.89 335.83,438.80" fill="#1a1aff"/>
<polygon points="338.74,435.31 339.46,437.22 341.50,437.31 339.90,438.58 340.44,440.55 338.74,439.43 337.04,440.55 337.58,438.58 335.98,437.31 338.02,437.22" fill="#1a1aff"/>
<polygon points="340.93,436.55 341.65,438.46 343.69,438.55 342.09,439.82 342.63,441.79 340.93,440.67 339.23,441.79 339.77,439.82 338.17,438.55 340.21,438.46" fill="#1a1aff"/>
<polygon points="343.12,437.14 343.84,439.05 345.88,439.14 344.28,440.41 344.82,442.38 343.12,441.26 341.42,442.38 341.96,440.41 340.36,439.14 342.40,439.05" fill="#1a1aff"/>
<polygon points="345.31,437.93 346.03,439.85 348.07,439.94 346.47,441.21 347.01,443.18 345.31,442.05 343.61,443.18 344.15,441.21 342.55,439.94 344.59,439.85" fill="#1a1aff"/>
<polygon points="347.50,437.33 348.22,439.25 350.26,439.34 348.66,440.61 349.20,442.58 347.50,441.45 345.80,442.58 346.34,440.61 344.74,439.34 346.78,439.25" fill="#1a1aff"/>
<polygon points="349.69,439.04 350.41,440.96 352.45,441.05 350.85,442.32 351.39,444.29 349.69,443.16 347.99,444.29 348.53,442.32 346.93,441.05 348.97,440.96" fill="#1a1aff"/>
<polygon points="351.88,439.60 352.60,441.52 354.64,441.61 353.04,442.88 353.58,444.85 351.88,443.72 350.18,444.85 350.72,442.88 349.12,441.61 351.16,441.52" fill="#1a1aff"/>
<polygon points="354.07,439.72 354.79,441.63 356.83,441.72 355.23,443.00 355.77,444.97 354.07,443.84 352.37,444.97 352.91,443.00 351.31,441.72 353.35,441.63" fill="#1a1aff"/>
<polygon points="356.26,440.24 356.98,442.16 359.02,442.25 357.42,443.52 357.96,445.49 356.26,444.36 354.56,445.49 355.10,443.52 353.50,442.25 355.54,442.16" fill="#1a1aff"/>
<polygon points="358.45,439.64 359.17,441.56 361.21,441.64 359.61,442.92 360.15,444.89 358.45,443.76 356.75,444.89 357.29,442.92 355.69,441.64 357.73,441.56" fill="#1a1aff"/>
<polygon points="360.64,439.23 361.36,441.15 363.40,441.24 361.80,442.51 362.34,444.48 360.64,443.35 358.94,444.48 359.48,442.51 357.88,441.24 359.92,441.15" fill="#1a1aff"/>
<polygon points="362.83,441.99 363.55,443.90 365.59,443.99 363.99,445.26 364.53,447.23 362.83,446.10 361.13,447.23 361.67,445.26 360.07,443.99 362.11,443.90" fill="#1a1aff"/>
<polygon points="365.02,442.33 365.74,444.25 367.78,444.34 366.18,445.61 366.72,447.58 365.02,446.45 363.32,447.58 363.86,445.61 362.26,444.34 364.30,444.25" fill="#1a1aff"/>
<polygon points="367.21,441.37 367.93,443.29 369.97,443.38 368.37,444.65 368.91,446.62 367.21,445.49 365.51,446.62 366.05,444.65 364.45,443.38 366.49,443.29" fill="#1a1aff"/>
<polygon points="369.40,441.23 370.12,443.14 372.16,443.23 370.56,444.50 371.10,446.47 369.40,445.35 367.70,446.47 368.24,444.50 366.64,443.23 368.68,443.14" fill="#1a1aff"/>
<polygon points="371.59,442.99 372.31,444.90 374.35,444.99 372.75,446.27 373.29,448.24 371.59,447.11 369.89,448.24 370.43,446.27 368.83,444.99 370.87,444.90" fill="#1a1aff"/>
<polygon points="373.78,443.09 374.50,445.01 376.54,445.10 374.94,446.37 375.48,448.34 373.78,447.21 372.08,448.34 372.62,446.37 371.02,445.10 373.06,445.01" fill="#1a1aff"/>
<polygon points="375.97,444.05 376.69,445.96 378.73,446.05 377.13,447.33 377.67,449.29 375.97,448.17 374.27,449.29 374.81,447.33 373.21,446.05 375.25,445.96" fill="#1a1aff"/>
<polygon points="378.16,444.45 378.88,446.36 380.92,446.45 379.32,447.73 379.86,449.70 378.16,448.57 376.46,449.70 377.00,447.73 375.40,446.45 377.44,446.36" fill="#1a1aff"/>
<polygon points="380.35,443.45 381.07,445.37 383.11,445.45 381.51,446.73 382.05,448.70 380.35,447.57 378.65,448.70 379.19,446.73 377.59,445.45 379.63,445.37" fill="#1a1aff"/>
<polygon points="382.54,443.25 383.26,445.16 385.30,445.25 383.70,446.52 384.24,448.49 382.54,447.36 380.84,448.49 381.38,446.52 379.78,445.25 381.82,445.16" fill="#1a1aff"/>
<polygon points="384.73,443.66 385.45,445.58 387.49,445.67 385.89,446.94 386.43,448.91 384.73,447.78 383.03,448.91 383.57,446.94 381.97,445.67 384.01,445.58" fill="#1a1aff"/>
<polygon points="386.92,445.45 387.64,447.36 389.68,447.45 388.08,448.72 388.62,450.69 386.92,449.57 385.22,450.69 385.76,448.72 384.16,447.45 386.20,447.36" fill="#1a1aff"/>
<polygon points="389.11,445.94 389.83,447.86 391.87,447.95 390.27,449.22 390.81,451.19 389.11,450.06 387.41,451.19 387.95,449.22 386.35,447.95 388.39,447.86" fill="#1a1aff"/>
<polygon points="391.30,443.88 392.02,445.80 394.06,445.89 392.46,447.16 393.00,449.13 391.30,448.00 389.60,449.13 390.14,447.16 388.54,445.89 390.58,445.80" fill="#1a1aff"/>
<polygon points="393.49,445.39 394.21,447.30 396.25,447.39 394.65,448.66 395.19,450.63 393.49,449.50 391.79,450.63 392.33,448.66 390.73,447.39 392.77,447.30" fill="#1a1aff"/>
<polygon points="395.68,446.12 396.40,448.03 398.44,448.12 396.84,449.40 397.38,451.37 395.68,450.24 393.98,451.37 394.52,449.40 392.92,448.12 394.96,448.03" fill="#1a1aff"/>
<polygon points="397.87,445.65 398.59,447.56 400.63,447.65 399.03,448.93 399.57,450.90 397.87,449.77 396.17,450.90 396.71,448.93 395.11,447.65 397.15,447.56" fill="#1a1aff"/>
<polygon points="400.06,445.90 400.78,447.81 402.82,447.90 401.22,449.17 401.76,451.14 400.06,450.01 398.36,451.14 398.90,449.17 397.30,447.90 399.34,447.81" fill="#1a1aff"/>
<polygon points="402.25,446.85 402.97,448.76 405.01,448.85 403.41,450.12 403.95,452.09 402.25,450.96 400.55,452.09 401.09,450.12 399.49,448.85 401.53,448.76" fill="#1a1aff"/>
<polygon points="404.44,448.50 405.16,450.42 407.20,450.51 405.60,451.78 406.14,453.75 404.44,452.62 402.74,453.75 403.28,451.78 401.68,450.51 403.72,450.42" fill="#1a1aff"/>
<polygon points="406.63,446.67 407.35,448.59 409.39,448.67 407.79,449.95 408.33,451.92 406.63,450.79 404.93,451.92 405.47,449.95 403.87,448.67 405.91,448.59" fill="#1a1aff"/>
<polygon points="408.82,449.22 409.54,451.14 411.58,451.23 409.98,452.50 410.52,454.47 408.82,453.34 407.12,454.47 407.66,452.50 406.06,451.23 408.10,451.14" fill="#1a1aff"/>
<polygon points="411.01,450.49 411.73,452.40 413.77,452.49 412.17,453.77 412.71,455.73 411.01,454.61 409.31,455.73 409.85,453.77 408.25,452.49 410.29,452.40" fill="#1a1aff"/>
<polygon points="413.20,450.34 413.92,452.25 415.96,452.34 414.36,453.62 414.90,455.58 413.20,454.46 411.50,455.58 412.04,453.62 410.44,452.34 412.48,452.25" fill="#1a1aff"/>
<polygon points="415.39,450.57 416.11,452.49 418.15,452.58 416.55,453.85 417.09,455.82 415.39,454.69 413.69,455.82 414.23,453.85 412.63,452.58 414.67,452.49" fill="#1a1aff"/>
<polygon points="417.58,451.05 418.30,452.97 420.34,453.06 418.74,454.33 419.28,456.30 417.58,455.17 415.88,456.30 416.42,454.33 414.82,453.06 416.86,452.97" fill="#1a1aff"/>
<polygon points="419.77,453.14 420.49,455.05 422.53,455.14 420.93,456.42 421.47,458.39 419.77,457.26 418.07,458.39 418.61,456.42 417.01,455.14 419.05,455.05" fill="#1a1aff"/>
<polygon points="421.96,452.34 422.68,454.25 424.72,454.34 423.12,455.61 423.66,457.58 421.96,456.45 420.26,457.58 420.80,455.61 419.20,454.34 421.24,454.25" fill="#1a1aff"/>
<polygon points="424.15,453.73 424.87,455.64 426.91,455.73 425.31,457.00 425.85,458.97 424.15,457.85 422.45,458.97 422.99,457.00 421.39,455.73 423.43,455.64" fill="#1a1aff"/>
<polygon points="426.34,455.51 427.06,457.42 429.10,457.51 427.50,458.78 428.04,460.75 426.34,459.62 424.64,460.75 425.18,458.78 423.58,457.51 425.62,457.42" fill="#1a1aff"/>
<polygon points="428.53,454.31 429.25,456.22 431.29,456.31 429.69,457.58 430.23,459.55 428.53,458.42 426.83,459.55 427.37,457.58 425.77,456.31 427.81,456.22" fill="#1a1aff"/>
<polygon points="430.72,455.25 431.44,457.16 433.48,457.25 431.88,458.52 432.42,460.49 430.72,459.36 429.02,460.49 429.56,458.52 427.96,457.25 430.00,457.16" fill="#1a1aff"/>
<polygon points="432.91,455.77 433.63,457.68 435.67,457.77 434.07,459.04 434.61,461.01 432.91,459.88 431.21,461.01 431.75,459.04 430.15,457.77 432.19,457.68" fill="#1a1aff"/>
<polygon points="435.10,457.24 435.82,459.15 437.86,459.24 436.26,460.52 436.80,462.49 435.10,461.36 433.40,462.49 433.94,460.52 432.34,459.24 434.38,459.15" fill="#1a1aff"/>
<polygon points="437.29,459.40 438.01,461.31 440.05,461.40 438.45,462.68 438.99,464.65 437.29,463.52 435.59,464.65 436.13,462.68 434.53,461.40 436.57,461.31" fill="#1a1aff"/>
<polygon points="439.48,458.41 440.20,460.33 442.24,460.42 440.64,461.69 441.18,463.66 439.48,462.53 437.78,463.66 438.32,461.69 436.72,460.42 438.76,460.33" fill="#1a1aff"/>
<polygon points="441.67,458.70 442.39,460.61 444.43,460.70 442.83,461.97 443.37,463.94 441.67,462.81 439.97,463.94 440.51,461.97 438.91,460.70 440.95,460.61" fill="#1a1aff"/>
<polygon points="443.86,460.42 444.58,462.34 446.62,462.43 445.02,463.70 445.56,465.67 443.86,464.54 442.16,465.67 442.70,463.70 441.10,462.43 443.14,462.34" fill="#1a1aff"/>
<polygon points="446.05,459.98 446.77,461.89 448.81,461.98 447.21,463.25 447.75,465.22 446.05,464.10 444.35,465.22 444.89,463.25 443.29,461.98 445.33,461.89" fill="#1a1aff"/>
<polygon points="448.24,460.45 448.96,462.36 451.00,462.45 449.40,463.72 449.94,465.69 448.24,464.56 446.54,465.69 447.08,463.72 445.48,462.45 447.52,462.36" fill="#1a1aff"/>
<polygon points="450.43,462.75 451.15,464.66 453.19,464.75 451.59,466.02 452.13,467.99 450.43,466.87 448.73,467.99 449.27,466.02 447.67,464.75 449.71,464.66" fill="#1a1aff"/>
<polygon points="452.62,461.75 453.34,463.66 455.38,463.75 453.78,465.02 454.32,466.99 452.62,465.86 450.92,466.99 451.46,465.02 449.86,463.75 451.90,463.66" fill="#1a1aff"/>
<polygon points="454.81,462.37 455.53,464.28 457.57,464.37 455.97,465.64 456.51,467.61 454.81,466.49 453.11,467.61 453.65,465.64 452.05,464.37 454.09,464.28" fill="#1a1aff"/>
<polygon points="457.00,463.39 457.72,465.31 459.76,465.40 458.16,466.67 458.70,468.64 457.00,467.51 455.30,468.64 455.84,466.67 454.24,465.40 456.28,465.31" fill="#1a1aff"/>
<polygon points="459.19,466.29 459.91,468.20 461.95,468.29 460.35,469.56 460.89,471.53 459.19,470.41 457.49,471.53 458.03,469.56 456.43,468.29 458.47,468.20" fill="#1a1aff"/>
<polygon points="461.38,465.90 462.10,467.82 464.14,467.90 462.54,469.18 463.08,471.15 461.38,470.02 459.68,471.15 460.22,469.18 458.62,467.90 460.66,467.82" fill="#1a1aff"/>
<polygon points="463.57,465.41 464.29,467.32 466.33,467.41 464.73,468.68 465.27,470.65 463.57,469.53 461.87,470.65 462.41,468.68 460.81,467.41 462.85,467.32" fill="#1a1aff"/>
<polygon points="465.76,465.70 466.48,467.61 468.52,467.70 466.92,468.97 467.46,470.94 465.76,469.81 464.06,470.94 464.60,468.97 463.00,467.70 465.04,467.61" fill="#1a1aff"/>
<polygon points="467.95,465.53 468.67,467.45 470.71,467.54 469.11,468.81 469.65,470.78 467.95,469.65 466.25,470.78 466.79,468.81 465.19,467.54 467.23,467.45" fill="#1a1aff"/>
<polygon points="470.14,466.12 470.86,468.04 472.90,468.12 471.30,469.40 471.84,471.37 470.14,470.24 468.44,471.37 468.98,469.40 467.38,468.12 469.42,468.04" fill="#1a1aff"/>
<polygon points="472.33,467.81 473.05,469.72 475.09,469.81 473.49,471.08 474.03,473.05 472.33,471.93 470.63,473.05 471.17,471.08 469.57,469.81 471.61,469.72" fill="#1a1aff"/>
<polygon points="474.52,465.83 475.24,467.75 477.28,467.84 475.68,469.11 476.22,471.08 474.52,469.95 472.82,471.08 473.36,469.11 471.76,467.84 473.80,467.75" fill="#1a1aff"/>
<polygon points="476.71,467.05 477.43,468.97 479.47,469.06 477.87,470.33 478.41,472.30 476.71,471.17 475.01,472.30 475.55,470.33 473.95,469.06 475.99,468.97" fill="#1a1aff"/>
<polygon points="478.90,466.11 479.62,468.03 481.66,468.12 480.06,469.39 480.60,471.36 478.90,470.23 477.20,471.36 477.74,469.39 476.14,468.12 478.18,468.03" fill="#1a1aff"/>
<polygon points="481.09,468.15 481.81,470.06 483.85,470.15 482.25,471.43 482.79,473.40 481.09,472.27 479.39,473.40 479.93,471.43 478.33,470.15 480.37,470.06" fill="#1a1aff"/>
<polygon points="483.28,465.91 484.00,467.82 486.04,467.91 484.44,469.18 484.98,471.15 483.28,470.02 481.58,471.15 482.12,469.18 480.52,467.91 482.56,467.82" fill="#1a1aff"/>
<polygon points="485.47,467.27 486.19,469.18 488.23,469.27 486.63,470.54 487.17,472.51 485.47,471.39 483.77,472.51 484.31,470.54 482.71,469.27 484.75,469.18" fill="#1a1aff"/>
<polygon points="487.66,466.69 488.38,468.61 490.42,468.70 488.82,469.97 489.36,471.94 487.66,470.81 485.96,471.94 486.50,469.97 484.90,468.70 486.94,468.61" fill="#1a1aff"/>
<polygon points="489.85,467.61 490.57,469.52 492.61,469.61 491.01,470.88 491.55,472.85 489.85,471.72 488.15,472.85 488.69,470.88 487.09,469.61 489.13,469.52" fill="#1a1aff"/>
<polygon points="492.04,468.00 492.76,469.92 494.80,470.00 493.20,471.28 493.74,473.25 492.04,472.12 490.34,473.25 490.88,471.28 489.28,470.00 491.32,469.92" fill="#1a1aff"/>
<polygon points="494.23,470.33 494.95,472.25 496.99,472.33 495.39,473.61 495.93,475.58 494.23,474.45 492.53,475.58 493.07,473.61 491.47,472.33 493.51,472.25" fill="#1a1aff"/>
<polygon points="496.42,472.77 497.14,474.68 499.18,474.77 497.58,476.05 498.12,478.02 496.42,476.89 494.72,478.02 495.26,476.05 493.66,474.77 495.70,474.68" fill="#1a1aff"/>
<polygon points="498.61,473.45 499.33,475.36 501.37,475.45 499.77,476.73 500.31,478.69 498.61,477.57 496.91,478.69 497.45,476.73 495.85,475.45 497.89,475.36" fill="#1a1aff"/>
<polygon points="500.80,475.73 501.52,477.65 503.56,477.74 501.96,479.01 502.50,480.98 500.80,479.85 499.10,480.98 499.64,479.01 498.04,477.74 500.08,477.65" fill="#1a1aff"/>
</g>
<defs><clipPath id="clipF"><rect x="303.7" y="376.3" width="199.5" height="146"/></clipPath></defs>
<rect x="303.7" y="376.3" width="199.50" height="146.00" fill="none" stroke="#2a2a2a" stroke-width="1.3"/>
<line x1="303.70" y1="522.3" x2="303.70" y2="519.3" stroke="#2a2a2a" stroke-width="1"/>
<text x="303.70" y="531.70" font-family='"Liberation Serif", serif' font-size="7.5" text-anchor="middle" font-weight="normal" fill="#222" >0</text>
<line x1="314.65" y1="522.3" x2="314.65" y2="520.5" stroke="#2a2a2a" stroke-width="1"/>
<line x1="325.60" y1="522.3" x2="325.60" y2="519.3" stroke="#2a2a2a" stroke-width="1"/>
<text x="325.60" y="531.70" font-family='"Liberation Serif", serif' font-size="7.5" text-anchor="middle" font-weight="normal" fill="#222" >10</text>
<line x1="336.55" y1="522.3" x2="336.55" y2="520.5" stroke="#2a2a2a" stroke-width="1"/>
<line x1="347.50" y1="522.3" x2="347.50" y2="519.3" stroke="#2a2a2a" stroke-width="1"/>
<text x="347.50" y="531.70" font-family='"Liberation Serif", serif' font-size="7.5" text-anchor="middle" font-weight="normal" fill="#222" >20</text>
<line x1="358.45" y1="522.3" x2="358.45" y2="520.5" stroke="#2a2a2a" stroke-width="1"/>
<line x1="369.40" y1="522.3" x2="369.40" y2="519.3" stroke="#2a2a2a" stroke-width="1"/>
<text x="369.40" y="531.70" font-family='"Liberation Serif", serif' font-size="7.5" text-anchor="middle" font-weight="normal" fill="#222" >30</text>
<line x1="380.35" y1="522.3" x2="380.35" y2="520.5" stroke="#2a2a2a" stroke-width="1"/>
<line x1="391.30" y1="522.3" x2="391.30" y2="519.3" stroke="#2a2a2a" stroke-width="1"/>
<text x="391.30" y="531.70" font-family='"Liberation Serif", serif' font-size="7.5" text-anchor="middle" font-weight="normal" fill="#222" >40</text>
<line x1="402.25" y1="522.3" x2="402.25" y2="520.5" stroke="#2a2a2a" stroke-width="1"/>
<line x1="413.20" y1="522.3" x2="413.20" y2="519.3" stroke="#2a2a2a" stroke-width="1"/>
<text x="413.20" y="531.70" font-family='"Liberation Serif", serif' font-size="7.5" text-anchor="middle" font-weight="normal" fill="#222" >50</text>
<line x1="424.15" y1="522.3" x2="424.15" y2="520.5" stroke="#2a2a2a" stroke-width="1"/>
<line x1="435.10" y1="522.3" x2="435.10" y2="519.3" stroke="#2a2a2a" stroke-width="1"/>
<text x="435.10" y="531.70" font-family='"Liberation Serif", serif' font-size="7.5" text-anchor="middle" font-weight="normal" fill="#222" >60</text>
<line x1="446.05" y1="522.3" x2="446.05" y2="520.5" stroke="#2a2a2a" stroke-width="1"/>
<line x1="457.00" y1="522.3" x2="457.00" y2="519.3" stroke="#2a2a2a" stroke-width="1"/>
<text x="457.00" y="531.70" font-family='"Liberation Serif", serif' font-size="7.5" text-anchor="middle" font-weight="normal" fill="#222" >70</text>
<line x1="467.95" y1="522.3" x2="467.95" y2="520.5" stroke="#2a2a2a" stroke-width="1"/>
<line x1="478.90" y1="522.3" x2="478.90" y2="519.3" stroke="#2a2a2a" stroke-width="1"/>
<text x="478.90" y="531.70" font-family='"Liberation Serif", serif' font-size="7.5" text-anchor="middle" font-weight="normal" fill="#222" >80</text>
<line x1="489.85" y1="522.3" x2="489.85" y2="520.5" stroke="#2a2a2a" stroke-width="1"/>
<line x1="500.80" y1="522.3" x2="500.80" y2="519.3" stroke="#2a2a2a" stroke-width="1"/>
<text x="500.80" y="531.70" font-family='"Liberation Serif", serif' font-size="7.5" text-anchor="middle" font-weight="normal" fill="#222" >90</text>
<line x1="303.7" y1="522.30" x2="306.7" y2="522.30" stroke="#2a2a2a" stroke-width="1"/>
<text x="300.50" y="525.00" font-family='"Liberation Serif", serif' font-size="7.5" text-anchor="end" font-weight="normal" fill="#111" stroke="#111" stroke-width="0.12">0</text>
<line x1="303.7" y1="514.19" x2="305.5" y2="514.19" stroke="#2a2a2a" stroke-width="1"/>
<line x1="303.7" y1="506.08" x2="306.7" y2="506.08" stroke="#2a2a2a" stroke-width="1"/>
<text x="300.50" y="508.78" font-family='"Liberation Serif", serif' font-size="7.5" text-anchor="end" font-weight="normal" fill="#111" stroke="#111" stroke-width="0.12">20</text>
<line x1="303.7" y1="497.97" x2="305.5" y2="497.97" stroke="#2a2a2a" stroke-width="1"/>
<line x1="303.7" y1="489.86" x2="306.7" y2="489.86" stroke="#2a2a2a" stroke-width="1"/>
<text x="300.50" y="492.56" font-family='"Liberation Serif", serif' font-size="7.5" text-anchor="end" font-weight="normal" fill="#111" stroke="#111" stroke-width="0.12">40</text>
<line x1="303.7" y1="481.74" x2="305.5" y2="481.74" stroke="#2a2a2a" stroke-width="1"/>
<line x1="303.7" y1="473.63" x2="306.7" y2="473.63" stroke="#2a2a2a" stroke-width="1"/>
<text x="300.50" y="476.33" font-family='"Liberation Serif", serif' font-size="7.5" text-anchor="end" font-weight="normal" fill="#111" stroke="#111" stroke-width="0.12">60</text>
<line x1="303.7" y1="465.52" x2="305.5" y2="465.52" stroke="#2a2a2a" stroke-width="1"/>
<line x1="303.7" y1="457.41" x2="306.7" y2="457.41" stroke="#2a2a2a" stroke-width="1"/>
<text x="300.50" y="460.11" font-family='"Liberation Serif", serif' font-size="7.5" text-anchor="end" font-weight="normal" fill="#111" stroke="#111" stroke-width="0.12">80</text>
<line x1="303.7" y1="449.30" x2="305.5" y2="449.30" stroke="#2a2a2a" stroke-width="1"/>
<line x1="303.7" y1="441.19" x2="306.7" y2="441.19" stroke="#2a2a2a" stroke-width="1"/>
<text x="300.50" y="443.89" font-family='"Liberation Serif", serif' font-size="7.5" text-anchor="end" font-weight="normal" fill="#111" stroke="#111" stroke-width="0.12">100</text>
<line x1="303.7" y1="433.08" x2="305.5" y2="433.08" stroke="#2a2a2a" stroke-width="1"/>
<line x1="303.7" y1="424.97" x2="306.7" y2="424.97" stroke="#2a2a2a" stroke-width="1"/>
<text x="300.50" y="427.67" font-family='"Liberation Serif", serif' font-size="7.5" text-anchor="end" font-weight="normal" fill="#111" stroke="#111" stroke-width="0.12">120</text>
<line x1="303.7" y1="416.86" x2="305.5" y2="416.86" stroke="#2a2a2a" stroke-width="1"/>
<line x1="303.7" y1="408.74" x2="306.7" y2="408.74" stroke="#2a2a2a" stroke-width="1"/>
<text x="300.50" y="411.44" font-family='"Liberation Serif", serif' font-size="7.5" text-anchor="end" font-weight="normal" fill="#111" stroke="#111" stroke-width="0.12">140</text>
<line x1="303.7" y1="400.63" x2="305.5" y2="400.63" stroke="#2a2a2a" stroke-width="1"/>
<line x1="303.7" y1="392.52" x2="306.7" y2="392.52" stroke="#2a2a2a" stroke-width="1"/>
<text x="300.50" y="395.22" font-family='"Liberation Serif", serif' font-size="7.5" text-anchor="end" font-weight="normal" fill="#111" stroke="#111" stroke-width="0.12">160</text>
<line x1="303.7" y1="384.41" x2="305.5" y2="384.41" stroke="#2a2a2a" stroke-width="1"/>
<line x1="303.7" y1="376.30" x2="306.7" y2="376.30" stroke="#2a2a2a" stroke-width="1"/>
<text x="300.50" y="379.00" font-family='"Liberation Serif", serif' font-size="7.5" text-anchor="end" font-weight="normal" fill="#111" stroke="#111" stroke-width="0.12">180</text>
<line x1="503.2" y1="522.30" x2="500.2" y2="522.30" stroke="#2a2a2a" stroke-width="1"/>
<text x="506.50" y="525.00" font-family='"Liberation Serif", serif' font-size="7.5" text-anchor="start" font-weight="normal" fill="#222" >60</text>
<line x1="503.2" y1="506.08" x2="501.4" y2="506.08" stroke="#2a2a2a" stroke-width="1"/>
<line x1="503.2" y1="489.86" x2="500.2" y2="489.86" stroke="#2a2a2a" stroke-width="1"/>
<text x="506.50" y="492.56" font-family='"Liberation Serif", serif' font-size="7.5" text-anchor="start" font-weight="normal" fill="#222" >70</text>
<line x1="503.2" y1="473.64" x2="501.4" y2="473.64" stroke="#2a2a2a" stroke-width="1"/>
<line x1="503.2" y1="457.42" x2="500.2" y2="457.42" stroke="#2a2a2a" stroke-width="1"/>
<text x="506.50" y="460.12" font-family='"Liberation Serif", serif' font-size="7.5" text-anchor="start" font-weight="normal" fill="#222" >80</text>
<line x1="503.2" y1="441.20" x2="501.4" y2="441.20" stroke="#2a2a2a" stroke-width="1"/>
<line x1="503.2" y1="424.98" x2="500.2" y2="424.98" stroke="#2a2a2a" stroke-width="1"/>
<text x="506.50" y="427.68" font-family='"Liberation Serif", serif' font-size="7.5" text-anchor="start" font-weight="normal" fill="#222" >90</text>
<line x1="503.2" y1="408.76" x2="501.4" y2="408.76" stroke="#2a2a2a" stroke-width="1"/>
<line x1="503.2" y1="392.54" x2="500.2" y2="392.54" stroke="#2a2a2a" stroke-width="1"/>
<text x="506.50" y="395.24" font-family='"Liberation Serif", serif' font-size="7.5" text-anchor="start" font-weight="normal" fill="#222" >100</text>
<line x1="503.2" y1="376.32" x2="501.4" y2="376.32" stroke="#2a2a2a" stroke-width="1"/>
<text x="266.50" y="368.60" font-family='"Liberation Serif", serif' font-size="20.5" text-anchor="start" font-weight="normal" fill="#111" >(f)</text>
<polygon points="317.50,475.70 318.04,477.15 319.59,477.22 318.38,478.19 318.79,479.68 317.50,478.82 316.21,479.68 316.62,478.19 315.41,477.22 316.96,477.15" fill="#2020ff"/>
<circle cx="317.5" cy="486.5" r="2" fill="#fff" stroke="#ff2020" stroke-width="0.9"/>
<path d="M317.5,484.5 A2,2 0 0,1 317.5,488.5 Z" fill="#ff2020"/>
<line x1="309.6" y1="498" x2="325.5" y2="498" stroke="#7070ff" stroke-width="1"/>
<polygon points="317.50,495.60 318.09,497.18 319.78,497.26 318.46,498.31 318.91,499.94 317.50,499.01 316.09,499.94 316.54,498.31 315.22,497.26 316.91,497.18" fill="#2020ff"/>
<line x1="309.6" y1="508" x2="325.5" y2="508" stroke="#ff8080" stroke-width="1"/>
<circle cx="317.50" cy="508.00" r="2.1" fill="#ff1010"/>
<text x="327.5" y="480.5" font-family='"Liberation Serif", serif' font-size="7.3" fill="#333">Coulombic efficiency of Li|NCM811</text>
<text x="327.5" y="489.3" font-family='"Liberation Serif", serif' font-size="7.3" fill="#333">Coulombic efficiency of Li<tspan font-size="4" dy="1.6">0.98</tspan><tspan dy="-1.6">Sn</tspan><tspan font-size="4" dy="1.6">0.02</tspan><tspan dy="-1.6">|NCM811</tspan></text>
<text x="327.5" y="500.5" font-family='"Liberation Serif", serif' font-size="7.3" fill="#333">Discharge capacity of Li|NCM811</text>
<text x="327.5" y="510.5" font-family='"Liberation Serif", serif' font-size="7.3" fill="#333">Discharge capacity of Li<tspan font-size="4" dy="1.6">0.98</tspan><tspan dy="-1.6">Sn</tspan><tspan font-size="4" dy="1.6">0.02</tspan><tspan dy="-1.6">|NCM811</tspan></text>
<text x="381.7" y="540.8" font-family='"Liberation Serif", serif' font-size="9.4" fill="#1a1a1a">Cycle number</text>
<text x="0" y="0" transform="translate(285,447.3) rotate(-90)" font-family='"Liberation Serif", serif' font-size="10.2" text-anchor="middle" fill="#1a1a1a">Discharge capacity (mAh g<tspan font-size="6" dy="-4">-1</tspan><tspan dy="4">)</tspan></text>
<text x="0" y="0" transform="translate(519.8,450) rotate(-90)" font-family='"Liberation Serif", serif' font-size="9.5" text-anchor="middle" fill="#1a1a1a">Coulombic efficiency (%)</text>
</svg></body></html>
